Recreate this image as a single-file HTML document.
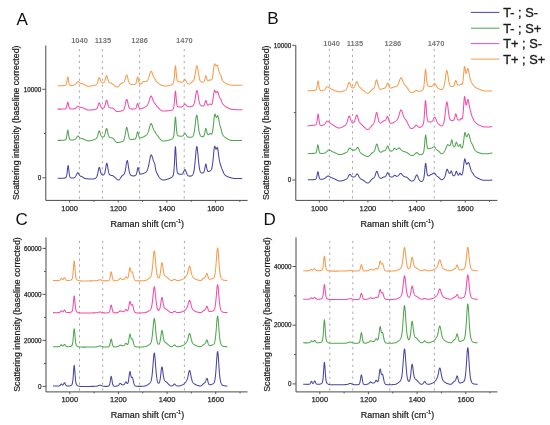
<!DOCTYPE html><html><head><meta charset="utf-8"><style>html,body{margin:0;padding:0;background:#fff;width:550px;height:425px;overflow:hidden}svg{display:block;-webkit-font-smoothing:antialiased;will-change:transform}</style></head><body>
<svg width="550" height="425" viewBox="0 0 550 425" font-family='"Liberation Sans", sans-serif'>
<rect width="550" height="425" fill="#fff"/>
<text x="16.6" y="24.8" font-size="17" fill="#111">A</text>
<text x="267.3" y="23.5" font-size="17" fill="#111">B</text>
<text x="15.4" y="225.0" font-size="17" fill="#111">C</text>
<text x="263.6" y="225.0" font-size="17" fill="#111">D</text>
<line x1="79.4" y1="49.0" x2="79.4" y2="200.4" stroke="#9c9c9c" stroke-width="0.85" stroke-dasharray="2.3 3.6"/>
<line x1="102.4" y1="49.0" x2="102.4" y2="200.4" stroke="#9c9c9c" stroke-width="0.85" stroke-dasharray="2.3 3.6"/>
<line x1="139.6" y1="49.0" x2="139.6" y2="200.4" stroke="#9c9c9c" stroke-width="0.85" stroke-dasharray="2.3 3.6"/>
<line x1="184.2" y1="49.0" x2="184.2" y2="200.4" stroke="#9c9c9c" stroke-width="0.85" stroke-dasharray="2.3 3.6"/>
<path d="M45.8,45.5 V200.4 H247.6" fill="none" stroke="#4a4a4a" stroke-width="1"/>
<line x1="69.60" y1="200.4" x2="69.60" y2="202.6" stroke="#4a4a4a" stroke-width="0.9"/>
<text x="69.60" y="210.50" font-size="7.5" fill="#2a2a2a" stroke="#2a2a2a" stroke-width="0.25" text-anchor="middle">1000</text>
<line x1="93.92" y1="200.4" x2="93.92" y2="201.9" stroke="#4a4a4a" stroke-width="0.9"/>
<line x1="118.24" y1="200.4" x2="118.24" y2="202.6" stroke="#4a4a4a" stroke-width="0.9"/>
<text x="118.24" y="210.50" font-size="7.5" fill="#2a2a2a" stroke="#2a2a2a" stroke-width="0.25" text-anchor="middle">1200</text>
<line x1="142.56" y1="200.4" x2="142.56" y2="201.9" stroke="#4a4a4a" stroke-width="0.9"/>
<line x1="166.88" y1="200.4" x2="166.88" y2="202.6" stroke="#4a4a4a" stroke-width="0.9"/>
<text x="166.88" y="210.50" font-size="7.5" fill="#2a2a2a" stroke="#2a2a2a" stroke-width="0.25" text-anchor="middle">1400</text>
<line x1="191.20" y1="200.4" x2="191.20" y2="201.9" stroke="#4a4a4a" stroke-width="0.9"/>
<line x1="215.52" y1="200.4" x2="215.52" y2="202.6" stroke="#4a4a4a" stroke-width="0.9"/>
<text x="215.52" y="210.50" font-size="7.5" fill="#2a2a2a" stroke="#2a2a2a" stroke-width="0.25" text-anchor="middle">1600</text>
<line x1="239.84" y1="200.4" x2="239.84" y2="201.9" stroke="#4a4a4a" stroke-width="0.9"/>
<line x1="42.3" y1="177.8" x2="45.8" y2="177.8" stroke="#4a4a4a" stroke-width="0.9"/>
<text x="41.20" y="180.00" font-size="6.3" fill="#2a2a2a" stroke="#2a2a2a" stroke-width="0.25" text-anchor="end">0</text>
<line x1="43.8" y1="133.5" x2="45.8" y2="133.5" stroke="#4a4a4a" stroke-width="0.9"/>
<line x1="42.3" y1="89.3" x2="45.8" y2="89.3" stroke="#4a4a4a" stroke-width="0.9"/>
<text x="41.20" y="91.50" font-size="6.3" fill="#2a2a2a" stroke="#2a2a2a" stroke-width="0.25" text-anchor="end">10000</text>
<text x="110.50" y="226.50" font-size="9" fill="#1a1a1a" stroke="#1a1a1a" stroke-width="0.2">Raman shift (cm<tspan font-size="5.6" dy="-3.6">-1</tspan><tspan dy="3.6">)</tspan></text>
<text transform="translate(19.30,122.8) rotate(-90)" x="0" y="0" font-size="8.8" fill="#1a1a1a" stroke="#1a1a1a" stroke-width="0.2" text-anchor="middle">Scattering intensity (baseline corrected)</text>
<line x1="329.4" y1="48.8" x2="329.4" y2="200.4" stroke="#9c9c9c" stroke-width="0.85" stroke-dasharray="2.3 3.6"/>
<line x1="352.5" y1="48.8" x2="352.5" y2="200.4" stroke="#9c9c9c" stroke-width="0.85" stroke-dasharray="2.3 3.6"/>
<line x1="389.6" y1="48.8" x2="389.6" y2="200.4" stroke="#9c9c9c" stroke-width="0.85" stroke-dasharray="2.3 3.6"/>
<line x1="434.2" y1="48.8" x2="434.2" y2="200.4" stroke="#9c9c9c" stroke-width="0.85" stroke-dasharray="2.3 3.6"/>
<path d="M295.8,45.3 V200.4 H497.4" fill="none" stroke="#4a4a4a" stroke-width="1"/>
<line x1="319.30" y1="200.4" x2="319.30" y2="202.6" stroke="#4a4a4a" stroke-width="0.9"/>
<text x="319.30" y="210.50" font-size="7.5" fill="#2a2a2a" stroke="#2a2a2a" stroke-width="0.25" text-anchor="middle">1000</text>
<line x1="343.62" y1="200.4" x2="343.62" y2="201.9" stroke="#4a4a4a" stroke-width="0.9"/>
<line x1="367.94" y1="200.4" x2="367.94" y2="202.6" stroke="#4a4a4a" stroke-width="0.9"/>
<text x="367.94" y="210.50" font-size="7.5" fill="#2a2a2a" stroke="#2a2a2a" stroke-width="0.25" text-anchor="middle">1200</text>
<line x1="392.26" y1="200.4" x2="392.26" y2="201.9" stroke="#4a4a4a" stroke-width="0.9"/>
<line x1="416.58" y1="200.4" x2="416.58" y2="202.6" stroke="#4a4a4a" stroke-width="0.9"/>
<text x="416.58" y="210.50" font-size="7.5" fill="#2a2a2a" stroke="#2a2a2a" stroke-width="0.25" text-anchor="middle">1400</text>
<line x1="440.90" y1="200.4" x2="440.90" y2="201.9" stroke="#4a4a4a" stroke-width="0.9"/>
<line x1="465.22" y1="200.4" x2="465.22" y2="202.6" stroke="#4a4a4a" stroke-width="0.9"/>
<text x="465.22" y="210.50" font-size="7.5" fill="#2a2a2a" stroke="#2a2a2a" stroke-width="0.25" text-anchor="middle">1600</text>
<line x1="489.54" y1="200.4" x2="489.54" y2="201.9" stroke="#4a4a4a" stroke-width="0.9"/>
<line x1="292.3" y1="180.0" x2="295.8" y2="180.0" stroke="#4a4a4a" stroke-width="0.9"/>
<text x="291.20" y="182.20" font-size="6.3" fill="#2a2a2a" stroke="#2a2a2a" stroke-width="0.25" text-anchor="end">0</text>
<line x1="293.8" y1="112.6" x2="295.8" y2="112.6" stroke="#4a4a4a" stroke-width="0.9"/>
<line x1="292.3" y1="45.3" x2="295.8" y2="45.3" stroke="#4a4a4a" stroke-width="0.9"/>
<text x="291.20" y="47.50" font-size="6.3" fill="#2a2a2a" stroke="#2a2a2a" stroke-width="0.25" text-anchor="end">10000</text>
<text x="360.50" y="226.50" font-size="9" fill="#1a1a1a" stroke="#1a1a1a" stroke-width="0.2">Raman shift (cm<tspan font-size="5.6" dy="-3.6">-1</tspan><tspan dy="3.6">)</tspan></text>
<text transform="translate(269.30,122.8) rotate(-90)" x="0" y="0" font-size="8.8" fill="#1a1a1a" stroke="#1a1a1a" stroke-width="0.2" text-anchor="middle">Scattering intensity (baseline corrected)</text>
<line x1="79.5" y1="240.8" x2="79.5" y2="391.9" stroke="#9c9c9c" stroke-width="0.85" stroke-dasharray="2.3 3.6"/>
<line x1="102.7" y1="240.8" x2="102.7" y2="391.9" stroke="#9c9c9c" stroke-width="0.85" stroke-dasharray="2.3 3.6"/>
<line x1="139.6" y1="240.8" x2="139.6" y2="391.9" stroke="#9c9c9c" stroke-width="0.85" stroke-dasharray="2.3 3.6"/>
<line x1="184.4" y1="240.8" x2="184.4" y2="391.9" stroke="#9c9c9c" stroke-width="0.85" stroke-dasharray="2.3 3.6"/>
<path d="M46.0,237.3 V391.9 H247.5" fill="none" stroke="#4a4a4a" stroke-width="1"/>
<line x1="69.80" y1="391.9" x2="69.80" y2="394.09999999999997" stroke="#4a4a4a" stroke-width="0.9"/>
<text x="69.80" y="402.00" font-size="7.5" fill="#2a2a2a" stroke="#2a2a2a" stroke-width="0.25" text-anchor="middle">1000</text>
<line x1="94.12" y1="391.9" x2="94.12" y2="393.4" stroke="#4a4a4a" stroke-width="0.9"/>
<line x1="118.44" y1="391.9" x2="118.44" y2="394.09999999999997" stroke="#4a4a4a" stroke-width="0.9"/>
<text x="118.44" y="402.00" font-size="7.5" fill="#2a2a2a" stroke="#2a2a2a" stroke-width="0.25" text-anchor="middle">1200</text>
<line x1="142.76" y1="391.9" x2="142.76" y2="393.4" stroke="#4a4a4a" stroke-width="0.9"/>
<line x1="167.08" y1="391.9" x2="167.08" y2="394.09999999999997" stroke="#4a4a4a" stroke-width="0.9"/>
<text x="167.08" y="402.00" font-size="7.5" fill="#2a2a2a" stroke="#2a2a2a" stroke-width="0.25" text-anchor="middle">1400</text>
<line x1="191.40" y1="391.9" x2="191.40" y2="393.4" stroke="#4a4a4a" stroke-width="0.9"/>
<line x1="215.72" y1="391.9" x2="215.72" y2="394.09999999999997" stroke="#4a4a4a" stroke-width="0.9"/>
<text x="215.72" y="402.00" font-size="7.5" fill="#2a2a2a" stroke="#2a2a2a" stroke-width="0.25" text-anchor="middle">1600</text>
<line x1="240.04" y1="391.9" x2="240.04" y2="393.4" stroke="#4a4a4a" stroke-width="0.9"/>
<line x1="42.5" y1="386.4" x2="46.0" y2="386.4" stroke="#4a4a4a" stroke-width="0.9"/>
<text x="41.40" y="388.60" font-size="6.3" fill="#2a2a2a" stroke="#2a2a2a" stroke-width="0.25" text-anchor="end">0</text>
<line x1="44.0" y1="363.4" x2="46.0" y2="363.4" stroke="#4a4a4a" stroke-width="0.9"/>
<line x1="42.5" y1="340.4" x2="46.0" y2="340.4" stroke="#4a4a4a" stroke-width="0.9"/>
<text x="41.40" y="342.60" font-size="6.3" fill="#2a2a2a" stroke="#2a2a2a" stroke-width="0.25" text-anchor="end">20000</text>
<line x1="44.0" y1="317.4" x2="46.0" y2="317.4" stroke="#4a4a4a" stroke-width="0.9"/>
<line x1="42.5" y1="294.4" x2="46.0" y2="294.4" stroke="#4a4a4a" stroke-width="0.9"/>
<text x="41.40" y="296.60" font-size="6.3" fill="#2a2a2a" stroke="#2a2a2a" stroke-width="0.25" text-anchor="end">40000</text>
<line x1="44.0" y1="271.4" x2="46.0" y2="271.4" stroke="#4a4a4a" stroke-width="0.9"/>
<line x1="42.5" y1="248.4" x2="46.0" y2="248.4" stroke="#4a4a4a" stroke-width="0.9"/>
<text x="41.40" y="250.60" font-size="6.3" fill="#2a2a2a" stroke="#2a2a2a" stroke-width="0.25" text-anchor="end">60000</text>
<text x="110.70" y="418.00" font-size="9" fill="#1a1a1a" stroke="#1a1a1a" stroke-width="0.2">Raman shift (cm<tspan font-size="5.6" dy="-3.6">-1</tspan><tspan dy="3.6">)</tspan></text>
<text transform="translate(19.50,314.5) rotate(-90)" x="0" y="0" font-size="8.8" fill="#1a1a1a" stroke="#1a1a1a" stroke-width="0.2" text-anchor="middle">Scattering intensity (baseline corrected)</text>
<line x1="329.8" y1="240.8" x2="329.8" y2="391.9" stroke="#9c9c9c" stroke-width="0.85" stroke-dasharray="2.3 3.6"/>
<line x1="352.8" y1="240.8" x2="352.8" y2="391.9" stroke="#9c9c9c" stroke-width="0.85" stroke-dasharray="2.3 3.6"/>
<line x1="389.8" y1="240.8" x2="389.8" y2="391.9" stroke="#9c9c9c" stroke-width="0.85" stroke-dasharray="2.3 3.6"/>
<line x1="434.4" y1="240.8" x2="434.4" y2="391.9" stroke="#9c9c9c" stroke-width="0.85" stroke-dasharray="2.3 3.6"/>
<path d="M296.0,237.3 V391.9 H497.5" fill="none" stroke="#4a4a4a" stroke-width="1"/>
<line x1="319.80" y1="391.9" x2="319.80" y2="394.09999999999997" stroke="#4a4a4a" stroke-width="0.9"/>
<text x="319.80" y="402.00" font-size="7.5" fill="#2a2a2a" stroke="#2a2a2a" stroke-width="0.25" text-anchor="middle">1000</text>
<line x1="344.12" y1="391.9" x2="344.12" y2="393.4" stroke="#4a4a4a" stroke-width="0.9"/>
<line x1="368.44" y1="391.9" x2="368.44" y2="394.09999999999997" stroke="#4a4a4a" stroke-width="0.9"/>
<text x="368.44" y="402.00" font-size="7.5" fill="#2a2a2a" stroke="#2a2a2a" stroke-width="0.25" text-anchor="middle">1200</text>
<line x1="392.76" y1="391.9" x2="392.76" y2="393.4" stroke="#4a4a4a" stroke-width="0.9"/>
<line x1="417.08" y1="391.9" x2="417.08" y2="394.09999999999997" stroke="#4a4a4a" stroke-width="0.9"/>
<text x="417.08" y="402.00" font-size="7.5" fill="#2a2a2a" stroke="#2a2a2a" stroke-width="0.25" text-anchor="middle">1400</text>
<line x1="441.40" y1="391.9" x2="441.40" y2="393.4" stroke="#4a4a4a" stroke-width="0.9"/>
<line x1="465.72" y1="391.9" x2="465.72" y2="394.09999999999997" stroke="#4a4a4a" stroke-width="0.9"/>
<text x="465.72" y="402.00" font-size="7.5" fill="#2a2a2a" stroke="#2a2a2a" stroke-width="0.25" text-anchor="middle">1600</text>
<line x1="490.04" y1="391.9" x2="490.04" y2="393.4" stroke="#4a4a4a" stroke-width="0.9"/>
<line x1="292.5" y1="383.9" x2="296.0" y2="383.9" stroke="#4a4a4a" stroke-width="0.9"/>
<text x="291.40" y="386.10" font-size="6.3" fill="#2a2a2a" stroke="#2a2a2a" stroke-width="0.25" text-anchor="end">0</text>
<line x1="294.0" y1="354.55" x2="296.0" y2="354.55" stroke="#4a4a4a" stroke-width="0.9"/>
<line x1="292.5" y1="325.2" x2="296.0" y2="325.2" stroke="#4a4a4a" stroke-width="0.9"/>
<text x="291.40" y="327.40" font-size="6.3" fill="#2a2a2a" stroke="#2a2a2a" stroke-width="0.25" text-anchor="end">20000</text>
<line x1="294.0" y1="295.85" x2="296.0" y2="295.85" stroke="#4a4a4a" stroke-width="0.9"/>
<line x1="292.5" y1="266.5" x2="296.0" y2="266.5" stroke="#4a4a4a" stroke-width="0.9"/>
<text x="291.40" y="268.70" font-size="6.3" fill="#2a2a2a" stroke="#2a2a2a" stroke-width="0.25" text-anchor="end">40000</text>
<text x="360.70" y="418.00" font-size="9" fill="#1a1a1a" stroke="#1a1a1a" stroke-width="0.2">Raman shift (cm<tspan font-size="5.6" dy="-3.6">-1</tspan><tspan dy="3.6">)</tspan></text>
<text transform="translate(269.50,314.5) rotate(-90)" x="0" y="0" font-size="8.8" fill="#1a1a1a" stroke="#1a1a1a" stroke-width="0.2" text-anchor="middle">Scattering intensity (baseline corrected)</text>
<text x="79.5" y="43.3" font-size="7.5" fill="#767676" font-weight="bold" text-anchor="middle">1040</text>
<text x="103.0" y="43.3" font-size="7.5" fill="#767676" font-weight="bold" text-anchor="middle">1135</text>
<text x="139.6" y="43.3" font-size="7.5" fill="#767676" font-weight="bold" text-anchor="middle">1286</text>
<text x="184.4" y="43.3" font-size="7.5" fill="#767676" font-weight="bold" text-anchor="middle">1470</text>
<text x="331.6" y="45.5" font-size="7.5" fill="#767676" font-weight="bold" text-anchor="middle">1040</text>
<text x="355.0" y="45.5" font-size="7.5" fill="#767676" font-weight="bold" text-anchor="middle">1135</text>
<text x="392.9" y="45.5" font-size="7.5" fill="#767676" font-weight="bold" text-anchor="middle">1286</text>
<text x="436.0" y="45.5" font-size="7.5" fill="#767676" font-weight="bold" text-anchor="middle">1470</text>
<polyline fill="none" stroke="#4646a6" stroke-width="1.05" stroke-linejoin="round" points="57.70,178.30 57.95,178.30 58.20,178.30 58.45,178.30 58.70,178.30 58.95,178.30 59.20,178.30 59.45,178.30 59.70,178.30 59.95,178.29 60.20,178.29 60.45,178.29 60.70,178.29 60.95,178.28 61.20,178.28 61.45,178.27 61.70,178.26 61.95,178.26 62.20,178.25 62.45,178.24 62.70,178.23 62.95,178.21 63.20,178.20 63.45,178.18 63.70,178.16 63.95,178.14 64.20,178.11 64.45,178.07 64.70,178.03 64.95,177.98 65.20,177.91 65.45,177.81 65.70,177.67 65.95,177.45 66.20,177.07 66.45,176.43 66.70,175.42 66.95,173.92 67.20,171.93 67.45,169.61 67.70,167.34 67.95,165.79 68.20,165.63 68.45,166.94 68.70,169.12 68.95,171.47 69.20,173.54 69.45,175.13 69.70,176.23 69.95,176.93 70.20,177.34 70.45,177.58 70.70,177.73 70.95,177.82 71.20,177.89 71.45,177.94 71.70,177.97 71.95,178.00 72.20,178.01 72.45,178.02 72.70,178.01 72.95,177.99 73.20,177.95 73.45,177.91 73.70,177.85 73.95,177.76 74.20,177.66 74.45,177.53 74.70,177.35 74.95,177.14 75.20,176.87 75.45,176.55 75.70,176.17 75.95,175.73 76.20,175.24 76.45,174.72 76.70,174.19 76.95,173.68 77.20,173.25 77.45,172.95 77.70,172.80 77.95,172.83 78.20,173.03 78.45,173.35 78.70,173.75 78.95,174.17 79.20,174.60 79.45,174.99 79.70,175.33 79.95,175.63 80.20,175.87 80.45,176.07 80.70,176.22 80.95,176.33 81.20,176.42 81.45,176.49 81.70,176.56 81.95,176.65 82.20,176.78 82.45,176.93 82.70,177.10 82.95,177.28 83.20,177.47 83.45,177.66 83.70,177.85 83.95,178.02 84.20,178.18 84.45,178.32 84.70,178.42 84.95,178.49 85.20,178.53 85.45,178.57 85.70,178.61 85.95,178.64 86.20,178.67 86.45,178.70 86.70,178.74 86.95,178.76 87.20,178.79 87.45,178.82 87.70,178.84 87.95,178.87 88.20,178.89 88.45,178.91 88.70,178.93 88.95,178.95 89.20,178.96 89.45,178.98 89.70,178.99 89.95,179.00 90.20,179.01 90.45,179.02 90.70,179.03 90.95,179.03 91.20,179.04 91.45,179.04 91.70,179.04 91.95,179.03 92.20,179.03 92.45,179.02 92.70,179.01 92.95,179.00 93.20,178.98 93.45,178.95 93.70,178.91 93.95,178.85 94.20,178.78 94.45,178.69 94.70,178.59 94.95,178.48 95.20,178.35 95.45,178.21 95.70,178.03 95.95,177.83 96.20,177.57 96.45,177.25 96.70,176.84 96.95,176.30 97.20,175.62 97.45,174.76 97.70,173.72 97.95,172.51 98.20,171.21 98.45,169.88 98.70,168.69 98.95,167.80 99.20,167.40 99.45,167.55 99.70,168.19 99.95,169.14 100.20,170.22 100.45,171.29 100.70,172.26 100.95,173.08 101.20,173.72 101.45,174.19 101.70,174.53 101.95,174.75 102.20,174.89 102.45,174.97 102.70,175.01 102.95,175.01 103.20,174.98 103.45,174.90 103.70,174.76 103.95,174.55 104.20,174.22 104.45,173.75 104.70,173.10 104.95,172.22 105.20,171.11 105.45,169.76 105.70,168.24 105.95,166.63 106.20,165.11 106.45,163.91 106.70,163.26 106.95,163.34 107.20,164.12 107.45,165.41 107.70,166.97 107.95,168.58 108.20,170.09 108.45,171.40 108.70,172.48 108.95,173.32 109.20,173.95 109.45,174.40 109.70,174.72 109.95,174.94 110.20,175.09 110.45,175.20 110.70,175.28 110.95,175.34 111.20,175.39 111.45,175.43 111.70,175.47 111.95,175.49 112.20,175.53 112.45,175.60 112.70,175.70 112.95,175.82 113.20,175.97 113.45,176.14 113.70,176.34 113.95,176.54 114.20,176.77 114.45,177.00 114.70,177.24 114.95,177.49 115.20,177.74 115.45,177.99 115.70,178.24 115.95,178.48 116.20,178.72 116.45,178.94 116.70,179.15 116.95,179.35 117.20,179.52 117.45,179.67 117.70,179.80 117.95,179.90 118.20,179.97 118.45,180.00 118.70,179.99 118.95,179.91 119.20,179.75 119.45,179.53 119.70,179.26 119.95,178.94 120.20,178.58 120.45,178.20 120.70,177.80 120.95,177.40 121.20,177.00 121.45,176.61 121.70,176.25 121.95,175.91 122.20,175.61 122.45,175.36 122.70,175.16 122.95,175.02 123.20,174.91 123.45,174.77 123.70,174.58 123.95,174.31 124.20,173.95 124.45,173.45 124.70,172.80 124.95,171.95 125.20,170.88 125.45,169.60 125.70,168.11 125.95,166.48 126.20,164.78 126.45,163.15 126.70,161.76 126.95,160.82 127.20,160.50 127.45,160.87 127.70,161.85 127.95,163.28 128.20,164.95 128.45,166.69 128.70,168.37 128.95,169.89 129.20,171.21 129.45,172.31 129.70,173.19 129.95,173.88 130.20,174.40 130.45,174.79 130.70,175.08 130.95,175.29 131.20,175.44 131.45,175.56 131.70,175.65 131.95,175.72 132.20,175.78 132.45,175.82 132.70,175.86 132.95,175.88 133.20,175.90 133.45,175.91 133.70,175.90 133.95,175.89 134.20,175.86 134.45,175.82 134.70,175.76 134.95,175.69 135.20,175.59 135.45,175.45 135.70,175.26 135.95,174.97 136.20,174.53 136.45,173.90 136.70,173.02 136.95,171.89 137.20,170.56 137.45,169.19 137.70,168.04 137.95,167.43 138.20,167.59 138.45,168.41 138.70,169.58 138.95,170.80 139.20,171.87 139.45,172.71 139.70,173.30 139.95,173.67 140.20,173.88 140.45,173.99 140.70,174.03 140.95,174.02 141.20,174.00 141.45,173.96 141.70,173.91 141.95,173.86 142.20,173.79 142.45,173.73 142.70,173.65 142.95,173.58 143.20,173.49 143.45,173.40 143.70,173.31 143.95,173.21 144.20,173.10 144.45,172.98 144.70,172.86 144.95,172.73 145.20,172.58 145.45,172.42 145.70,172.24 145.95,172.04 146.20,171.81 146.45,171.52 146.70,171.17 146.95,170.75 147.20,170.26 147.45,169.68 147.70,169.00 147.95,168.22 148.20,167.32 148.45,166.32 148.70,165.20 148.95,163.99 149.20,162.70 149.45,161.35 149.70,159.99 149.95,158.67 150.20,157.45 150.45,156.40 150.70,155.58 150.95,155.06 151.20,154.87 151.45,155.00 151.70,155.39 151.95,155.99 152.20,156.73 152.45,157.55 152.70,158.40 152.95,159.22 153.20,160.01 153.45,160.73 153.70,161.39 153.95,161.96 154.20,162.47 154.45,162.92 154.70,163.57 154.95,164.84 155.20,166.48 155.45,168.20 155.70,169.75 155.95,170.86 156.20,171.50 156.45,172.10 156.70,172.67 156.95,173.21 157.20,173.73 157.45,174.24 157.70,174.72 157.95,175.18 158.20,175.62 158.45,176.04 158.70,176.44 158.95,176.82 159.20,177.18 159.45,177.53 159.70,177.85 159.95,178.15 160.20,178.43 160.45,178.69 160.70,178.92 160.95,179.14 161.20,179.33 161.45,179.50 161.70,179.64 161.95,179.76 162.20,179.86 162.45,179.93 162.70,179.98 162.95,180.00 163.20,180.00 163.45,179.99 163.70,179.98 163.95,179.96 164.20,179.94 164.45,179.91 164.70,179.87 164.95,179.83 165.20,179.78 165.45,179.73 165.70,179.68 165.95,179.62 166.20,179.55 166.45,179.48 166.70,179.41 166.95,179.34 167.20,179.26 167.45,179.17 167.70,179.09 167.95,179.00 168.20,178.90 168.45,178.81 168.70,178.71 168.95,178.61 169.20,178.50 169.45,178.40 169.70,178.28 169.95,178.17 170.20,178.05 170.45,177.93 170.70,177.80 170.95,177.67 171.20,177.53 171.45,177.38 171.70,177.21 171.95,177.04 172.20,176.84 172.45,176.59 172.70,176.29 172.95,175.88 173.20,175.30 173.45,174.39 173.70,172.94 173.95,170.67 174.20,167.34 174.45,162.86 174.70,157.49 174.95,152.02 175.20,147.86 175.45,146.65 175.70,148.92 175.95,153.53 176.20,158.81 176.45,163.61 176.70,167.38 176.95,170.01 177.20,171.68 177.45,172.65 177.70,173.20 177.95,173.50 178.20,173.69 178.45,173.81 178.70,173.90 178.95,173.98 179.20,174.06 179.45,174.12 179.70,174.17 179.95,174.22 180.20,174.26 180.45,174.30 180.70,174.33 180.95,174.35 181.20,174.35 181.45,174.34 181.70,174.30 181.95,174.22 182.20,174.10 182.45,173.91 182.70,173.65 182.95,173.31 183.20,172.88 183.45,172.37 183.70,171.79 183.95,171.18 184.20,170.59 184.45,170.07 184.70,169.72 184.95,169.59 185.20,169.74 185.45,170.14 185.70,170.72 185.95,171.42 186.20,172.15 186.45,172.87 186.70,173.52 186.95,174.10 187.20,174.59 187.45,174.99 187.70,175.30 187.95,175.55 188.20,175.73 188.45,175.87 188.70,175.97 188.95,176.04 189.20,176.09 189.45,176.12 189.70,176.14 189.95,176.14 190.20,176.13 190.45,176.11 190.70,176.07 190.95,176.01 191.20,175.94 191.45,175.85 191.70,175.73 191.95,175.58 192.20,175.40 192.45,175.15 192.70,174.84 192.95,174.43 193.20,173.88 193.45,173.17 193.70,172.26 193.95,171.09 194.20,169.63 194.45,167.85 194.70,165.74 194.95,163.31 195.20,160.60 195.45,157.71 195.70,154.75 195.95,151.92 196.20,149.45 196.45,147.60 196.70,146.61 196.95,146.64 197.20,147.66 197.45,149.51 197.70,151.93 197.95,154.65 198.20,157.46 198.45,160.18 198.70,162.69 198.95,164.92 199.20,166.83 199.45,168.40 199.70,169.67 199.95,170.65 200.20,171.40 200.45,171.94 200.70,172.34 200.95,172.61 201.20,172.79 201.45,172.91 201.70,172.98 201.95,173.02 202.20,173.02 202.45,173.01 202.70,172.97 202.95,172.90 203.20,172.79 203.45,172.62 203.70,172.35 203.95,171.93 204.20,171.29 204.45,170.39 204.70,169.20 204.95,167.78 205.20,166.25 205.45,164.90 205.70,164.10 205.95,164.12 206.20,164.94 206.45,166.23 206.70,167.63 206.95,168.89 207.20,169.90 207.45,170.62 207.70,171.08 207.95,171.35 208.20,171.47 208.45,171.50 208.70,171.48 208.95,171.42 209.20,171.34 209.45,171.24 209.70,171.12 209.95,170.97 210.20,170.81 210.45,170.61 210.70,170.37 210.95,170.07 211.20,169.68 211.45,169.17 211.70,168.49 211.95,167.59 212.20,166.41 212.45,164.92 212.70,163.07 212.95,160.86 213.20,158.34 213.45,155.60 213.70,152.80 213.95,150.18 214.20,148.05 214.45,146.67 214.70,146.18 214.95,146.47 215.20,147.24 215.45,148.13 215.70,148.87 215.95,149.26 216.20,149.24 216.45,148.86 216.70,148.26 216.95,147.68 217.20,147.37 217.45,147.59 217.70,148.43 217.95,149.84 218.20,151.63 218.45,153.61 218.70,155.60 218.95,157.49 219.20,159.18 219.45,160.64 219.70,161.85 219.95,162.83 220.20,163.66 220.45,164.48 220.70,165.29 220.95,166.08 221.20,166.86 221.45,167.60 221.70,168.29 221.95,168.89 222.20,169.43 222.45,170.00 222.70,170.59 222.95,171.18 223.20,171.77 223.45,172.35 223.70,172.90 223.95,173.43 224.20,173.91 224.45,174.33 224.70,174.68 224.95,174.96 225.20,175.17 225.45,175.36 225.70,175.55 225.95,175.73 226.20,175.89 226.45,176.05 226.70,176.19 226.95,176.33 227.20,176.46 227.45,176.58 227.70,176.69 227.95,176.80 228.20,176.90 228.45,177.00 228.70,177.09 228.95,177.18 229.20,177.26 229.45,177.34 229.70,177.41 229.95,177.49 230.20,177.56 230.45,177.63 230.70,177.70 230.95,177.77 231.20,177.84 231.45,177.91 231.70,177.98 231.95,178.04 232.20,178.10 232.45,178.16 232.70,178.22 232.95,178.27 233.20,178.31 233.45,178.36 233.70,178.40 233.95,178.43 234.20,178.46 234.45,178.48 234.70,178.49 234.95,178.50 235.20,178.50 235.45,178.50 235.70,178.51 235.95,178.51 236.20,178.51 236.45,178.51 236.70,178.52 236.95,178.52 237.20,178.52 237.45,178.52 237.70,178.52 237.95,178.52 238.20,178.52 238.45,178.52 238.70,178.51 238.95,178.51 239.20,178.51 239.45,178.50 239.70,178.50 239.95,178.49 240.20,178.49 240.45,178.48 240.70,178.47 240.95,178.47 241.20,178.46 241.45,178.45 241.70,178.44 241.95,178.42 242.20,178.41"/>
<polyline fill="none" stroke="#4ea64e" stroke-width="1.05" stroke-linejoin="round" points="57.50,140.40 57.75,140.40 58.00,140.40 58.25,140.39 58.50,140.39 58.75,140.39 59.00,140.38 59.25,140.38 59.50,140.38 59.75,140.37 60.00,140.37 60.25,140.36 60.50,140.36 60.75,140.35 61.00,140.35 61.25,140.34 61.50,140.33 61.75,140.32 62.00,140.31 62.25,140.30 62.50,140.29 62.75,140.27 63.00,140.26 63.25,140.24 63.50,140.22 63.75,140.20 64.00,140.17 64.25,140.13 64.50,140.09 64.75,140.04 65.00,139.98 65.25,139.89 65.50,139.75 65.75,139.52 66.00,139.14 66.25,138.52 66.50,137.55 66.75,136.18 67.00,134.45 67.25,132.55 67.50,130.88 67.75,130.03 68.00,130.40 68.25,131.80 68.50,133.66 68.75,135.48 69.00,137.00 69.25,138.11 69.50,138.85 69.75,139.31 70.00,139.57 70.25,139.73 70.50,139.82 70.75,139.88 71.00,139.92 71.25,139.95 71.50,139.97 71.75,139.99 72.00,140.00 72.25,140.00 72.50,140.00 72.75,139.98 73.00,139.96 73.25,139.93 73.50,139.89 73.75,139.83 74.00,139.77 74.25,139.69 74.50,139.60 74.75,139.48 75.00,139.33 75.25,139.15 75.50,138.93 75.75,138.67 76.00,138.37 76.25,138.02 76.50,137.65 76.75,137.27 77.00,136.88 77.25,136.53 77.50,136.24 77.75,136.05 78.00,135.99 78.25,136.05 78.50,136.22 78.75,136.46 79.00,136.74 79.25,137.04 79.50,137.32 79.75,137.58 80.00,137.81 80.25,138.00 80.50,138.15 80.75,138.27 81.00,138.37 81.25,138.44 81.50,138.50 81.75,138.55 82.00,138.61 82.25,138.67 82.50,138.75 82.75,138.82 83.00,138.91 83.25,139.00 83.50,139.10 83.75,139.21 84.00,139.32 84.25,139.44 84.50,139.55 84.75,139.67 85.00,139.79 85.25,139.91 85.50,140.03 85.75,140.15 86.00,140.26 86.25,140.37 86.50,140.47 86.75,140.56 87.00,140.64 87.25,140.72 87.50,140.78 87.75,140.83 88.00,140.87 88.25,140.89 88.50,140.90 88.75,140.90 89.00,140.89 89.25,140.87 89.50,140.85 89.75,140.82 90.00,140.79 90.25,140.75 90.50,140.71 90.75,140.66 91.00,140.61 91.25,140.55 91.50,140.49 91.75,140.42 92.00,140.35 92.25,140.28 92.50,140.21 92.75,140.13 93.00,140.04 93.25,139.96 93.50,139.87 93.75,139.77 94.00,139.68 94.25,139.58 94.50,139.47 94.75,139.37 95.00,139.25 95.25,139.13 95.50,139.00 95.75,138.86 96.00,138.69 96.25,138.48 96.50,138.23 96.75,137.90 97.00,137.48 97.25,136.95 97.50,136.28 97.75,135.49 98.00,134.57 98.25,133.59 98.50,132.62 98.75,131.77 99.00,131.19 99.25,130.99 99.50,131.22 99.75,131.78 100.00,132.56 100.25,133.41 100.50,134.24 100.75,134.97 101.00,135.58 101.25,136.07 101.50,136.42 101.75,136.67 102.00,136.84 102.25,136.94 102.50,137.00 102.75,137.02 103.00,137.01 103.25,136.96 103.50,136.87 103.75,136.72 104.00,136.49 104.25,136.15 104.50,135.67 104.75,135.03 105.00,134.21 105.25,133.22 105.50,132.10 105.75,130.91 106.00,129.79 106.25,128.91 106.50,128.44 106.75,128.51 107.00,129.10 107.25,130.08 107.50,131.25 107.75,132.45 108.00,133.59 108.25,134.57 108.50,135.39 108.75,136.03 109.00,136.51 109.25,136.86 109.50,137.12 109.75,137.30 110.00,137.43 110.25,137.53 110.50,137.60 110.75,137.67 111.00,137.72 111.25,137.77 111.50,137.82 111.75,137.86 112.00,137.90 112.25,137.97 112.50,138.08 112.75,138.24 113.00,138.45 113.25,138.68 113.50,138.94 113.75,139.23 114.00,139.54 114.25,139.85 114.50,140.18 114.75,140.50 115.00,140.82 115.25,141.12 115.50,141.41 115.75,141.68 116.00,141.92 116.25,142.13 116.50,142.29 116.75,142.41 117.00,142.48 117.25,142.50 117.50,142.49 117.75,142.48 118.00,142.47 118.25,142.45 118.50,142.43 118.75,142.40 119.00,142.37 119.25,142.34 119.50,142.30 119.75,142.26 120.00,142.22 120.25,142.17 120.50,142.12 120.75,142.06 121.00,141.99 121.25,141.93 121.50,141.85 121.75,141.77 122.00,141.67 122.25,141.57 122.50,141.44 122.75,141.29 123.00,141.10 123.25,140.86 123.50,140.55 123.75,140.15 124.00,139.61 124.25,138.92 124.50,138.06 124.75,136.99 125.00,135.73 125.25,134.30 125.50,132.74 125.75,131.14 126.00,129.63 126.25,128.37 126.50,127.55 126.75,127.30 127.00,127.67 127.25,128.56 127.50,129.82 127.75,131.26 128.00,132.74 128.25,134.14 128.50,135.39 128.75,136.45 129.00,137.32 129.25,138.00 129.50,138.51 129.75,138.87 130.00,139.13 130.25,139.30 130.50,139.41 130.75,139.47 131.00,139.51 131.25,139.52 131.50,139.52 131.75,139.51 132.00,139.50 132.25,139.48 132.50,139.45 132.75,139.43 133.00,139.39 133.25,139.36 133.50,139.32 133.75,139.27 134.00,139.22 134.25,139.16 134.50,139.09 134.75,139.01 135.00,138.90 135.25,138.74 135.50,138.51 135.75,138.16 136.00,137.63 136.25,136.89 136.50,135.92 136.75,134.76 137.00,133.52 137.25,132.43 137.50,131.78 137.75,131.80 138.00,132.48 138.25,133.54 138.50,134.69 138.75,135.73 139.00,136.56 139.25,137.16 139.50,137.55 139.75,137.79 140.00,137.90 140.25,137.95 140.50,137.96 140.75,137.94 141.00,137.90 141.25,137.85 141.50,137.78 141.75,137.69 142.00,137.60 142.25,137.49 142.50,137.37 142.75,137.25 143.00,137.12 143.25,136.98 143.50,136.85 143.75,136.71 144.00,136.56 144.25,136.42 144.50,136.28 144.75,136.14 145.00,136.00 145.25,135.86 145.50,135.70 145.75,135.53 146.00,135.34 146.25,135.12 146.50,134.89 146.75,134.61 147.00,134.30 147.25,133.94 147.50,133.52 147.75,133.04 148.00,132.48 148.25,131.84 148.50,131.13 148.75,130.34 149.00,129.48 149.25,128.57 149.50,127.62 149.75,126.68 150.00,125.78 150.25,124.97 150.50,124.30 150.75,123.83 151.00,123.60 151.25,123.62 151.50,123.89 151.75,124.35 152.00,124.97 152.25,125.67 152.50,126.42 152.75,127.18 153.00,127.91 153.25,128.59 153.50,129.21 153.75,129.76 154.00,130.24 154.25,130.65 154.50,131.00 154.75,131.34 155.00,131.72 155.25,132.13 155.50,132.57 155.75,133.01 156.00,133.46 156.25,133.89 156.50,134.30 156.75,134.68 157.00,135.00 157.25,135.30 157.50,135.60 157.75,135.92 158.00,136.24 158.25,136.57 158.50,136.90 158.75,137.24 159.00,137.57 159.25,137.90 159.50,138.22 159.75,138.54 160.00,138.85 160.25,139.14 160.50,139.43 160.75,139.69 161.00,139.94 161.25,140.17 161.50,140.37 161.75,140.55 162.00,140.71 162.25,140.83 162.50,140.92 162.75,140.98 163.00,141.00 163.25,141.00 163.50,141.00 163.75,140.99 164.00,140.98 164.25,140.96 164.50,140.94 164.75,140.92 165.00,140.90 165.25,140.87 165.50,140.84 165.75,140.80 166.00,140.77 166.25,140.73 166.50,140.68 166.75,140.64 167.00,140.59 167.25,140.54 167.50,140.49 167.75,140.43 168.00,140.37 168.25,140.31 168.50,140.25 168.75,140.18 169.00,140.12 169.25,140.05 169.50,139.97 169.75,139.90 170.00,139.82 170.25,139.74 170.50,139.65 170.75,139.56 171.00,139.46 171.25,139.36 171.50,139.25 171.75,139.13 172.00,139.00 172.25,138.85 172.50,138.65 172.75,138.41 173.00,138.08 173.25,137.60 173.50,136.86 173.75,135.70 174.00,133.91 174.25,131.34 174.50,127.97 174.75,124.05 175.00,120.22 175.25,117.55 175.50,117.15 175.75,119.14 176.00,122.55 176.25,126.23 176.50,129.47 176.75,131.94 177.00,133.62 177.25,134.65 177.50,135.23 177.75,135.55 178.00,135.72 178.25,135.82 178.50,135.89 178.75,135.95 179.00,136.00 179.25,136.05 179.50,136.09 179.75,136.13 180.00,136.16 180.25,136.19 180.50,136.22 180.75,136.24 181.00,136.25 181.25,136.25 181.50,136.25 181.75,136.22 182.00,136.18 182.25,136.10 182.50,135.99 182.75,135.84 183.00,135.63 183.25,135.38 183.50,135.09 183.75,134.76 184.00,134.42 184.25,134.09 184.50,133.81 184.75,133.64 185.00,133.60 185.25,133.71 185.50,133.96 185.75,134.31 186.00,134.72 186.25,135.13 186.50,135.53 186.75,135.90 187.00,136.22 187.25,136.48 187.50,136.70 187.75,136.87 188.00,137.01 188.25,137.11 188.50,137.18 188.75,137.24 189.00,137.28 189.25,137.30 189.50,137.32 189.75,137.33 190.00,137.33 190.25,137.32 190.50,137.30 190.75,137.28 191.00,137.24 191.25,137.19 191.50,137.12 191.75,137.03 192.00,136.92 192.25,136.77 192.50,136.56 192.75,136.30 193.00,135.95 193.25,135.48 193.50,134.86 193.75,134.07 194.00,133.06 194.25,131.82 194.50,130.32 194.75,128.57 195.00,126.59 195.25,124.44 195.50,122.20 195.75,119.99 196.00,117.98 196.25,116.37 196.50,115.36 196.75,115.11 197.00,115.66 197.25,116.90 197.50,118.67 197.75,120.76 198.00,122.98 198.25,125.18 198.50,127.24 198.75,129.11 199.00,130.74 199.25,132.11 199.50,133.23 199.75,134.12 200.00,134.81 200.25,135.34 200.50,135.73 200.75,136.02 201.00,136.22 201.25,136.37 201.50,136.48 201.75,136.55 202.00,136.59 202.25,136.62 202.50,136.62 202.75,136.61 203.00,136.56 203.25,136.47 203.50,136.31 203.75,136.04 204.00,135.62 204.25,134.98 204.50,134.09 204.75,132.94 205.00,131.58 205.25,130.17 205.50,128.97 205.75,128.34 206.00,128.48 206.25,129.30 206.50,130.48 206.75,131.70 207.00,132.77 207.25,133.59 207.50,134.16 207.75,134.50 208.00,134.67 208.25,134.71 208.50,134.65 208.75,134.51 209.00,134.34 209.25,134.15 209.50,133.96 209.75,133.80 210.00,133.67 210.25,133.59 210.50,133.62 210.75,133.75 211.00,133.93 211.25,134.08 211.50,134.14 211.75,134.02 212.00,133.65 212.25,132.92 212.50,131.85 212.75,130.45 213.00,128.68 213.25,126.57 213.50,124.18 213.75,121.63 214.00,119.09 214.25,116.82 214.50,115.11 214.75,114.18 215.00,114.08 215.25,114.63 215.50,115.51 215.75,116.43 216.00,117.15 216.25,117.53 216.50,117.52 216.75,117.18 217.00,116.62 217.25,116.03 217.50,115.64 217.75,115.64 218.00,116.10 218.25,116.99 218.50,118.19 218.75,119.54 219.00,120.93 219.25,122.24 219.50,123.43 219.75,124.47 220.00,125.34 220.25,126.07 220.50,126.78 220.75,127.68 221.00,128.72 221.25,129.84 221.50,130.98 221.75,132.06 222.00,133.02 222.25,133.78 222.50,134.27 222.75,134.69 223.00,135.07 223.25,135.43 223.50,135.76 223.75,136.07 224.00,136.36 224.25,136.63 224.50,136.88 224.75,137.11 225.00,137.33 225.25,137.53 225.50,137.71 225.75,137.88 226.00,138.04 226.25,138.19 226.50,138.33 226.75,138.48 227.00,138.62 227.25,138.76 227.50,138.89 227.75,139.02 228.00,139.15 228.25,139.28 228.50,139.40 228.75,139.52 229.00,139.63 229.25,139.74 229.50,139.84 229.75,139.93 230.00,140.02 230.25,140.10 230.50,140.18 230.75,140.25 231.00,140.31 231.25,140.36 231.50,140.41 231.75,140.45 232.00,140.47 232.25,140.49 232.50,140.50 232.75,140.50 233.00,140.51 233.25,140.51 233.50,140.51 233.75,140.52 234.00,140.52 234.25,140.52 234.50,140.52 234.75,140.53 235.00,140.53 235.25,140.53 235.50,140.53 235.75,140.53 236.00,140.53 236.25,140.54 236.50,140.54 236.75,140.54 237.00,140.54 237.25,140.54 237.50,140.54 237.75,140.54 238.00,140.54 238.25,140.54 238.50,140.54 238.75,140.54 239.00,140.54 239.25,140.53 239.50,140.53 239.75,140.53 240.00,140.53 240.25,140.53 240.50,140.52 240.75,140.52 241.00,140.52 241.25,140.51 241.50,140.51 241.75,140.50 242.00,140.50"/>
<polyline fill="none" stroke="#f24cac" stroke-width="1.05" stroke-linejoin="round" points="57.50,109.10 57.75,109.10 58.00,109.10 58.25,109.10 58.50,109.11 58.75,109.11 59.00,109.11 59.25,109.11 59.50,109.11 59.75,109.11 60.00,109.11 60.25,109.11 60.50,109.10 60.75,109.10 61.00,109.10 61.25,109.10 61.50,109.10 61.75,109.09 62.00,109.09 62.25,109.08 62.50,109.08 62.75,109.07 63.00,109.06 63.25,109.05 63.50,109.04 63.75,109.03 64.00,109.01 64.25,108.99 64.50,108.97 64.75,108.94 65.00,108.89 65.25,108.84 65.50,108.75 65.75,108.60 66.00,108.34 66.25,107.92 66.50,107.28 66.75,106.36 67.00,105.19 67.25,103.91 67.50,102.79 67.75,102.22 68.00,102.47 68.25,103.42 68.50,104.68 68.75,105.91 69.00,106.93 69.25,107.69 69.50,108.19 69.75,108.50 70.00,108.68 70.25,108.79 70.50,108.85 70.75,108.90 71.00,108.93 71.25,108.96 71.50,108.97 71.75,108.99 72.00,109.00 72.25,109.01 72.50,109.00 72.75,108.99 73.00,108.97 73.25,108.95 73.50,108.91 73.75,108.87 74.00,108.82 74.25,108.76 74.50,108.68 74.75,108.60 75.00,108.49 75.25,108.36 75.50,108.22 75.75,108.04 76.00,107.85 76.25,107.63 76.50,107.39 76.75,107.14 77.00,106.90 77.25,106.67 77.50,106.48 77.75,106.35 78.00,106.28 78.25,106.29 78.50,106.37 78.75,106.48 79.00,106.62 79.25,106.77 79.50,106.91 79.75,107.04 80.00,107.15 80.25,107.25 80.50,107.32 80.75,107.38 81.00,107.43 81.25,107.47 81.50,107.50 81.75,107.53 82.00,107.58 82.25,107.64 82.50,107.70 82.75,107.78 83.00,107.87 83.25,107.96 83.50,108.07 83.75,108.18 84.00,108.30 84.25,108.42 84.50,108.55 84.75,108.68 85.00,108.81 85.25,108.94 85.50,109.06 85.75,109.19 86.00,109.31 86.25,109.42 86.50,109.53 86.75,109.63 87.00,109.72 87.25,109.80 87.50,109.87 87.75,109.93 88.00,109.97 88.25,109.99 88.50,110.00 88.75,110.00 89.00,109.99 89.25,109.99 89.50,109.98 89.75,109.97 90.00,109.96 90.25,109.95 90.50,109.94 90.75,109.93 91.00,109.91 91.25,109.90 91.50,109.88 91.75,109.86 92.00,109.84 92.25,109.82 92.50,109.79 92.75,109.77 93.00,109.74 93.25,109.71 93.50,109.68 93.75,109.65 94.00,109.62 94.25,109.58 94.50,109.54 94.75,109.50 95.00,109.45 95.25,109.39 95.50,109.33 95.75,109.25 96.00,109.15 96.25,109.03 96.50,108.85 96.75,108.61 97.00,108.29 97.25,107.86 97.50,107.32 97.75,106.66 98.00,105.89 98.25,105.06 98.50,104.24 98.75,103.53 99.00,103.04 99.25,102.90 99.50,103.13 99.75,103.65 100.00,104.36 100.25,105.13 100.50,105.88 100.75,106.54 101.00,107.09 101.25,107.52 101.50,107.83 101.75,108.05 102.00,108.19 102.25,108.27 102.50,108.30 102.75,108.30 103.00,108.27 103.25,108.20 103.50,108.09 103.75,107.93 104.00,107.70 104.25,107.37 104.50,106.91 104.75,106.30 105.00,105.53 105.25,104.61 105.50,103.57 105.75,102.47 106.00,101.43 106.25,100.60 106.50,100.15 106.75,100.18 107.00,100.68 107.25,101.52 107.50,102.54 107.75,103.59 108.00,104.57 108.25,105.43 108.50,106.13 108.75,106.67 109.00,107.07 109.25,107.36 109.50,107.55 109.75,107.68 110.00,107.77 110.25,107.83 110.50,107.87 110.75,107.91 111.00,107.93 111.25,107.95 111.50,107.97 111.75,107.98 112.00,108.00 112.25,108.04 112.50,108.12 112.75,108.23 113.00,108.38 113.25,108.55 113.50,108.75 113.75,108.97 114.00,109.20 114.25,109.44 114.50,109.69 114.75,109.94 115.00,110.19 115.25,110.43 115.50,110.65 115.75,110.86 116.00,111.05 116.25,111.21 116.50,111.34 116.75,111.43 117.00,111.49 117.25,111.50 117.50,111.49 117.75,111.48 118.00,111.47 118.25,111.45 118.50,111.43 118.75,111.41 119.00,111.38 119.25,111.35 119.50,111.32 119.75,111.28 120.00,111.24 120.25,111.20 120.50,111.15 120.75,111.09 121.00,111.04 121.25,110.97 121.50,110.91 121.75,110.83 122.00,110.75 122.25,110.66 122.50,110.55 122.75,110.43 123.00,110.27 123.25,110.08 123.50,109.82 123.75,109.49 124.00,109.07 124.25,108.52 124.50,107.83 124.75,106.98 125.00,105.98 125.25,104.84 125.50,103.61 125.75,102.34 126.00,101.14 126.25,100.15 126.50,99.50 126.75,99.30 127.00,99.59 127.25,100.29 127.50,101.29 127.75,102.43 128.00,103.59 128.25,104.70 128.50,105.69 128.75,106.53 129.00,107.22 129.25,107.76 129.50,108.17 129.75,108.47 130.00,108.68 130.25,108.83 130.50,108.92 130.75,108.99 131.00,109.03 131.25,109.06 131.50,109.08 131.75,109.09 132.00,109.10 132.25,109.11 132.50,109.11 132.75,109.11 133.00,109.10 133.25,109.09 133.50,109.09 133.75,109.07 134.00,109.05 134.25,109.03 134.50,109.00 134.75,108.96 135.00,108.89 135.25,108.79 135.50,108.63 135.75,108.37 136.00,107.98 136.25,107.41 136.50,106.66 136.75,105.76 137.00,104.79 137.25,103.94 137.50,103.45 137.75,103.50 138.00,104.07 138.25,104.95 138.50,105.90 138.75,106.76 139.00,107.46 139.25,107.97 139.50,108.32 139.75,108.54 140.00,108.67 140.25,108.74 140.50,108.78 140.75,108.79 141.00,108.80 141.25,108.79 141.50,108.75 141.75,108.68 142.00,108.60 142.25,108.50 142.50,108.38 142.75,108.26 143.00,108.12 143.25,107.98 143.50,107.84 143.75,107.69 144.00,107.54 144.25,107.40 144.50,107.26 144.75,107.12 145.00,107.00 145.25,106.88 145.50,106.74 145.75,106.59 146.00,106.43 146.25,106.25 146.50,106.05 146.75,105.81 147.00,105.54 147.25,105.23 147.50,104.86 147.75,104.43 148.00,103.94 148.25,103.37 148.50,102.74 148.75,102.03 149.00,101.26 149.25,100.44 149.50,99.59 149.75,98.74 150.00,97.93 150.25,97.20 150.50,96.60 150.75,96.19 151.00,96.00 151.25,96.04 151.50,96.31 151.75,96.75 152.00,97.34 152.25,98.00 152.50,98.71 152.75,99.42 153.00,100.11 153.25,100.75 153.50,101.33 153.75,101.84 154.00,102.29 154.25,102.68 154.50,103.00 154.75,103.31 155.00,103.66 155.25,104.03 155.50,104.41 155.75,104.80 156.00,105.19 156.25,105.57 156.50,105.92 156.75,106.23 157.00,106.50 157.25,106.74 157.50,106.98 157.75,107.23 158.00,107.48 158.25,107.73 158.50,107.98 158.75,108.24 159.00,108.49 159.25,108.73 159.50,108.97 159.75,109.21 160.00,109.43 160.25,109.65 160.50,109.86 160.75,110.05 161.00,110.23 161.25,110.40 161.50,110.55 161.75,110.68 162.00,110.79 162.25,110.88 162.50,110.94 162.75,110.98 163.00,111.00 163.25,111.00 163.50,111.00 163.75,111.00 164.00,111.00 164.25,110.99 164.50,110.99 164.75,110.98 165.00,110.97 165.25,110.96 165.50,110.95 165.75,110.94 166.00,110.93 166.25,110.91 166.50,110.89 166.75,110.88 167.00,110.86 167.25,110.84 167.50,110.81 167.75,110.79 168.00,110.77 168.25,110.74 168.50,110.71 168.75,110.68 169.00,110.65 169.25,110.62 169.50,110.58 169.75,110.54 170.00,110.50 170.25,110.46 170.50,110.41 170.75,110.36 171.00,110.30 171.25,110.24 171.50,110.17 171.75,110.09 172.00,110.00 172.25,109.89 172.50,109.74 172.75,109.54 173.00,109.26 173.25,108.85 173.50,108.21 173.75,107.21 174.00,105.66 174.25,103.44 174.50,100.52 174.75,97.12 175.00,93.81 175.25,91.49 175.50,91.12 175.75,92.81 176.00,95.72 176.25,98.86 176.50,101.62 176.75,103.72 177.00,105.14 177.25,106.00 177.50,106.48 177.75,106.72 178.00,106.84 178.25,106.91 178.50,106.94 178.75,106.97 179.00,107.00 179.25,107.03 179.50,107.04 179.75,107.05 180.00,107.06 180.25,107.06 180.50,107.05 180.75,107.04 181.00,107.02 181.25,106.99 181.50,106.95 181.75,106.89 182.00,106.81 182.25,106.71 182.50,106.57 182.75,106.39 183.00,106.17 183.25,105.90 183.50,105.59 183.75,105.26 184.00,104.91 184.25,104.57 184.50,104.28 184.75,104.08 185.00,104.00 185.25,104.06 185.50,104.24 185.75,104.51 186.00,104.83 186.25,105.16 186.50,105.48 186.75,105.76 187.00,106.01 187.25,106.21 187.50,106.37 187.75,106.48 188.00,106.57 188.25,106.63 188.50,106.66 188.75,106.68 189.00,106.69 189.25,106.69 189.50,106.68 189.75,106.66 190.00,106.65 190.25,106.62 190.50,106.60 190.75,106.56 191.00,106.52 191.25,106.48 191.50,106.43 191.75,106.36 192.00,106.29 192.25,106.19 192.50,106.07 192.75,105.91 193.00,105.70 193.25,105.43 193.50,105.06 193.75,104.59 194.00,103.99 194.25,103.22 194.50,102.28 194.75,101.16 195.00,99.86 195.25,98.40 195.50,96.82 195.75,95.20 196.00,93.62 196.25,92.21 196.50,91.13 196.75,90.51 197.00,90.44 197.25,90.95 197.50,91.94 197.75,93.28 198.00,94.83 198.25,96.44 198.50,98.02 198.75,99.50 199.00,100.82 199.25,101.96 199.50,102.92 199.75,103.70 200.00,104.32 200.25,104.80 200.50,105.17 200.75,105.44 201.00,105.64 201.25,105.78 201.50,105.88 201.75,105.96 202.00,106.01 202.25,106.04 202.50,106.06 202.75,106.06 203.00,106.04 203.25,105.99 203.50,105.89 203.75,105.73 204.00,105.45 204.25,105.03 204.50,104.43 204.75,103.64 205.00,102.71 205.25,101.75 205.50,100.94 205.75,100.52 206.00,100.65 206.25,101.25 206.50,102.11 206.75,102.99 207.00,103.77 207.25,104.37 207.50,104.78 207.75,105.04 208.00,105.14 208.25,105.12 208.50,105.01 208.75,104.86 209.00,104.69 209.25,104.51 209.50,104.34 209.75,104.19 210.00,104.07 210.25,103.99 210.50,104.04 210.75,104.19 211.00,104.38 211.25,104.54 211.50,104.59 211.75,104.43 212.00,103.98 212.25,103.18 212.50,102.11 212.75,100.76 213.00,99.16 213.25,97.37 213.50,95.47 213.75,93.61 214.00,91.99 214.25,90.82 214.50,90.25 214.75,90.27 215.00,90.74 215.25,91.41 215.50,92.08 215.75,92.57 216.00,92.80 216.25,92.75 216.50,92.47 216.75,92.04 217.00,91.61 217.25,91.33 217.50,91.34 217.75,91.67 218.00,92.29 218.25,93.09 218.50,93.98 218.75,94.88 219.00,95.72 219.25,96.47 219.50,97.11 219.75,97.64 220.00,98.07 220.25,98.42 220.50,98.73 220.75,99.18 221.00,99.78 221.25,100.46 221.50,101.19 221.75,101.90 222.00,102.53 222.25,103.02 222.50,103.39 222.75,103.73 223.00,104.05 223.25,104.36 223.50,104.66 223.75,104.94 224.00,105.20 224.25,105.45 224.50,105.69 224.75,105.91 225.00,106.13 225.25,106.32 225.50,106.51 225.75,106.68 226.00,106.84 226.25,106.99 226.50,107.13 226.75,107.28 227.00,107.42 227.25,107.56 227.50,107.70 227.75,107.83 228.00,107.96 228.25,108.09 228.50,108.21 228.75,108.33 229.00,108.44 229.25,108.55 229.50,108.66 229.75,108.76 230.00,108.85 230.25,108.94 230.50,109.02 230.75,109.09 231.00,109.16 231.25,109.22 231.50,109.28 231.75,109.32 232.00,109.36 232.25,109.39 232.50,109.41 232.75,109.43 233.00,109.44 233.25,109.46 233.50,109.48 233.75,109.50 234.00,109.51 234.25,109.53 234.50,109.54 234.75,109.56 235.00,109.57 235.25,109.59 235.50,109.60 235.75,109.61 236.00,109.63 236.25,109.64 236.50,109.65 236.75,109.66 237.00,109.67 237.25,109.68 237.50,109.69 237.75,109.70 238.00,109.71 238.25,109.72 238.50,109.73 238.75,109.74 239.00,109.74 239.25,109.75 239.50,109.76 239.75,109.76 240.00,109.77 240.25,109.77 240.50,109.78 240.75,109.78 241.00,109.79 241.25,109.79 241.50,109.79 241.75,109.80 242.00,109.80 242.25,109.80 242.50,109.80"/>
<polyline fill="none" stroke="#f69c4a" stroke-width="1.05" stroke-linejoin="round" points="57.50,85.70 57.75,85.70 58.00,85.71 58.25,85.71 58.50,85.71 58.75,85.71 59.00,85.72 59.25,85.72 59.50,85.72 59.75,85.72 60.00,85.72 60.25,85.72 60.50,85.72 60.75,85.72 61.00,85.71 61.25,85.71 61.50,85.71 61.75,85.70 62.00,85.70 62.25,85.69 62.50,85.69 62.75,85.68 63.00,85.67 63.25,85.66 63.50,85.64 63.75,85.62 64.00,85.60 64.25,85.58 64.50,85.55 64.75,85.51 65.00,85.45 65.25,85.38 65.50,85.26 65.75,85.07 66.00,84.75 66.25,84.21 66.50,83.39 66.75,82.21 67.00,80.72 67.25,79.09 67.50,77.65 67.75,76.92 68.00,77.25 68.25,78.46 68.50,80.06 68.75,81.64 69.00,82.95 69.25,83.91 69.50,84.55 69.75,84.94 70.00,85.18 70.25,85.31 70.50,85.40 70.75,85.45 71.00,85.48 71.25,85.50 71.50,85.50 71.75,85.50 72.00,85.48 72.25,85.45 72.50,85.42 72.75,85.38 73.00,85.33 73.25,85.28 73.50,85.22 73.75,85.15 74.00,85.07 74.25,84.97 74.50,84.87 74.75,84.74 75.00,84.59 75.25,84.42 75.50,84.21 75.75,83.98 76.00,83.70 76.25,83.40 76.50,83.07 76.75,82.73 77.00,82.39 77.25,82.08 77.50,81.83 77.75,81.66 78.00,81.58 78.25,81.62 78.50,81.74 78.75,81.92 79.00,82.14 79.25,82.36 79.50,82.58 79.75,82.78 80.00,82.96 80.25,83.11 80.50,83.23 80.75,83.32 81.00,83.39 81.25,83.45 81.50,83.50 81.75,83.55 82.00,83.60 82.25,83.67 82.50,83.74 82.75,83.83 83.00,83.92 83.25,84.03 83.50,84.14 83.75,84.26 84.00,84.39 84.25,84.52 84.50,84.65 84.75,84.79 85.00,84.93 85.25,85.07 85.50,85.20 85.75,85.33 86.00,85.46 86.25,85.58 86.50,85.70 86.75,85.81 87.00,85.90 87.25,85.99 87.50,86.06 87.75,86.12 88.00,86.16 88.25,86.19 88.50,86.20 88.75,86.20 89.00,86.19 89.25,86.18 89.50,86.16 89.75,86.15 90.00,86.12 90.25,86.10 90.50,86.07 90.75,86.04 91.00,86.01 91.25,85.97 91.50,85.93 91.75,85.89 92.00,85.85 92.25,85.81 92.50,85.76 92.75,85.72 93.00,85.67 93.25,85.62 93.50,85.57 93.75,85.52 94.00,85.47 94.25,85.41 94.50,85.35 94.75,85.29 95.00,85.21 95.25,85.12 95.50,85.02 95.75,84.90 96.00,84.76 96.25,84.58 96.50,84.36 96.75,84.06 97.00,83.68 97.25,83.19 97.50,82.58 97.75,81.85 98.00,81.01 98.25,80.11 98.50,79.22 98.75,78.43 99.00,77.89 99.25,77.69 99.50,77.87 99.75,78.37 100.00,79.05 100.25,79.80 100.50,80.53 100.75,81.17 101.00,81.71 101.25,82.13 101.50,82.43 101.75,82.64 102.00,82.78 102.25,82.86 102.50,82.90 102.75,82.91 103.00,82.89 103.25,82.84 103.50,82.76 103.75,82.62 104.00,82.41 104.25,82.12 104.50,81.70 104.75,81.15 105.00,80.45 105.25,79.61 105.50,78.66 105.75,77.65 106.00,76.70 106.25,75.95 106.50,75.54 106.75,75.58 107.00,76.07 107.25,76.87 107.50,77.83 107.75,78.83 108.00,79.76 108.25,80.58 108.50,81.25 108.75,81.77 109.00,82.16 109.25,82.44 109.50,82.63 109.75,82.77 110.00,82.87 110.25,82.93 110.50,82.98 110.75,83.03 111.00,83.09 111.25,83.18 111.50,83.29 111.75,83.42 112.00,83.57 112.25,83.74 112.50,83.92 112.75,84.11 113.00,84.32 113.25,84.53 113.50,84.74 113.75,84.96 114.00,85.18 114.25,85.40 114.50,85.61 114.75,85.82 115.00,86.02 115.25,86.21 115.50,86.38 115.75,86.54 116.00,86.68 116.25,86.79 116.50,86.89 116.75,86.95 117.00,86.99 117.25,87.00 117.50,86.95 117.75,86.86 118.00,86.71 118.25,86.52 118.50,86.30 118.75,86.05 119.00,85.78 119.25,85.49 119.50,85.19 119.75,84.88 120.00,84.58 120.25,84.29 120.50,84.01 120.75,83.76 121.00,83.53 121.25,83.33 121.50,83.17 121.75,83.06 122.00,83.00 122.25,82.96 122.50,82.92 122.75,82.87 123.00,82.79 123.25,82.69 123.50,82.55 123.75,82.35 124.00,82.07 124.25,81.70 124.50,81.21 124.75,80.60 125.00,79.86 125.25,79.02 125.50,78.09 125.75,77.14 126.00,76.25 126.25,75.53 126.50,75.09 126.75,75.02 127.00,75.35 127.25,76.03 127.50,76.94 127.75,77.98 128.00,79.03 128.25,80.03 128.50,80.93 128.75,81.71 129.00,82.36 129.25,82.89 129.50,83.30 129.75,83.61 130.00,83.85 130.25,84.03 130.50,84.17 130.75,84.27 131.00,84.35 131.25,84.40 131.50,84.45 131.75,84.48 132.00,84.50 132.25,84.51 132.50,84.52 132.75,84.52 133.00,84.52 133.25,84.52 133.50,84.51 133.75,84.49 134.00,84.47 134.25,84.44 134.50,84.40 134.75,84.34 135.00,84.26 135.25,84.12 135.50,83.91 135.75,83.56 136.00,83.04 136.25,82.30 136.50,81.31 136.75,80.12 137.00,78.84 137.25,77.72 137.50,77.07 137.75,77.13 138.00,77.87 138.25,79.01 138.50,80.25 138.75,81.37 139.00,82.28 139.25,82.95 139.50,83.40 139.75,83.68 140.00,83.84 140.25,83.93 140.50,83.98 140.75,84.00 141.00,84.00 141.25,83.93 141.50,83.74 141.75,83.46 142.00,83.12 142.25,82.75 142.50,82.39 142.75,82.05 143.00,81.77 143.25,81.58 143.50,81.50 143.75,81.49 144.00,81.49 144.25,81.49 144.50,81.49 144.75,81.48 145.00,81.48 145.25,81.47 145.50,81.45 145.75,81.42 146.00,81.37 146.25,81.30 146.50,81.21 146.75,81.07 147.00,80.90 147.25,80.67 147.50,80.37 147.75,80.00 148.00,79.54 148.25,79.00 148.50,78.37 148.75,77.66 149.00,76.88 149.25,76.03 149.50,75.15 149.75,74.26 150.00,73.40 150.25,72.62 150.50,71.98 150.75,71.53 151.00,71.30 151.25,71.32 151.50,71.56 151.75,72.00 152.00,72.58 152.25,73.25 152.50,73.96 152.75,74.67 153.00,75.36 153.25,76.01 153.50,76.59 153.75,77.11 154.00,77.57 154.25,77.96 154.50,78.30 154.75,78.63 155.00,79.01 155.25,79.42 155.50,79.84 155.75,80.28 156.00,80.71 156.25,81.12 156.50,81.50 156.75,81.83 157.00,82.10 157.25,82.32 157.50,82.54 157.75,82.75 158.00,82.96 158.25,83.16 158.50,83.36 158.75,83.55 159.00,83.73 159.25,83.91 159.50,84.08 159.75,84.24 160.00,84.40 160.25,84.55 160.50,84.68 160.75,84.81 161.00,84.93 161.25,85.04 161.50,85.14 161.75,85.23 162.00,85.30 162.25,85.37 162.50,85.44 162.75,85.50 163.00,85.57 163.25,85.63 163.50,85.68 163.75,85.74 164.00,85.79 164.25,85.84 164.50,85.88 164.75,85.92 165.00,85.95 165.25,85.97 165.50,85.99 165.75,86.00 166.00,86.00 166.25,85.99 166.50,85.98 166.75,85.96 167.00,85.94 167.25,85.90 167.50,85.86 167.75,85.82 168.00,85.77 168.25,85.72 168.50,85.66 168.75,85.60 169.00,85.53 169.25,85.47 169.50,85.39 169.75,85.32 170.00,85.24 170.25,85.16 170.50,85.08 170.75,84.99 171.00,84.90 171.25,84.80 171.50,84.68 171.75,84.54 172.00,84.38 172.25,84.20 172.50,84.00 172.75,83.75 173.00,83.43 173.25,82.99 173.50,82.34 173.75,81.33 174.00,79.81 174.25,77.64 174.50,74.81 174.75,71.51 175.00,68.30 175.25,66.06 175.50,65.73 175.75,67.39 176.00,70.25 176.25,73.34 176.50,76.06 176.75,78.15 177.00,79.58 177.25,80.47 177.50,81.00 177.75,81.31 178.00,81.50 178.25,81.63 178.50,81.73 178.75,81.81 179.00,81.87 179.25,81.93 179.50,81.98 179.75,82.02 180.00,82.07 180.25,82.10 180.50,82.13 180.75,82.16 181.00,82.18 181.25,82.18 181.50,82.18 181.75,82.15 182.00,82.10 182.25,82.02 182.50,81.90 182.75,81.75 183.00,81.55 183.25,81.30 183.50,81.00 183.75,80.67 184.00,80.33 184.25,80.01 184.50,79.75 184.75,79.60 185.00,79.60 185.25,79.77 185.50,80.09 185.75,80.52 186.00,81.00 186.25,81.50 186.50,81.98 186.75,82.41 187.00,82.79 187.25,83.11 187.50,83.37 187.75,83.58 188.00,83.73 188.25,83.85 188.50,83.93 188.75,83.98 189.00,84.00 189.25,83.99 189.50,83.92 189.75,83.82 190.00,83.68 190.25,83.51 190.50,83.31 190.75,83.10 191.00,82.88 191.25,82.65 191.50,82.42 191.75,82.18 192.00,81.95 192.25,81.72 192.50,81.49 192.75,81.25 193.00,81.00 193.25,80.73 193.50,80.36 193.75,79.89 194.00,79.28 194.25,78.51 194.50,77.57 194.75,76.44 195.00,75.12 195.25,73.65 195.50,72.05 195.75,70.41 196.00,68.81 196.25,67.40 196.50,66.31 196.75,65.70 197.00,65.66 197.25,66.20 197.50,67.24 197.75,68.64 198.00,70.24 198.25,71.92 198.50,73.57 198.75,75.10 199.00,76.48 199.25,77.68 199.50,78.69 199.75,79.51 200.00,80.17 200.25,80.69 200.50,81.08 200.75,81.38 201.00,81.61 201.25,81.77 201.50,81.90 201.75,81.99 202.00,82.06 202.25,82.11 202.50,82.14 202.75,82.15 203.00,82.13 203.25,82.09 203.50,81.99 203.75,81.80 204.00,81.48 204.25,81.00 204.50,80.31 204.75,79.42 205.00,78.36 205.25,77.26 205.50,76.32 205.75,75.83 206.00,75.94 206.25,76.58 206.50,77.50 206.75,78.45 207.00,79.29 207.25,79.93 207.50,80.37 207.75,80.64 208.00,80.75 208.25,80.75 208.50,80.67 208.75,80.55 209.00,80.41 209.25,80.26 209.50,80.11 209.75,79.98 210.00,79.87 210.25,79.79 210.50,79.81 210.75,79.92 211.00,80.05 211.25,80.14 211.50,80.10 211.75,79.86 212.00,79.32 212.25,78.42 212.50,77.23 212.75,75.74 213.00,73.96 213.25,71.97 213.50,69.85 213.75,67.78 214.00,65.95 214.25,64.60 214.50,63.90 214.75,63.83 215.00,64.23 215.25,64.83 215.50,65.42 215.75,65.81 216.00,65.95 216.25,65.83 216.50,65.52 216.75,65.18 217.00,64.96 217.25,65.04 217.50,65.49 217.75,66.26 218.00,67.27 218.25,68.40 218.50,69.53 218.75,70.59 219.00,71.54 219.25,72.36 219.50,73.03 219.75,73.56 220.00,73.99 220.25,74.33 220.50,74.64 220.75,75.18 221.00,75.95 221.25,76.86 221.50,77.83 221.75,78.76 222.00,79.55 222.25,80.12 222.50,80.48 222.75,80.80 223.00,81.09 223.25,81.37 223.50,81.62 223.75,81.86 224.00,82.08 224.25,82.28 224.50,82.47 224.75,82.65 225.00,82.81 225.25,82.96 225.50,83.10 225.75,83.23 226.00,83.35 226.25,83.47 226.50,83.59 226.75,83.70 227.00,83.81 227.25,83.92 227.50,84.03 227.75,84.14 228.00,84.24 228.25,84.34 228.50,84.44 228.75,84.53 229.00,84.62 229.25,84.71 229.50,84.79 229.75,84.86 230.00,84.93 230.25,85.00 230.50,85.06 230.75,85.11 231.00,85.16 231.25,85.20 231.50,85.24 231.75,85.27 232.00,85.29 232.25,85.30 232.50,85.30 232.75,85.30 233.00,85.31 233.25,85.31 233.50,85.31 233.75,85.31 234.00,85.32 234.25,85.32 234.50,85.32 234.75,85.32 235.00,85.32 235.25,85.32 235.50,85.33 235.75,85.33 236.00,85.33 236.25,85.33 236.50,85.33 236.75,85.33 237.00,85.33 237.25,85.33 237.50,85.33 237.75,85.33 238.00,85.33 238.25,85.33 238.50,85.33 238.75,85.33 239.00,85.33 239.25,85.33 239.50,85.33 239.75,85.33 240.00,85.33 240.25,85.32 240.50,85.32 240.75,85.32 241.00,85.32 241.25,85.32 241.50,85.31 241.75,85.31 242.00,85.31 242.25,85.30 242.50,85.30"/>
<polyline fill="none" stroke="#4646a6" stroke-width="1.05" stroke-linejoin="round" points="307.80,179.70 308.05,179.70 308.30,179.71 308.55,179.71 308.80,179.71 309.05,179.71 309.30,179.71 309.55,179.71 309.80,179.71 310.05,179.71 310.30,179.71 310.55,179.71 310.80,179.71 311.05,179.70 311.30,179.70 311.55,179.70 311.80,179.69 312.05,179.69 312.30,179.68 312.55,179.67 312.80,179.66 313.05,179.65 313.30,179.64 313.55,179.63 313.80,179.61 314.05,179.59 314.30,179.57 314.55,179.54 314.80,179.50 315.05,179.45 315.30,179.39 315.55,179.29 315.80,179.13 316.05,178.86 316.30,178.41 316.55,177.71 316.80,176.70 317.05,175.39 317.30,173.90 317.55,172.52 317.80,171.68 318.05,171.78 318.30,172.74 318.55,174.16 318.80,175.62 319.05,176.86 319.30,177.79 319.55,178.42 319.80,178.81 320.05,179.03 320.30,179.16 320.55,179.23 320.80,179.28 321.05,179.30 321.30,179.32 321.55,179.32 321.80,179.31 322.05,179.29 322.30,179.26 322.55,179.22 322.80,179.17 323.05,179.11 323.30,179.04 323.55,178.96 323.80,178.86 324.05,178.74 324.30,178.61 324.55,178.46 324.80,178.30 325.05,178.11 325.30,177.92 325.55,177.71 325.80,177.48 326.05,177.25 326.30,177.02 326.55,176.80 326.80,176.58 327.05,176.39 327.30,176.23 327.55,176.10 327.80,176.02 328.05,175.99 328.30,176.00 328.55,176.07 328.80,176.17 329.05,176.29 329.30,176.44 329.55,176.60 329.80,176.77 330.05,176.93 330.30,177.09 330.55,177.25 330.80,177.39 331.05,177.52 331.30,177.64 331.55,177.74 331.80,177.83 332.05,177.92 332.30,178.00 332.55,178.08 332.80,178.17 333.05,178.26 333.30,178.36 333.55,178.46 333.80,178.56 334.05,178.67 334.30,178.79 334.55,178.90 334.80,179.03 335.05,179.15 335.30,179.28 335.55,179.41 335.80,179.54 336.05,179.67 336.30,179.79 336.55,179.92 336.80,180.05 337.05,180.17 337.30,180.29 337.55,180.40 337.80,180.50 338.05,180.60 338.30,180.69 338.55,180.77 338.80,180.84 339.05,180.90 339.30,180.94 339.55,180.98 339.80,181.00 340.05,181.00 340.30,180.99 340.55,180.98 340.80,180.96 341.05,180.93 341.30,180.90 341.55,180.86 341.80,180.81 342.05,180.76 342.30,180.70 342.55,180.64 342.80,180.57 343.05,180.50 343.30,180.42 343.55,180.34 343.80,180.25 344.05,180.16 344.30,180.06 344.55,179.96 344.80,179.86 345.05,179.75 345.30,179.63 345.55,179.51 345.80,179.37 346.05,179.22 346.30,179.05 346.55,178.86 346.80,178.64 347.05,178.38 347.30,178.08 347.55,177.73 347.80,177.33 348.05,176.89 348.30,176.42 348.55,175.92 348.80,175.44 349.05,174.99 349.30,174.62 349.55,174.38 349.80,174.28 350.05,174.33 350.30,174.52 350.55,174.79 350.80,175.11 351.05,175.44 351.30,175.77 351.55,176.06 351.80,176.32 352.05,176.53 352.30,176.69 352.55,176.82 352.80,176.91 353.05,176.97 353.30,177.00 353.55,177.01 353.80,176.99 354.05,176.94 354.30,176.86 354.55,176.75 354.80,176.59 355.05,176.38 355.30,176.12 355.55,175.81 355.80,175.46 356.05,175.09 356.30,174.71 356.55,174.36 356.80,174.08 357.05,173.91 357.30,173.90 357.55,174.05 357.80,174.36 358.05,174.78 358.30,175.27 358.55,175.78 358.80,176.29 359.05,176.78 359.30,177.22 359.55,177.61 359.80,177.95 360.05,178.24 360.30,178.49 360.55,178.70 360.80,178.88 361.05,179.04 361.30,179.18 361.55,179.31 361.80,179.43 362.05,179.55 362.30,179.66 362.55,179.77 362.80,179.90 363.05,180.05 363.30,180.21 363.55,180.39 363.80,180.57 364.05,180.77 364.30,180.98 364.55,181.18 364.80,181.39 365.05,181.60 365.30,181.80 365.55,181.99 365.80,182.18 366.05,182.35 366.30,182.51 366.55,182.65 366.80,182.77 367.05,182.87 367.30,182.94 367.55,182.99 367.80,183.00 368.05,182.97 368.30,182.89 368.55,182.77 368.80,182.60 369.05,182.40 369.30,182.17 369.55,181.92 369.80,181.64 370.05,181.35 370.30,181.05 370.55,180.74 370.80,180.44 371.05,180.13 371.30,179.84 371.55,179.56 371.80,179.30 372.05,179.06 372.30,178.84 372.55,178.65 372.80,178.50 373.05,178.37 373.30,178.26 373.55,178.12 373.80,177.94 374.05,177.69 374.30,177.36 374.55,176.93 374.80,176.40 375.05,175.76 375.30,175.02 375.55,174.20 375.80,173.35 376.05,172.54 376.30,171.85 376.55,171.37 376.80,171.20 377.05,171.37 377.30,171.84 377.55,172.53 377.80,173.34 378.05,174.18 378.30,175.00 378.55,175.73 378.80,176.37 379.05,176.90 379.30,177.32 379.55,177.64 379.80,177.89 380.05,178.07 380.30,178.19 380.55,178.29 380.80,178.33 381.05,178.32 381.30,178.26 381.55,178.16 381.80,178.03 382.05,177.89 382.30,177.73 382.55,177.57 382.80,177.42 383.05,177.28 383.30,177.16 383.55,177.07 383.80,177.01 384.05,176.99 384.30,176.95 384.55,176.90 384.80,176.83 385.05,176.72 385.30,176.55 385.55,176.33 385.80,176.02 386.05,175.62 386.30,175.14 386.55,174.58 386.80,173.99 387.05,173.41 387.30,172.93 387.55,172.65 387.80,172.62 388.05,172.87 388.30,173.33 388.55,173.91 388.80,174.51 389.05,175.09 389.30,175.60 389.55,176.02 389.80,176.35 390.05,176.60 390.30,176.77 390.55,176.90 390.80,176.98 391.05,177.03 391.30,177.05 391.55,177.06 391.80,177.05 392.05,177.02 392.30,176.96 392.55,176.88 392.80,176.76 393.05,176.60 393.30,176.40 393.55,176.16 393.80,175.90 394.05,175.63 394.30,175.39 394.55,175.24 394.80,175.20 395.05,175.28 395.30,175.44 395.55,175.65 395.80,175.86 396.05,176.04 396.30,176.18 396.55,176.27 396.80,176.31 397.05,176.30 397.30,176.24 397.55,176.14 397.80,175.99 398.05,175.81 398.30,175.60 398.55,175.35 398.80,175.08 399.05,174.79 399.30,174.49 399.55,174.19 399.80,173.92 400.05,173.68 400.30,173.51 400.55,173.41 400.80,173.41 401.05,173.50 401.30,173.67 401.55,173.90 401.80,174.18 402.05,174.49 402.30,174.80 402.55,175.11 402.80,175.40 403.05,175.67 403.30,175.91 403.55,176.12 403.80,176.30 404.05,176.45 404.30,176.58 404.55,176.69 404.80,176.77 405.05,176.84 405.30,176.89 405.55,176.94 405.80,176.98 406.05,177.01 406.30,177.06 406.55,177.15 406.80,177.28 407.05,177.43 407.30,177.62 407.55,177.82 407.80,178.04 408.05,178.28 408.30,178.53 408.55,178.79 408.80,179.05 409.05,179.31 409.30,179.57 409.55,179.82 409.80,180.05 410.05,180.27 410.30,180.47 410.55,180.64 410.80,180.79 411.05,180.90 411.30,180.97 411.55,181.00 411.80,181.01 412.05,181.01 412.30,181.00 412.55,180.97 412.80,180.91 413.05,180.83 413.30,180.71 413.55,180.54 413.80,180.32 414.05,180.03 414.30,179.68 414.55,179.26 414.80,178.77 415.05,178.21 415.30,177.61 415.55,176.99 415.80,176.38 416.05,175.83 416.30,175.38 416.55,175.09 416.80,175.00 417.05,175.12 417.30,175.45 417.55,175.93 417.80,176.52 418.05,177.16 418.30,177.82 418.55,178.45 418.80,179.03 419.05,179.55 419.30,180.00 419.55,180.38 419.80,180.70 420.05,180.94 420.30,181.13 420.55,181.27 420.80,181.37 421.05,181.43 421.30,181.44 421.55,181.41 421.80,181.34 422.05,181.22 422.30,181.07 422.55,180.87 422.80,180.61 423.05,180.28 423.30,179.81 423.55,179.15 423.80,178.20 424.05,176.83 424.30,174.98 424.55,172.61 424.80,169.85 425.05,167.01 425.30,164.59 425.55,163.28 425.80,163.51 426.05,165.08 426.30,167.36 426.55,169.73 426.80,171.82 427.05,173.43 427.30,174.55 427.55,175.25 427.80,175.62 428.05,175.78 428.30,175.82 428.55,175.79 428.80,175.73 429.05,175.65 429.30,175.54 429.55,175.41 429.80,175.26 430.05,175.11 430.30,174.96 430.55,174.81 430.80,174.67 431.05,174.54 431.30,174.42 431.55,174.32 431.80,174.22 432.05,174.11 432.30,173.97 432.55,173.82 432.80,173.64 433.05,173.46 433.30,173.28 433.55,173.12 433.80,173.01 434.05,172.96 434.30,173.00 434.55,173.14 434.80,173.36 435.05,173.65 435.30,173.98 435.55,174.33 435.80,174.68 436.05,175.02 436.30,175.33 436.55,175.62 436.80,175.88 437.05,176.11 437.30,176.32 437.55,176.51 437.80,176.69 438.05,176.85 438.30,177.00 438.55,177.17 438.80,177.37 439.05,177.60 439.30,177.86 439.55,178.12 439.80,178.39 440.05,178.66 440.30,178.91 440.55,179.15 440.80,179.35 441.05,179.51 441.30,179.63 441.55,179.69 441.80,179.69 442.05,179.65 442.30,179.57 442.55,179.46 442.80,179.31 443.05,179.13 443.30,178.93 443.55,178.68 443.80,178.40 444.05,178.07 444.30,177.69 444.55,177.23 444.80,176.67 445.05,176.01 445.30,175.23 445.55,174.33 445.80,173.33 446.05,172.27 446.30,171.23 446.55,170.30 446.80,169.60 447.05,169.26 447.30,169.30 447.55,169.66 447.80,170.21 448.05,170.85 448.30,171.49 448.55,172.06 448.80,172.55 449.05,172.94 449.30,173.21 449.55,173.37 449.80,173.38 450.05,173.23 450.30,172.90 450.55,172.40 450.80,171.79 451.05,171.24 451.30,170.97 451.55,171.20 451.80,171.87 452.05,172.78 452.30,173.69 452.55,174.46 452.80,175.04 453.05,175.43 453.30,175.65 453.55,175.75 453.80,175.77 454.05,175.73 454.30,175.62 454.55,175.42 454.80,175.10 455.05,174.63 455.30,173.99 455.55,173.22 455.80,172.40 456.05,171.67 456.30,171.24 456.55,171.28 456.80,171.76 457.05,172.50 457.30,173.30 457.55,174.01 457.80,174.57 458.05,174.95 458.30,175.13 458.55,175.12 458.80,174.91 459.05,174.51 459.30,173.97 459.55,173.41 459.80,173.05 460.05,173.06 460.30,173.43 460.55,173.94 460.80,174.42 461.05,174.76 461.30,174.95 461.55,175.00 461.80,174.84 462.05,174.47 462.30,173.88 462.55,173.05 462.80,171.94 463.05,170.52 463.30,168.77 463.55,166.75 463.80,164.54 464.05,162.35 464.30,160.47 464.55,159.24 464.80,158.89 465.05,159.31 465.30,160.22 465.55,161.30 465.80,162.33 466.05,163.19 466.30,163.82 466.55,164.16 466.80,164.22 467.05,164.07 467.30,163.76 467.55,163.37 467.80,162.98 468.05,162.65 468.30,162.49 468.55,162.55 468.80,162.89 469.05,163.49 469.30,164.28 469.55,165.19 469.80,166.14 470.05,167.07 470.30,167.96 470.55,168.78 470.80,169.52 471.05,170.17 471.30,170.74 471.55,171.24 471.80,171.68 472.05,172.08 472.30,172.44 472.55,172.82 472.80,173.22 473.05,173.63 473.30,174.04 473.55,174.46 473.80,174.87 474.05,175.26 474.30,175.62 474.55,175.94 474.80,176.21 475.05,176.43 475.30,176.64 475.55,176.83 475.80,177.02 476.05,177.19 476.30,177.36 476.55,177.52 476.80,177.67 477.05,177.81 477.30,177.95 477.55,178.08 477.80,178.21 478.05,178.33 478.30,178.44 478.55,178.55 478.80,178.66 479.05,178.76 479.30,178.87 479.55,178.98 479.80,179.09 480.05,179.19 480.30,179.30 480.55,179.41 480.80,179.51 481.05,179.61 481.30,179.71 481.55,179.80 481.80,179.89 482.05,179.97 482.30,180.04 482.55,180.10 482.80,180.16 483.05,180.21 483.30,180.25 483.55,180.28 483.80,180.30 484.05,180.30 484.30,180.30 484.55,180.30 484.80,180.30 485.05,180.30 485.30,180.30 485.55,180.30 485.80,180.30 486.05,180.30 486.30,180.30 486.55,180.30 486.80,180.30 487.05,180.30 487.30,180.29 487.55,180.29 487.80,180.28 488.05,180.28 488.30,180.27 488.55,180.26 488.80,180.26 489.05,180.25 489.30,180.24 489.55,180.23 489.80,180.21 490.05,180.20 490.30,180.18 490.55,180.17 490.80,180.15 491.05,180.13 491.30,180.11 491.55,180.09 491.80,180.06 492.05,180.04 492.30,180.01"/>
<polyline fill="none" stroke="#4ea64e" stroke-width="1.05" stroke-linejoin="round" points="307.80,153.50 308.05,153.49 308.30,153.49 308.55,153.48 308.80,153.48 309.05,153.47 309.30,153.47 309.55,153.46 309.80,153.46 310.05,153.45 310.30,153.45 310.55,153.44 310.80,153.44 311.05,153.43 311.30,153.43 311.55,153.42 311.80,153.41 312.05,153.40 312.30,153.40 312.55,153.39 312.80,153.38 313.05,153.36 313.30,153.35 313.55,153.34 313.80,153.32 314.05,153.30 314.30,153.27 314.55,153.24 314.80,153.20 315.05,153.15 315.30,153.08 315.55,152.99 315.80,152.82 316.05,152.54 316.30,152.07 316.55,151.33 316.80,150.25 317.05,148.84 317.30,147.25 317.55,145.77 317.80,144.88 318.05,145.00 318.30,146.08 318.55,147.64 318.80,149.25 319.05,150.62 319.30,151.66 319.55,152.36 319.80,152.81 320.05,153.07 320.30,153.23 320.55,153.33 320.80,153.40 321.05,153.45 321.30,153.48 321.55,153.50 321.80,153.52 322.05,153.52 322.30,153.51 322.55,153.50 322.80,153.48 323.05,153.44 323.30,153.40 323.55,153.35 323.80,153.29 324.05,153.22 324.30,153.14 324.55,153.05 324.80,152.94 325.05,152.82 325.30,152.69 325.55,152.54 325.80,152.37 326.05,152.19 326.30,151.99 326.55,151.78 326.80,151.57 327.05,151.34 327.30,151.12 327.55,150.90 327.80,150.69 328.05,150.50 328.30,150.33 328.55,150.21 328.80,150.12 329.05,150.08 329.30,150.09 329.55,150.13 329.80,150.21 330.05,150.32 330.30,150.45 330.55,150.59 330.80,150.74 331.05,150.89 331.30,151.03 331.55,151.17 331.80,151.31 332.05,151.43 332.30,151.55 332.55,151.66 332.80,151.77 333.05,151.88 333.30,152.00 333.55,152.11 333.80,152.22 334.05,152.33 334.30,152.44 334.55,152.55 334.80,152.67 335.05,152.79 335.30,152.90 335.55,153.02 335.80,153.14 336.05,153.26 336.30,153.38 336.55,153.50 336.80,153.61 337.05,153.72 337.30,153.83 337.55,153.94 337.80,154.04 338.05,154.14 338.30,154.23 338.55,154.31 338.80,154.38 339.05,154.44 339.30,154.50 339.55,154.54 339.80,154.57 340.05,154.59 340.30,154.60 340.55,154.59 340.80,154.57 341.05,154.54 341.30,154.49 341.55,154.43 341.80,154.37 342.05,154.29 342.30,154.21 342.55,154.12 342.80,154.02 343.05,153.92 343.30,153.81 343.55,153.70 343.80,153.59 344.05,153.48 344.30,153.37 344.55,153.26 344.80,153.15 345.05,153.04 345.30,152.93 345.55,152.82 345.80,152.71 346.05,152.58 346.30,152.43 346.55,152.26 346.80,152.06 347.05,151.82 347.30,151.55 347.55,151.23 347.80,150.88 348.05,150.48 348.30,150.05 348.55,149.61 348.80,149.17 349.05,148.76 349.30,148.42 349.55,148.18 349.80,148.07 350.05,148.08 350.30,148.21 350.55,148.41 350.80,148.65 351.05,148.90 351.30,149.15 351.55,149.38 351.80,149.57 352.05,149.73 352.30,149.85 352.55,149.95 352.80,150.02 353.05,150.07 353.30,150.10 353.55,150.12 353.80,150.13 354.05,150.13 354.30,150.12 354.55,150.09 354.80,150.03 355.05,149.94 355.30,149.81 355.55,149.63 355.80,149.40 356.05,149.13 356.30,148.81 356.55,148.47 356.80,148.12 357.05,147.81 357.30,147.57 357.55,147.45 357.80,147.50 358.05,147.72 358.30,148.11 358.55,148.61 358.80,149.19 359.05,149.80 359.30,150.40 359.55,150.96 359.80,151.48 360.05,151.95 360.30,152.35 360.55,152.71 360.80,153.01 361.05,153.27 361.30,153.49 361.55,153.68 361.80,153.86 362.05,154.01 362.30,154.15 362.55,154.28 362.80,154.41 363.05,154.54 363.30,154.68 363.55,154.82 363.80,154.96 364.05,155.10 364.30,155.25 364.55,155.39 364.80,155.52 365.05,155.66 365.30,155.78 365.55,155.91 365.80,156.02 366.05,156.12 366.30,156.22 366.55,156.30 366.80,156.37 367.05,156.43 367.30,156.47 367.55,156.49 367.80,156.50 368.05,156.47 368.30,156.40 368.55,156.29 368.80,156.14 369.05,155.96 369.30,155.76 369.55,155.53 369.80,155.28 370.05,155.02 370.30,154.75 370.55,154.47 370.80,154.20 371.05,153.92 371.30,153.66 371.55,153.40 371.80,153.16 372.05,152.94 372.30,152.74 372.55,152.56 372.80,152.41 373.05,152.27 373.30,152.15 373.55,152.00 373.80,151.78 374.05,151.50 374.30,151.12 374.55,150.63 374.80,150.03 375.05,149.30 375.30,148.45 375.55,147.52 375.80,146.56 376.05,145.63 376.30,144.84 376.55,144.29 376.80,144.10 377.05,144.29 377.30,144.83 377.55,145.62 377.80,146.54 378.05,147.50 378.30,148.43 378.55,149.27 378.80,150.00 379.05,150.60 379.30,151.08 379.55,151.45 379.80,151.73 380.05,151.93 380.30,152.08 380.55,152.18 380.80,152.24 381.05,152.23 381.30,152.16 381.55,152.06 381.80,151.92 382.05,151.76 382.30,151.59 382.55,151.42 382.80,151.25 383.05,151.10 383.30,150.97 383.55,150.87 383.80,150.81 384.05,150.78 384.30,150.75 384.55,150.70 384.80,150.62 385.05,150.51 385.30,150.34 385.55,150.10 385.80,149.77 386.05,149.34 386.30,148.82 386.55,148.22 386.80,147.58 387.05,146.96 387.30,146.44 387.55,146.14 387.80,146.13 388.05,146.43 388.30,146.95 388.55,147.60 388.80,148.29 389.05,148.94 389.30,149.51 389.55,149.99 389.80,150.37 390.05,150.65 390.30,150.85 390.55,150.99 390.80,151.08 391.05,151.12 391.30,151.13 391.55,151.11 391.80,151.05 392.05,150.95 392.30,150.80 392.55,150.61 392.80,150.35 393.05,150.04 393.30,149.68 393.55,149.29 393.80,148.90 394.05,148.57 394.30,148.35 394.55,148.28 394.80,148.36 395.05,148.54 395.30,148.77 395.55,148.99 395.80,149.18 396.05,149.32 396.30,149.40 396.55,149.42 396.80,149.38 397.05,149.29 397.30,149.14 397.55,148.96 397.80,148.75 398.05,148.53 398.30,148.30 398.55,148.10 398.80,147.96 399.05,147.89 399.30,147.93 399.55,148.06 399.80,148.27 400.05,148.55 400.30,148.86 400.55,149.17 400.80,149.48 401.05,149.77 401.30,150.03 401.55,150.26 401.80,150.46 402.05,150.64 402.30,150.79 402.55,150.92 402.80,151.04 403.05,151.15 403.30,151.25 403.55,151.34 403.80,151.43 404.05,151.51 404.30,151.60 404.55,151.68 404.80,151.77 405.05,151.85 405.30,151.94 405.55,152.02 405.80,152.10 406.05,152.18 406.30,152.27 406.55,152.38 406.80,152.51 407.05,152.65 407.30,152.81 407.55,152.97 407.80,153.15 408.05,153.34 408.30,153.53 408.55,153.72 408.80,153.91 409.05,154.11 409.30,154.30 409.55,154.48 409.80,154.66 410.05,154.82 410.30,154.98 410.55,155.12 410.80,155.24 411.05,155.34 411.30,155.42 411.55,155.48 411.80,155.51 412.05,155.50 412.30,155.48 412.55,155.44 412.80,155.39 413.05,155.32 413.30,155.23 413.55,155.12 413.80,154.99 414.05,154.83 414.30,154.63 414.55,154.41 414.80,154.16 415.05,153.90 415.30,153.61 415.55,153.33 415.80,153.07 416.05,152.85 416.30,152.69 416.55,152.61 416.80,152.61 417.05,152.70 417.30,152.87 417.55,153.07 417.80,153.31 418.05,153.55 418.30,153.78 418.55,154.00 418.80,154.19 419.05,154.35 419.30,154.48 419.55,154.58 419.80,154.65 420.05,154.70 420.30,154.72 420.55,154.72 420.80,154.71 421.05,154.68 421.30,154.64 421.55,154.59 421.80,154.50 422.05,154.38 422.30,154.21 422.55,154.00 422.80,153.72 423.05,153.36 423.30,152.86 423.55,152.15 423.80,151.12 424.05,149.65 424.30,147.65 424.55,145.11 424.80,142.15 425.05,139.08 425.30,136.49 425.55,135.09 425.80,135.34 426.05,137.03 426.30,139.48 426.55,142.04 426.80,144.30 427.05,146.06 427.30,147.28 427.55,148.06 427.80,148.49 428.05,148.71 428.30,148.79 428.55,148.81 428.80,148.81 429.05,148.79 429.30,148.75 429.55,148.70 429.80,148.64 430.05,148.57 430.30,148.50 430.55,148.43 430.80,148.36 431.05,148.28 431.30,148.20 431.55,148.12 431.80,148.02 432.05,147.91 432.30,147.78 432.55,147.62 432.80,147.45 433.05,147.26 433.30,147.08 433.55,146.93 433.80,146.81 434.05,146.76 434.30,146.80 434.55,146.93 434.80,147.16 435.05,147.45 435.30,147.77 435.55,148.12 435.80,148.47 436.05,148.80 436.30,149.11 436.55,149.40 436.80,149.66 437.05,149.90 437.30,150.11 437.55,150.30 437.80,150.48 438.05,150.64 438.30,150.80 438.55,150.98 438.80,151.19 439.05,151.45 439.30,151.72 439.55,152.01 439.80,152.31 440.05,152.61 440.30,152.90 440.55,153.16 440.80,153.39 441.05,153.58 441.30,153.71 441.55,153.79 441.80,153.79 442.05,153.75 442.30,153.66 442.55,153.52 442.80,153.35 443.05,153.14 443.30,152.90 443.55,152.62 443.80,152.32 444.05,151.99 444.30,151.63 444.55,151.23 444.80,150.81 445.05,150.34 445.30,149.83 445.55,149.27 445.80,148.65 446.05,147.99 446.30,147.30 446.55,146.60 446.80,145.94 447.05,145.36 447.30,144.92 447.55,144.67 447.80,144.60 448.05,144.67 448.30,144.83 448.55,145.04 448.80,145.25 449.05,145.46 449.30,145.63 449.55,145.73 449.80,145.72 450.05,145.56 450.30,145.19 450.55,144.55 450.80,143.62 451.05,142.44 451.30,141.18 451.55,140.16 451.80,139.80 452.05,140.31 452.30,141.46 452.55,142.86 452.80,144.16 453.05,145.22 453.30,145.97 453.55,146.45 453.80,146.71 454.05,146.80 454.30,146.75 454.55,146.58 454.80,146.26 455.05,145.76 455.30,145.09 455.55,144.27 455.80,143.40 456.05,142.62 456.30,142.15 456.55,142.18 456.80,142.67 457.05,143.44 457.30,144.27 457.55,145.03 457.80,145.62 458.05,146.04 458.30,146.28 458.55,146.39 458.80,146.33 459.05,146.08 459.30,145.64 459.55,145.09 459.80,144.57 460.05,144.38 460.30,144.71 460.55,145.46 460.80,146.33 461.05,147.10 461.30,147.64 461.55,147.94 461.80,147.99 462.05,147.81 462.30,147.42 462.55,146.82 462.80,145.99 463.05,144.89 463.30,143.47 463.55,141.74 463.80,139.73 464.05,137.57 464.30,135.46 464.55,133.73 464.80,132.70 465.05,132.53 465.30,133.07 465.55,133.98 465.80,134.96 466.05,135.80 466.30,136.38 466.55,136.68 466.80,136.70 467.05,136.48 467.30,136.04 467.55,135.48 467.80,134.88 468.05,134.36 468.30,134.03 468.55,133.97 468.80,134.25 469.05,134.83 469.30,135.65 469.55,136.62 469.80,137.64 470.05,138.65 470.30,139.60 470.55,140.47 470.80,141.24 471.05,141.92 471.30,142.51 471.55,143.02 471.80,143.47 472.05,143.87 472.30,144.26 472.55,144.72 472.80,145.26 473.05,145.88 473.30,146.53 473.55,147.21 473.80,147.87 474.05,148.51 474.30,149.09 474.55,149.59 474.80,149.98 475.05,150.26 475.30,150.51 475.55,150.75 475.80,150.98 476.05,151.20 476.30,151.40 476.55,151.59 476.80,151.77 477.05,151.93 477.30,152.09 477.55,152.23 477.80,152.36 478.05,152.48 478.30,152.59 478.55,152.68 478.80,152.77 479.05,152.84 479.30,152.92 479.55,152.99 479.80,153.06 480.05,153.13 480.30,153.20 480.55,153.26 480.80,153.32 481.05,153.38 481.30,153.44 481.55,153.49 481.80,153.54 482.05,153.58 482.30,153.63 482.55,153.66 482.80,153.70 483.05,153.73 483.30,153.75 483.55,153.77 483.80,153.79 484.05,153.80 484.30,153.80 484.55,153.80 484.80,153.80 485.05,153.80 485.30,153.80 485.55,153.79 485.80,153.78 486.05,153.78 486.30,153.77 486.55,153.76 486.80,153.74 487.05,153.73 487.30,153.71 487.55,153.69 487.80,153.67 488.05,153.65 488.30,153.62 488.55,153.59 488.80,153.56 489.05,153.53 489.30,153.49 489.55,153.45 489.80,153.41 490.05,153.37 490.30,153.32 490.55,153.27 490.80,153.22 491.05,153.16 491.30,153.10 491.55,153.04 491.80,152.97 492.05,152.90 492.30,152.83"/>
<polyline fill="none" stroke="#f24cac" stroke-width="1.05" stroke-linejoin="round" points="307.50,126.00 307.75,125.95 308.00,125.90 308.25,125.86 308.50,125.81 308.75,125.77 309.00,125.73 309.25,125.70 309.50,125.66 309.75,125.63 310.00,125.59 310.25,125.56 310.50,125.53 310.75,125.51 311.00,125.48 311.25,125.45 311.50,125.43 311.75,125.41 312.00,125.38 312.25,125.36 312.50,125.34 312.75,125.32 313.00,125.29 313.25,125.27 313.50,125.25 313.75,125.22 314.00,125.19 314.25,125.16 314.50,125.12 314.75,125.08 315.00,125.02 315.25,124.96 315.50,124.87 315.75,124.75 316.00,124.54 316.25,124.18 316.50,123.57 316.75,122.59 317.00,121.17 317.25,119.32 317.50,117.21 317.75,115.26 318.00,114.10 318.25,114.28 318.50,115.74 318.75,117.84 319.00,119.99 319.25,121.83 319.50,123.22 319.75,124.16 320.00,124.75 320.25,125.10 320.50,125.30 320.75,125.41 321.00,125.46 321.25,125.49 321.50,125.48 321.75,125.45 322.00,125.41 322.25,125.35 322.50,125.28 322.75,125.19 323.00,125.09 323.25,124.97 323.50,124.83 323.75,124.67 324.00,124.50 324.25,124.30 324.50,124.08 324.75,123.83 325.00,123.55 325.25,123.24 325.50,122.93 325.75,122.59 326.00,122.26 326.25,121.94 326.50,121.64 326.75,121.38 327.00,121.18 327.25,121.04 327.50,120.99 327.75,121.01 328.00,121.10 328.25,121.25 328.50,121.45 328.75,121.69 329.00,121.93 329.25,122.19 329.50,122.44 329.75,122.68 330.00,122.91 330.25,123.13 330.50,123.34 330.75,123.53 331.00,123.72 331.25,123.90 331.50,124.07 331.75,124.24 332.00,124.40 332.25,124.56 332.50,124.72 332.75,124.88 333.00,125.04 333.25,125.20 333.50,125.36 333.75,125.52 334.00,125.68 334.25,125.84 334.50,126.00 334.75,126.17 335.00,126.33 335.25,126.48 335.50,126.64 335.75,126.79 336.00,126.94 336.25,127.08 336.50,127.21 336.75,127.34 337.00,127.46 337.25,127.57 337.50,127.67 337.75,127.75 338.00,127.83 338.25,127.89 338.50,127.94 338.75,127.98 339.00,128.00 339.25,128.00 339.50,127.98 339.75,127.95 340.00,127.91 340.25,127.85 340.50,127.78 340.75,127.70 341.00,127.61 341.25,127.51 341.50,127.40 341.75,127.28 342.00,127.15 342.25,127.03 342.50,126.89 342.75,126.76 343.00,126.62 343.25,126.47 343.50,126.33 343.75,126.19 344.00,126.04 344.25,125.90 344.50,125.75 344.75,125.60 345.00,125.44 345.25,125.26 345.50,125.06 345.75,124.81 346.00,124.51 346.25,124.13 346.50,123.67 346.75,123.11 347.00,122.44 347.25,121.67 347.50,120.80 347.75,119.87 348.00,118.89 348.25,117.94 348.50,117.10 348.75,116.44 349.00,116.06 349.25,116.01 349.50,116.28 349.75,116.82 350.00,117.53 350.25,118.33 350.50,119.14 350.75,119.92 351.00,120.62 351.25,121.22 351.50,121.73 351.75,122.13 352.00,122.44 352.25,122.66 352.50,122.80 352.75,122.88 353.00,122.89 353.25,122.83 353.50,122.71 353.75,122.52 354.00,122.23 354.25,121.85 354.50,121.36 354.75,120.76 355.00,120.04 355.25,119.23 355.50,118.34 355.75,117.42 356.00,116.54 356.25,115.78 356.50,115.24 356.75,115.01 357.00,115.12 357.25,115.56 357.50,116.25 357.75,117.11 358.00,118.03 358.25,118.96 358.50,119.82 358.75,120.60 359.00,121.27 359.25,121.83 359.50,122.28 359.75,122.64 360.00,122.91 360.25,123.13 360.50,123.34 360.75,123.57 361.00,123.81 361.25,124.07 361.50,124.33 361.75,124.61 362.00,124.89 362.25,125.16 362.50,125.43 362.75,125.69 363.00,125.92 363.25,126.13 363.50,126.35 363.75,126.59 364.00,126.83 364.25,127.09 364.50,127.35 364.75,127.61 365.00,127.87 365.25,128.12 365.50,128.36 365.75,128.58 366.00,128.79 366.25,128.98 366.50,129.15 366.75,129.29 367.00,129.39 367.25,129.46 367.50,129.50 367.75,129.49 368.00,129.43 368.25,129.33 368.50,129.18 368.75,129.00 369.00,128.79 369.25,128.55 369.50,128.29 369.75,128.01 370.00,127.72 370.25,127.41 370.50,127.10 370.75,126.79 371.00,126.48 371.25,126.18 371.50,125.88 371.75,125.60 372.00,125.33 372.25,125.08 372.50,124.85 372.75,124.63 373.00,124.41 373.25,124.15 373.50,123.83 373.75,123.42 374.00,122.90 374.25,122.24 374.50,121.41 374.75,120.42 375.00,119.26 375.25,117.97 375.50,116.60 375.75,115.24 376.00,114.01 376.25,113.06 376.50,112.56 376.75,112.58 377.00,113.12 377.25,114.07 377.50,115.28 377.75,116.58 378.00,117.87 378.25,119.06 378.50,120.10 378.75,120.97 379.00,121.66 379.25,122.19 379.50,122.57 379.75,122.83 380.00,123.00 380.25,123.08 380.50,123.07 380.75,123.00 381.00,122.88 381.25,122.72 381.50,122.53 381.75,122.33 382.00,122.12 382.25,121.90 382.50,121.69 382.75,121.48 383.00,121.29 383.25,121.12 383.50,120.97 383.75,120.84 384.00,120.75 384.25,120.69 384.50,120.64 384.75,120.57 385.00,120.47 385.25,120.33 385.50,120.11 385.75,119.80 386.00,119.38 386.25,118.86 386.50,118.26 386.75,117.63 387.00,117.05 387.25,116.62 387.50,116.46 387.75,116.66 388.00,117.20 388.25,117.99 388.50,118.89 388.75,119.81 389.00,120.66 389.25,121.40 389.50,122.01 389.75,122.47 390.00,122.81 390.25,123.04 390.50,123.18 390.75,123.25 391.00,123.28 391.25,123.27 391.50,123.24 391.75,123.18 392.00,123.11 392.25,123.02 392.50,122.92 392.75,122.82 393.00,122.70 393.25,122.58 393.50,122.45 393.75,122.31 394.00,122.17 394.25,122.03 394.50,121.88 394.75,121.73 395.00,121.57 395.25,121.41 395.50,121.24 395.75,121.06 396.00,120.87 396.25,120.66 396.50,120.42 396.75,120.16 397.00,119.85 397.25,119.49 397.50,119.07 397.75,118.58 398.00,118.02 398.25,117.38 398.50,116.67 398.75,115.90 399.00,115.07 399.25,114.21 399.50,113.33 399.75,112.48 400.00,111.67 400.25,110.97 400.50,110.41 400.75,110.05 401.00,109.90 401.25,109.99 401.50,110.29 401.75,110.79 402.00,111.44 402.25,112.18 402.50,112.98 402.75,113.80 403.00,114.61 403.25,115.38 403.50,116.10 403.75,116.75 404.00,117.34 404.25,117.85 404.50,118.29 404.75,118.67 405.00,118.99 405.25,119.25 405.50,119.52 405.75,119.83 406.00,120.17 406.25,120.55 406.50,120.96 406.75,121.40 407.00,121.87 407.25,122.36 407.50,122.87 407.75,123.39 408.00,123.92 408.25,124.45 408.50,124.98 408.75,125.50 409.00,125.99 409.25,126.47 409.50,126.91 409.75,127.31 410.00,127.66 410.25,127.97 410.50,128.21 410.75,128.38 411.00,128.48 411.25,128.50 411.50,128.48 411.75,128.46 412.00,128.42 412.25,128.38 412.50,128.32 412.75,128.23 413.00,128.13 413.25,128.00 413.50,127.83 413.75,127.64 414.00,127.41 414.25,127.15 414.50,126.86 414.75,126.55 415.00,126.23 415.25,125.92 415.50,125.64 415.75,125.41 416.00,125.26 416.25,125.20 416.50,125.24 416.75,125.36 417.00,125.56 417.25,125.79 417.50,126.05 417.75,126.31 418.00,126.55 418.25,126.77 418.50,126.96 418.75,127.12 419.00,127.24 419.25,127.33 419.50,127.38 419.75,127.41 420.00,127.40 420.25,127.35 420.50,127.27 420.75,127.16 421.00,127.02 421.25,126.85 421.50,126.66 421.75,126.44 422.00,126.20 422.25,125.92 422.50,125.60 422.75,125.21 423.00,124.71 423.25,124.02 423.50,123.03 423.75,121.58 424.00,119.51 424.25,116.71 424.50,113.19 424.75,109.16 425.00,105.13 425.25,101.95 425.50,100.60 425.75,101.57 426.00,104.37 426.25,108.02 426.50,111.69 426.75,114.85 427.00,117.30 427.25,119.03 427.50,120.16 427.75,120.85 428.00,121.25 428.25,121.49 428.50,121.64 428.75,121.75 429.00,121.83 429.25,121.90 429.50,121.96 429.75,121.99 430.00,122.02 430.25,122.03 430.50,122.02 430.75,122.00 431.00,121.95 431.25,121.86 431.50,121.74 431.75,121.57 432.00,121.35 432.25,121.07 432.50,120.73 432.75,120.33 433.00,119.88 433.25,119.38 433.50,118.86 433.75,118.35 434.00,117.88 434.25,117.50 434.50,117.26 434.75,117.19 435.00,117.32 435.25,117.63 435.50,118.10 435.75,118.67 436.00,119.31 436.25,119.96 436.50,120.60 436.75,121.21 437.00,121.76 437.25,122.26 437.50,122.69 437.75,123.07 438.00,123.39 438.25,123.66 438.50,123.88 438.75,124.08 439.00,124.24 439.25,124.40 439.50,124.59 439.75,124.82 440.00,125.06 440.25,125.31 440.50,125.54 440.75,125.75 441.00,125.91 441.25,126.01 441.50,126.02 441.75,125.95 442.00,125.83 442.25,125.67 442.50,125.45 442.75,125.16 443.00,124.78 443.25,124.29 443.50,123.66 443.75,122.85 444.00,121.83 444.25,120.59 444.50,119.08 444.75,117.32 445.00,115.31 445.25,113.10 445.50,110.75 445.75,108.38 446.00,106.13 446.25,104.20 446.50,102.78 446.75,102.05 447.00,102.11 447.25,102.91 447.50,104.31 447.75,106.10 448.00,108.10 448.25,110.13 448.50,112.07 448.75,113.85 449.00,115.40 449.25,116.71 449.50,117.77 449.75,118.60 450.00,119.23 450.25,119.69 450.50,120.01 450.75,120.22 451.00,120.36 451.25,120.44 451.50,120.49 451.75,120.51 452.00,120.51 452.25,120.51 452.50,120.50 452.75,120.48 453.00,120.43 453.25,120.35 453.50,120.22 453.75,120.01 454.00,119.67 454.25,119.16 454.50,118.44 454.75,117.50 455.00,116.40 455.25,115.25 455.50,114.30 455.75,113.82 456.00,114.00 456.25,114.76 456.50,115.82 456.75,116.92 457.00,117.90 457.25,118.67 457.50,119.23 457.75,119.59 458.00,119.81 458.25,119.94 458.50,120.00 458.75,120.03 459.00,120.06 459.25,120.07 459.50,120.03 459.75,119.92 460.00,119.72 460.25,119.40 460.50,119.02 460.75,118.67 461.00,118.50 461.25,118.60 461.50,118.85 461.75,119.04 462.00,119.00 462.25,118.60 462.50,117.72 462.75,116.28 463.00,114.19 463.25,111.46 463.50,108.14 463.75,104.48 464.00,100.89 464.25,98.01 464.50,96.50 464.75,96.66 465.00,98.15 465.25,100.26 465.50,102.33 465.75,103.93 466.00,104.84 466.25,105.00 466.50,104.50 466.75,103.53 467.00,102.30 467.25,101.07 467.50,100.09 467.75,99.54 468.00,99.55 468.25,100.11 468.50,101.10 468.75,102.37 469.00,103.79 469.25,105.22 469.50,106.60 469.75,107.87 470.00,109.00 470.25,110.05 470.50,111.07 470.75,112.05 471.00,112.99 471.25,113.89 471.50,114.74 471.75,115.54 472.00,116.28 472.25,116.94 472.50,117.50 472.75,118.01 473.00,118.53 473.25,119.04 473.50,119.55 473.75,120.04 474.00,120.51 474.25,120.95 474.50,121.35 474.75,121.70 475.00,122.00 475.25,122.26 475.50,122.51 475.75,122.75 476.00,122.98 476.25,123.20 476.50,123.41 476.75,123.61 477.00,123.80 477.25,123.98 477.50,124.15 477.75,124.32 478.00,124.48 478.25,124.63 478.50,124.77 478.75,124.91 479.00,125.04 479.25,125.16 479.50,125.28 479.75,125.39 480.00,125.50 480.25,125.61 480.50,125.71 480.75,125.82 481.00,125.92 481.25,126.03 481.50,126.13 481.75,126.23 482.00,126.33 482.25,126.42 482.50,126.51 482.75,126.59 483.00,126.67 483.25,126.74 483.50,126.80 483.75,126.86 484.00,126.90 484.25,126.94 484.50,126.97 484.75,126.99 485.00,127.00 485.25,127.00 485.50,127.00 485.75,127.01 486.00,127.01 486.25,127.01 486.50,127.01 486.75,127.01 487.00,127.01 487.25,127.00 487.50,127.00 487.75,126.99 488.00,126.99 488.25,126.98 488.50,126.97 488.75,126.96 489.00,126.94 489.25,126.93 489.50,126.91 489.75,126.89 490.00,126.87 490.25,126.84 490.50,126.81 490.75,126.78 491.00,126.75 491.25,126.71 491.50,126.67 491.75,126.63 492.00,126.58 492.25,126.53"/>
<polyline fill="none" stroke="#f69c4a" stroke-width="1.05" stroke-linejoin="round" points="307.50,90.90 307.75,90.87 308.00,90.85 308.25,90.82 308.50,90.80 308.75,90.78 309.00,90.76 309.25,90.74 309.50,90.72 309.75,90.71 310.00,90.69 310.25,90.68 310.50,90.66 310.75,90.65 311.00,90.63 311.25,90.62 311.50,90.61 311.75,90.60 312.00,90.58 312.25,90.57 312.50,90.56 312.75,90.55 313.00,90.53 313.25,90.52 313.50,90.50 313.75,90.48 314.00,90.46 314.25,90.43 314.50,90.40 314.75,90.37 315.00,90.32 315.25,90.26 315.50,90.19 315.75,90.07 316.00,89.89 316.25,89.57 316.50,89.04 316.75,88.20 317.00,86.97 317.25,85.38 317.50,83.57 317.75,81.89 318.00,80.89 318.25,81.04 318.50,82.26 318.75,84.05 319.00,85.88 319.25,87.44 319.50,88.63 319.75,89.43 320.00,89.95 320.25,90.26 320.50,90.44 320.75,90.57 321.00,90.65 321.25,90.72 321.50,90.77 321.75,90.81 322.00,90.84 322.25,90.85 322.50,90.85 322.75,90.83 323.00,90.79 323.25,90.72 323.50,90.63 323.75,90.52 324.00,90.37 324.25,90.19 324.50,89.96 324.75,89.69 325.00,89.39 325.25,89.05 325.50,88.70 325.75,88.33 326.00,87.97 326.25,87.62 326.50,87.31 326.75,87.05 327.00,86.86 327.25,86.74 327.50,86.69 327.75,86.72 328.00,86.80 328.25,86.93 328.50,87.09 328.75,87.27 329.00,87.46 329.25,87.65 329.50,87.85 329.75,88.04 330.00,88.23 330.25,88.41 330.50,88.58 330.75,88.73 331.00,88.88 331.25,89.01 331.50,89.14 331.75,89.26 332.00,89.37 332.25,89.48 332.50,89.59 332.75,89.70 333.00,89.81 333.25,89.92 333.50,90.03 333.75,90.14 334.00,90.24 334.25,90.35 334.50,90.46 334.75,90.57 335.00,90.68 335.25,90.79 335.50,90.89 335.75,90.99 336.00,91.09 336.25,91.19 336.50,91.28 336.75,91.36 337.00,91.44 337.25,91.51 337.50,91.58 337.75,91.64 338.00,91.69 338.25,91.73 338.50,91.76 338.75,91.79 339.00,91.80 339.25,91.80 339.50,91.79 339.75,91.78 340.00,91.76 340.25,91.73 340.50,91.70 340.75,91.66 341.00,91.62 341.25,91.57 341.50,91.52 341.75,91.46 342.00,91.40 342.25,91.34 342.50,91.27 342.75,91.20 343.00,91.13 343.25,91.05 343.50,90.97 343.75,90.89 344.00,90.81 344.25,90.72 344.50,90.62 344.75,90.52 345.00,90.40 345.25,90.27 345.50,90.11 345.75,89.91 346.00,89.66 346.25,89.34 346.50,88.95 346.75,88.47 347.00,87.90 347.25,87.24 347.50,86.49 347.75,85.67 348.00,84.83 348.25,84.00 348.50,83.26 348.75,82.69 349.00,82.36 349.25,82.30 349.50,82.53 349.75,82.99 350.00,83.59 350.25,84.27 350.50,84.96 350.75,85.61 351.00,86.20 351.25,86.71 351.50,87.12 351.75,87.44 352.00,87.69 352.25,87.86 352.50,87.96 352.75,88.00 353.00,87.99 353.25,87.93 353.50,87.81 353.75,87.64 354.00,87.40 354.25,87.08 354.50,86.68 354.75,86.19 355.00,85.62 355.25,84.97 355.50,84.27 355.75,83.54 356.00,82.84 356.25,82.24 356.50,81.81 356.75,81.61 357.00,81.68 357.25,82.00 357.50,82.51 357.75,83.15 358.00,83.85 358.25,84.54 358.50,85.20 358.75,85.79 359.00,86.29 359.25,86.71 359.50,87.06 359.75,87.32 360.00,87.53 360.25,87.70 360.50,87.88 360.75,88.07 361.00,88.29 361.25,88.52 361.50,88.77 361.75,89.02 362.00,89.28 362.25,89.54 362.50,89.78 362.75,90.02 363.00,90.22 363.25,90.41 363.50,90.61 363.75,90.82 364.00,91.03 364.25,91.25 364.50,91.48 364.75,91.70 365.00,91.92 365.25,92.13 365.50,92.34 365.75,92.53 366.00,92.71 366.25,92.87 366.50,93.00 366.75,93.12 367.00,93.21 367.25,93.27 367.50,93.30 367.75,93.29 368.00,93.23 368.25,93.14 368.50,93.00 368.75,92.83 369.00,92.64 369.25,92.41 369.50,92.17 369.75,91.92 370.00,91.65 370.25,91.38 370.50,91.10 370.75,90.83 371.00,90.56 371.25,90.31 371.50,90.07 371.75,89.84 372.00,89.64 372.25,89.46 372.50,89.31 372.75,89.17 373.00,89.05 373.25,88.90 373.50,88.69 373.75,88.40 374.00,88.01 374.25,87.51 374.50,86.87 374.75,86.09 375.00,85.17 375.25,84.14 375.50,83.04 375.75,81.95 376.00,80.96 376.25,80.22 376.50,79.83 376.75,79.89 377.00,80.37 377.25,81.20 377.50,82.23 377.75,83.35 378.00,84.46 378.25,85.49 378.50,86.39 378.75,87.16 379.00,87.78 379.25,88.26 379.50,88.63 379.75,88.90 380.00,89.10 380.25,89.23 380.50,89.30 380.75,89.32 381.00,89.30 381.25,89.26 381.50,89.20 381.75,89.12 382.00,89.03 382.25,88.94 382.50,88.84 382.75,88.75 383.00,88.65 383.25,88.56 383.50,88.48 383.75,88.41 384.00,88.35 384.25,88.29 384.50,88.22 384.75,88.11 385.00,87.97 385.25,87.75 385.50,87.46 385.75,87.07 386.00,86.58 386.25,85.99 386.50,85.32 386.75,84.61 387.00,83.94 387.25,83.41 387.50,83.13 387.75,83.16 388.00,83.50 388.25,84.06 388.50,84.74 388.75,85.44 389.00,86.09 389.25,86.66 389.50,87.12 389.75,87.48 390.00,87.74 390.25,87.93 390.50,88.04 390.75,88.09 391.00,88.09 391.25,88.05 391.50,87.98 391.75,87.90 392.00,87.80 392.25,87.69 392.50,87.58 392.75,87.47 393.00,87.35 393.25,87.24 393.50,87.14 393.75,87.04 394.00,86.96 394.25,86.89 394.50,86.83 394.75,86.79 395.00,86.77 395.25,86.74 395.50,86.71 395.75,86.67 396.00,86.62 396.25,86.53 396.50,86.41 396.75,86.24 397.00,86.02 397.25,85.75 397.50,85.42 397.75,85.03 398.00,84.58 398.25,84.06 398.50,83.48 398.75,82.85 399.00,82.16 399.25,81.44 399.50,80.71 399.75,79.99 400.00,79.32 400.25,78.72 400.50,78.25 400.75,77.93 401.00,77.80 401.25,77.86 401.50,78.11 401.75,78.51 402.00,79.03 402.25,79.64 402.50,80.30 402.75,80.97 403.00,81.63 403.25,82.26 403.50,82.85 403.75,83.39 404.00,83.87 404.25,84.29 404.50,84.65 404.75,84.96 405.00,85.22 405.25,85.44 405.50,85.66 405.75,85.91 406.00,86.18 406.25,86.47 406.50,86.79 406.75,87.12 407.00,87.48 407.25,87.85 407.50,88.24 407.75,88.63 408.00,89.03 408.25,89.43 408.50,89.83 408.75,90.22 409.00,90.60 409.25,90.95 409.50,91.28 409.75,91.59 410.00,91.86 410.25,92.09 410.50,92.27 410.75,92.40 411.00,92.48 411.25,92.50 411.50,92.49 411.75,92.48 412.00,92.46 412.25,92.43 412.50,92.39 412.75,92.34 413.00,92.27 413.25,92.19 413.50,92.09 413.75,91.98 414.00,91.84 414.25,91.69 414.50,91.52 414.75,91.33 415.00,91.15 415.25,90.96 415.50,90.79 415.75,90.65 416.00,90.55 416.25,90.49 416.50,90.49 416.75,90.53 417.00,90.61 417.25,90.71 417.50,90.82 417.75,90.93 418.00,91.03 418.25,91.12 418.50,91.19 418.75,91.25 419.00,91.28 419.25,91.30 419.50,91.30 419.75,91.29 420.00,91.26 420.25,91.22 420.50,91.16 420.75,91.09 421.00,91.01 421.25,90.92 421.50,90.81 421.75,90.69 422.00,90.55 422.25,90.39 422.50,90.20 422.75,89.94 423.00,89.60 423.25,89.09 423.50,88.30 423.75,87.11 424.00,85.39 424.25,83.03 424.50,80.06 424.75,76.64 425.00,73.22 425.25,70.50 425.50,69.30 425.75,70.03 426.00,72.30 426.25,75.27 426.50,78.26 426.75,80.82 427.00,82.79 427.25,84.16 427.50,85.04 427.75,85.55 428.00,85.83 428.25,85.99 428.50,86.08 428.75,86.16 429.00,86.23 429.25,86.29 429.50,86.34 429.75,86.38 430.00,86.41 430.25,86.44 430.50,86.45 430.75,86.45 431.00,86.43 431.25,86.39 431.50,86.32 431.75,86.22 432.00,86.09 432.25,85.91 432.50,85.69 432.75,85.43 433.00,85.13 433.25,84.80 433.50,84.45 433.75,84.11 434.00,83.81 434.25,83.56 434.50,83.41 434.75,83.39 435.00,83.50 435.25,83.75 435.50,84.11 435.75,84.55 436.00,85.03 436.25,85.52 436.50,86.00 436.75,86.46 437.00,86.87 437.25,87.25 437.50,87.58 437.75,87.86 438.00,88.11 438.25,88.31 438.50,88.48 438.75,88.63 439.00,88.76 439.25,88.87 439.50,88.99 439.75,89.11 440.00,89.24 440.25,89.36 440.50,89.46 440.75,89.55 441.00,89.61 441.25,89.64 441.50,89.62 441.75,89.56 442.00,89.46 442.25,89.34 442.50,89.18 442.75,88.96 443.00,88.67 443.25,88.29 443.50,87.80 443.75,87.17 444.00,86.37 444.25,85.38 444.50,84.18 444.75,82.76 445.00,81.14 445.25,79.36 445.50,77.47 445.75,75.55 446.00,73.74 446.25,72.19 446.50,71.07 446.75,70.53 447.00,70.64 447.25,71.36 447.50,72.59 447.75,74.14 448.00,75.85 448.25,77.60 448.50,79.26 448.75,80.79 449.00,82.13 449.25,83.25 449.50,84.18 449.75,84.90 450.00,85.45 450.25,85.86 450.50,86.15 450.75,86.34 451.00,86.47 451.25,86.54 451.50,86.57 451.75,86.58 452.00,86.57 452.25,86.54 452.50,86.50 452.75,86.44 453.00,86.37 453.25,86.26 453.50,86.10 453.75,85.88 454.00,85.56 454.25,85.10 454.50,84.47 454.75,83.67 455.00,82.74 455.25,81.78 455.50,80.96 455.75,80.53 456.00,80.61 456.25,81.16 456.50,81.94 456.75,82.76 457.00,83.49 457.25,84.05 457.50,84.46 457.75,84.72 458.00,84.87 458.25,84.96 458.50,85.00 458.75,85.03 459.00,85.06 459.25,85.09 459.50,85.08 459.75,85.03 460.00,84.88 460.25,84.66 460.50,84.37 460.75,84.11 461.00,84.00 461.25,84.11 461.50,84.34 461.75,84.52 462.00,84.50 462.25,84.18 462.50,83.48 462.75,82.33 463.00,80.66 463.25,78.46 463.50,75.80 463.75,72.87 464.00,69.99 464.25,67.69 464.50,66.50 464.75,66.67 465.00,67.91 465.25,69.64 465.50,71.32 465.75,72.59 466.00,73.28 466.25,73.33 466.50,72.83 466.75,71.94 467.00,70.84 467.25,69.77 467.50,68.93 467.75,68.52 468.00,68.63 468.25,69.25 468.50,70.27 468.75,71.55 469.00,72.95 469.25,74.37 469.50,75.71 469.75,76.93 470.00,78.00 470.25,78.95 470.50,79.79 470.75,80.54 471.00,81.21 471.25,81.81 471.50,82.34 471.75,82.83 472.00,83.26 472.25,83.66 472.50,84.00 472.75,84.32 473.00,84.65 473.25,84.99 473.50,85.32 473.75,85.65 474.00,85.97 474.25,86.27 474.50,86.55 474.75,86.79 475.00,87.00 475.25,87.18 475.50,87.36 475.75,87.52 476.00,87.68 476.25,87.83 476.50,87.97 476.75,88.11 477.00,88.24 477.25,88.36 477.50,88.48 477.75,88.60 478.00,88.71 478.25,88.82 478.50,88.92 478.75,89.02 479.00,89.12 479.25,89.22 479.50,89.31 479.75,89.41 480.00,89.50 480.25,89.59 480.50,89.69 480.75,89.79 481.00,89.89 481.25,89.99 481.50,90.10 481.75,90.19 482.00,90.29 482.25,90.39 482.50,90.48 482.75,90.56 483.00,90.64 483.25,90.72 483.50,90.79 483.75,90.85 484.00,90.90 484.25,90.94 484.50,90.97 484.75,90.99 485.00,91.00 485.25,91.00 485.50,91.00 485.75,91.01 486.00,91.01 486.25,91.01 486.50,91.01 486.75,91.01 487.00,91.01 487.25,91.02 487.50,91.02 487.75,91.02 488.00,91.02 488.25,91.02 488.50,91.02 488.75,91.02 489.00,91.02 489.25,91.02 489.50,91.02 489.75,91.02 490.00,91.02 490.25,91.02 490.50,91.02 490.75,91.02 491.00,91.01 491.25,91.01 491.50,91.01 491.75,91.01 492.00,91.00 492.25,91.00"/>
<polyline fill="none" stroke="#4646a6" stroke-width="1.05" stroke-linejoin="round" points="53.00,386.00 53.25,386.01 53.50,386.02 53.75,386.03 54.00,386.04 54.25,386.05 54.50,386.05 54.75,386.06 55.00,386.06 55.25,386.07 55.50,386.07 55.75,386.07 56.00,386.07 56.25,386.07 56.50,386.07 56.75,386.07 57.00,386.07 57.25,386.06 57.50,386.06 57.75,386.05 58.00,386.04 58.25,386.03 58.50,386.01 58.75,385.98 59.00,385.94 59.25,385.88 59.50,385.78 59.75,385.62 60.00,385.38 60.25,385.06 60.50,384.69 60.75,384.30 61.00,384.00 61.25,383.90 61.50,384.03 61.75,384.32 62.00,384.64 62.25,384.91 62.50,385.06 62.75,385.07 63.00,384.94 63.25,384.66 63.50,384.24 63.75,383.74 64.00,383.24 64.25,382.84 64.50,382.70 64.75,382.88 65.00,383.31 65.25,383.86 65.50,384.41 65.75,384.88 66.00,385.26 66.25,385.53 66.50,385.71 66.75,385.83 67.00,385.91 67.25,385.95 67.50,385.98 67.75,386.00 68.00,386.01 68.25,386.01 68.50,386.01 68.75,386.00 69.00,385.97 69.25,385.94 69.50,385.89 69.75,385.84 70.00,385.77 70.25,385.70 70.50,385.61 70.75,385.51 71.00,385.40 71.25,385.27 71.50,385.10 71.75,384.85 72.00,384.46 72.25,383.80 72.50,382.74 72.75,381.09 73.00,378.74 73.25,375.68 73.50,372.13 73.75,368.62 74.00,366.03 74.25,365.35 74.50,366.89 74.75,369.97 75.00,373.59 75.25,377.00 75.50,379.79 75.75,381.85 76.00,383.24 76.25,384.13 76.50,384.67 76.75,385.00 77.00,385.23 77.25,385.42 77.50,385.58 77.75,385.73 78.00,385.86 78.25,385.98 78.50,386.09 78.75,386.18 79.00,386.24 79.25,386.29 79.50,386.32 79.75,386.34 80.00,386.36 80.25,386.37 80.50,386.39 80.75,386.40 81.00,386.41 81.25,386.42 81.50,386.43 81.75,386.43 82.00,386.44 82.25,386.44 82.50,386.45 82.75,386.45 83.00,386.45 83.25,386.46 83.50,386.46 83.75,386.46 84.00,386.46 84.25,386.46 84.50,386.46 84.75,386.46 85.00,386.46 85.25,386.46 85.50,386.46 85.75,386.46 86.00,386.45 86.25,386.45 86.50,386.45 86.75,386.45 87.00,386.44 87.25,386.44 87.50,386.44 87.75,386.44 88.00,386.43 88.25,386.43 88.50,386.43 88.75,386.42 89.00,386.42 89.25,386.42 89.50,386.41 89.75,386.41 90.00,386.41 90.25,386.40 90.50,386.40 90.75,386.39 91.00,386.39 91.25,386.39 91.50,386.38 91.75,386.38 92.00,386.38 92.25,386.37 92.50,386.37 92.75,386.36 93.00,386.36 93.25,386.36 93.50,386.35 93.75,386.35 94.00,386.34 94.25,386.33 94.50,386.33 94.75,386.32 95.00,386.31 95.25,386.30 95.50,386.28 95.75,386.27 96.00,386.24 96.25,386.22 96.50,386.18 96.75,386.14 97.00,386.09 97.25,386.03 97.50,385.96 97.75,385.88 98.00,385.79 98.25,385.70 98.50,385.60 98.75,385.50 99.00,385.41 99.25,385.33 99.50,385.26 99.75,385.22 100.00,385.21 100.25,385.23 100.50,385.28 100.75,385.35 101.00,385.44 101.25,385.53 101.50,385.64 101.75,385.74 102.00,385.84 102.25,385.93 102.50,386.02 102.75,386.09 103.00,386.15 103.25,386.21 103.50,386.25 103.75,386.29 104.00,386.32 104.25,386.34 104.50,386.36 104.75,386.38 105.00,386.38 105.25,386.39 105.50,386.39 105.75,386.40 106.00,386.39 106.25,386.39 106.50,386.39 106.75,386.38 107.00,386.37 107.25,386.36 107.50,386.34 107.75,386.31 108.00,386.27 108.25,386.21 108.50,386.12 108.75,385.98 109.00,385.75 109.25,385.37 109.50,384.78 109.75,383.91 110.00,382.72 110.25,381.22 110.50,379.53 110.75,377.90 111.00,376.73 111.25,376.42 111.50,377.12 111.75,378.53 112.00,380.23 112.25,381.87 112.50,383.26 112.75,384.32 113.00,385.08 113.25,385.57 113.50,385.89 113.75,386.08 114.00,386.20 114.25,386.28 114.50,386.33 114.75,386.35 115.00,386.34 115.25,386.32 115.50,386.28 115.75,386.23 116.00,386.18 116.25,386.12 116.50,386.06 116.75,386.01 117.00,385.96 117.25,385.90 117.50,385.82 117.75,385.74 118.00,385.62 118.25,385.48 118.50,385.29 118.75,385.05 119.00,384.75 119.25,384.42 119.50,384.07 119.75,383.74 120.00,383.49 120.25,383.39 120.50,383.45 120.75,383.64 121.00,383.88 121.25,384.14 121.50,384.36 121.75,384.54 122.00,384.67 122.25,384.76 122.50,384.82 122.75,384.85 123.00,384.85 123.25,384.84 123.50,384.80 123.75,384.74 124.00,384.62 124.25,384.44 124.50,384.17 124.75,383.80 125.00,383.35 125.25,382.85 125.50,382.38 125.75,382.07 126.00,382.01 126.25,382.23 126.50,382.61 126.75,383.02 127.00,383.36 127.25,383.56 127.50,383.56 127.75,383.31 128.00,382.76 128.25,381.86 128.50,380.57 128.75,378.91 129.00,376.96 129.25,374.90 129.50,373.04 129.75,371.80 130.00,371.51 130.25,372.19 130.50,373.50 130.75,374.95 131.00,376.20 131.25,377.05 131.50,377.45 131.75,377.49 132.00,377.38 132.25,377.36 132.50,377.67 132.75,378.39 133.00,379.42 133.25,380.60 133.50,381.77 133.75,382.84 134.00,383.74 134.25,384.46 134.50,385.01 134.75,385.40 135.00,385.68 135.25,385.87 135.50,386.00 135.75,386.09 136.00,386.16 136.25,386.21 136.50,386.25 136.75,386.28 137.00,386.31 137.25,386.33 137.50,386.35 137.75,386.36 138.00,386.37 138.25,386.38 138.50,386.39 138.75,386.39 139.00,386.39 139.25,386.39 139.50,386.39 139.75,386.39 140.00,386.39 140.25,386.38 140.50,386.37 140.75,386.37 141.00,386.36 141.25,386.35 141.50,386.33 141.75,386.32 142.00,386.31 142.25,386.29 142.50,386.27 142.75,386.26 143.00,386.24 143.25,386.22 143.50,386.19 143.75,386.17 144.00,386.15 144.25,386.12 144.50,386.09 144.75,386.06 145.00,386.03 145.25,385.99 145.50,385.94 145.75,385.87 146.00,385.77 146.25,385.66 146.50,385.53 146.75,385.39 147.00,385.24 147.25,385.08 147.50,384.90 147.75,384.73 148.00,384.54 148.25,384.36 148.50,384.17 148.75,383.97 149.00,383.78 149.25,383.58 149.50,383.37 149.75,383.15 150.00,382.90 150.25,382.61 150.50,382.25 150.75,381.78 151.00,381.14 151.25,380.29 151.50,379.17 151.75,377.72 152.00,375.91 152.25,373.69 152.50,371.09 152.75,368.14 153.00,364.93 153.25,361.64 153.50,358.48 153.75,355.77 154.00,353.84 154.25,353.02 154.50,353.44 154.75,355.05 155.00,357.58 155.25,360.68 155.50,364.03 155.75,367.37 156.00,370.51 156.25,373.32 156.50,375.75 156.75,377.76 157.00,379.37 157.25,380.63 157.50,381.57 157.75,382.26 158.00,382.74 158.25,383.05 158.50,383.21 158.75,383.23 159.00,383.08 159.25,382.74 159.50,382.17 159.75,381.32 160.00,380.15 160.25,378.64 160.50,376.80 160.75,374.67 161.00,372.40 161.25,370.17 161.50,368.29 161.75,367.08 162.00,366.81 162.25,367.51 162.50,368.96 162.75,370.83 163.00,372.82 163.25,374.71 163.50,376.38 163.75,377.75 164.00,378.82 164.25,379.62 164.50,380.19 164.75,380.60 165.00,380.89 165.25,381.11 165.50,381.30 165.75,381.49 166.00,381.68 166.25,381.87 166.50,382.08 166.75,382.31 167.00,382.54 167.25,382.78 167.50,383.04 167.75,383.30 168.00,383.56 168.25,383.82 168.50,384.09 168.75,384.34 169.00,384.59 169.25,384.83 169.50,385.06 169.75,385.27 170.00,385.46 170.25,385.63 170.50,385.77 170.75,385.89 171.00,385.97 171.25,386.01 171.50,386.00 171.75,385.96 172.00,385.90 172.25,385.81 172.50,385.68 172.75,385.51 173.00,385.30 173.25,385.05 173.50,384.78 173.75,384.50 174.00,384.25 174.25,384.07 174.50,384.00 174.75,384.06 175.00,384.24 175.25,384.48 175.50,384.76 175.75,385.03 176.00,385.28 176.25,385.49 176.50,385.65 176.75,385.78 177.00,385.86 177.25,385.93 177.50,385.96 177.75,385.99 178.00,386.00 178.25,386.00 178.50,385.99 178.75,385.97 179.00,385.94 179.25,385.89 179.50,385.84 179.75,385.79 180.00,385.72 180.25,385.65 180.50,385.58 180.75,385.50 181.00,385.41 181.25,385.32 181.50,385.22 181.75,385.12 182.00,385.02 182.25,384.91 182.50,384.80 182.75,384.68 183.00,384.57 183.25,384.45 183.50,384.31 183.75,384.14 184.00,383.94 184.25,383.71 184.50,383.46 184.75,383.19 185.00,382.91 185.25,382.62 185.50,382.32 185.75,382.00 186.00,381.66 186.25,381.29 186.50,380.88 186.75,380.40 187.00,379.85 187.25,379.18 187.50,378.36 187.75,377.39 188.00,376.29 188.25,375.08 188.50,373.83 188.75,372.62 189.00,371.56 189.25,370.79 189.50,370.42 189.75,370.53 190.00,371.11 190.25,372.07 190.50,373.29 190.75,374.63 191.00,375.99 191.25,377.29 191.50,378.47 191.75,379.50 192.00,380.38 192.25,381.11 192.50,381.70 192.75,382.17 193.00,382.55 193.25,382.86 193.50,383.12 193.75,383.35 194.00,383.56 194.25,383.75 194.50,383.93 194.75,384.10 195.00,384.26 195.25,384.42 195.50,384.56 195.75,384.70 196.00,384.83 196.25,384.96 196.50,385.06 196.75,385.16 197.00,385.24 197.25,385.32 197.50,385.40 197.75,385.48 198.00,385.56 198.25,385.63 198.50,385.70 198.75,385.77 199.00,385.83 199.25,385.88 199.50,385.92 199.75,385.96 200.00,385.98 200.25,386.00 200.50,386.00 200.75,385.97 201.00,385.88 201.25,385.75 201.50,385.59 201.75,385.39 202.00,385.16 202.25,384.92 202.50,384.67 202.75,384.41 203.00,384.16 203.25,383.91 203.50,383.68 203.75,383.46 204.00,383.27 204.25,383.09 204.50,382.92 204.75,382.73 205.00,382.50 205.25,382.17 205.50,381.72 205.75,381.13 206.00,380.41 206.25,379.63 206.50,378.89 206.75,378.38 207.00,378.30 207.25,378.72 207.50,379.56 207.75,380.60 208.00,381.66 208.25,382.61 208.50,383.37 208.75,383.93 209.00,384.30 209.25,384.54 209.50,384.67 209.75,384.73 210.00,384.74 210.25,384.72 210.50,384.68 210.75,384.62 211.00,384.56 211.25,384.48 211.50,384.40 211.75,384.32 212.00,384.22 212.25,384.12 212.50,384.02 212.75,383.91 213.00,383.78 213.25,383.62 213.50,383.41 213.75,383.14 214.00,382.76 214.25,382.25 214.50,381.54 214.75,380.57 215.00,379.27 215.25,377.57 215.50,375.41 215.75,372.78 216.00,369.67 216.25,366.19 216.50,362.47 216.75,358.78 217.00,355.45 217.25,352.92 217.50,351.61 217.75,351.79 218.00,353.41 218.25,356.17 218.50,359.64 218.75,363.41 219.00,367.13 219.25,370.59 219.50,373.64 219.75,376.22 220.00,378.32 220.25,379.98 220.50,381.25 220.75,382.21 221.00,382.95 221.25,383.54 221.50,384.01 221.75,384.40 222.00,384.72 222.25,384.98 222.50,385.19 222.75,385.34 223.00,385.44 223.25,385.52 223.50,385.59 223.75,385.66 224.00,385.71 224.25,385.76 224.50,385.80 224.75,385.84 225.00,385.88 225.25,385.90 225.50,385.93 225.75,385.95 226.00,385.97 226.25,385.98 226.50,385.99 226.75,386.00 227.00,386.00 227.25,386.00 227.50,386.00"/>
<polyline fill="none" stroke="#4ea64e" stroke-width="1.05" stroke-linejoin="round" points="53.00,346.70 53.25,346.71 53.50,346.72 53.75,346.73 54.00,346.74 54.25,346.74 54.50,346.75 54.75,346.75 55.00,346.76 55.25,346.76 55.50,346.76 55.75,346.77 56.00,346.77 56.25,346.77 56.50,346.77 56.75,346.76 57.00,346.76 57.25,346.76 57.50,346.75 57.75,346.74 58.00,346.74 58.25,346.72 58.50,346.71 58.75,346.69 59.00,346.65 59.25,346.59 59.50,346.49 59.75,346.34 60.00,346.11 60.25,345.81 60.50,345.45 60.75,345.08 61.00,344.79 61.25,344.70 61.50,344.83 61.75,345.12 62.00,345.44 62.25,345.71 62.50,345.89 62.75,345.95 63.00,345.89 63.25,345.71 63.50,345.44 63.75,345.10 64.00,344.76 64.25,344.49 64.50,344.40 64.75,344.53 65.00,344.83 65.25,345.21 65.50,345.59 65.75,345.93 66.00,346.19 66.25,346.38 66.50,346.50 66.75,346.59 67.00,346.64 67.25,346.67 67.50,346.69 67.75,346.71 68.00,346.71 68.25,346.71 68.50,346.71 68.75,346.70 69.00,346.68 69.25,346.64 69.50,346.60 69.75,346.55 70.00,346.49 70.25,346.43 70.50,346.35 70.75,346.27 71.00,346.17 71.25,346.05 71.50,345.90 71.75,345.69 72.00,345.34 72.25,344.77 72.50,343.85 72.75,342.42 73.00,340.38 73.25,337.72 73.50,334.63 73.75,331.58 74.00,329.33 74.25,328.74 74.50,330.08 74.75,332.76 75.00,335.90 75.25,338.86 75.50,341.29 75.75,343.07 76.00,344.29 76.25,345.05 76.50,345.52 76.75,345.81 77.00,346.02 77.25,346.18 77.50,346.32 77.75,346.45 78.00,346.57 78.25,346.68 78.50,346.78 78.75,346.86 79.00,346.92 79.25,346.96 79.50,346.98 79.75,347.00 80.00,347.01 80.25,347.03 80.50,347.04 80.75,347.05 81.00,347.06 81.25,347.07 81.50,347.08 81.75,347.08 82.00,347.09 82.25,347.09 82.50,347.09 82.75,347.10 83.00,347.10 83.25,347.10 83.50,347.10 83.75,347.10 84.00,347.10 84.25,347.10 84.50,347.10 84.75,347.10 85.00,347.10 85.25,347.10 85.50,347.10 85.75,347.10 86.00,347.10 86.25,347.10 86.50,347.09 86.75,347.09 87.00,347.09 87.25,347.09 87.50,347.09 87.75,347.08 88.00,347.08 88.25,347.08 88.50,347.08 88.75,347.07 89.00,347.07 89.25,347.07 89.50,347.06 89.75,347.06 90.00,347.06 90.25,347.05 90.50,347.05 90.75,347.05 91.00,347.04 91.25,347.04 91.50,347.04 91.75,347.03 92.00,347.03 92.25,347.03 92.50,347.02 92.75,347.02 93.00,347.02 93.25,347.01 93.50,347.01 93.75,347.01 94.00,347.00 94.25,347.00 94.50,346.99 94.75,346.98 95.00,346.97 95.25,346.96 95.50,346.95 95.75,346.94 96.00,346.92 96.25,346.89 96.50,346.86 96.75,346.82 97.00,346.78 97.25,346.73 97.50,346.66 97.75,346.59 98.00,346.52 98.25,346.43 98.50,346.35 98.75,346.26 99.00,346.18 99.25,346.11 99.50,346.05 99.75,346.01 100.00,346.00 100.25,346.02 100.50,346.06 100.75,346.12 101.00,346.20 101.25,346.29 101.50,346.38 101.75,346.47 102.00,346.56 102.25,346.64 102.50,346.72 102.75,346.78 103.00,346.84 103.25,346.89 103.50,346.93 103.75,346.96 104.00,346.98 104.25,347.00 104.50,347.02 104.75,347.03 105.00,347.04 105.25,347.05 105.50,347.05 105.75,347.05 106.00,347.05 106.25,347.05 106.50,347.04 106.75,347.03 107.00,347.03 107.25,347.01 107.50,346.99 107.75,346.97 108.00,346.94 108.25,346.89 108.50,346.81 108.75,346.70 109.00,346.51 109.25,346.21 109.50,345.74 109.75,345.04 110.00,344.08 110.25,342.87 110.50,341.51 110.75,340.20 111.00,339.26 111.25,339.02 111.50,339.58 111.75,340.71 112.00,342.08 112.25,343.40 112.50,344.52 112.75,345.37 113.00,345.98 113.25,346.38 113.50,346.63 113.75,346.79 114.00,346.89 114.25,346.95 114.50,346.99 114.75,347.00 115.00,347.00 115.25,346.98 115.50,346.94 115.75,346.90 116.00,346.85 116.25,346.80 116.50,346.75 116.75,346.71 117.00,346.67 117.25,346.62 117.50,346.56 117.75,346.49 118.00,346.42 118.25,346.32 118.50,346.20 118.75,346.06 119.00,345.89 119.25,345.70 119.50,345.50 119.75,345.31 120.00,345.16 120.25,345.09 120.50,345.10 120.75,345.17 121.00,345.27 121.25,345.38 121.50,345.48 121.75,345.55 122.00,345.60 122.25,345.64 122.50,345.65 122.75,345.66 123.00,345.65 123.25,345.64 123.50,345.60 123.75,345.54 124.00,345.44 124.25,345.28 124.50,345.05 124.75,344.74 125.00,344.35 125.25,343.93 125.50,343.53 125.75,343.26 126.00,343.21 126.25,343.40 126.50,343.72 126.75,344.08 127.00,344.37 127.25,344.54 127.50,344.54 127.75,344.32 128.00,343.85 128.25,343.07 128.50,341.96 128.75,340.52 129.00,338.83 129.25,337.05 129.50,335.44 129.75,334.36 130.00,334.11 130.25,334.69 130.50,335.79 130.75,337.02 131.00,338.07 131.25,338.76 131.50,339.07 131.75,339.06 132.00,338.92 132.25,338.88 132.50,339.15 132.75,339.80 133.00,340.73 133.25,341.80 133.50,342.86 133.75,343.83 134.00,344.65 134.25,345.30 134.50,345.80 134.75,346.16 135.00,346.41 135.25,346.58 135.50,346.70 135.75,346.78 136.00,346.84 136.25,346.89 136.50,346.92 136.75,346.95 137.00,346.98 137.25,346.99 137.50,347.01 137.75,347.02 138.00,347.03 138.25,347.04 138.50,347.05 138.75,347.05 139.00,347.05 139.25,347.05 139.50,347.05 139.75,347.05 140.00,347.05 140.25,347.04 140.50,347.04 140.75,347.03 141.00,347.02 141.25,347.01 141.50,347.00 141.75,346.99 142.00,346.97 142.25,346.96 142.50,346.95 142.75,346.93 143.00,346.91 143.25,346.89 143.50,346.87 143.75,346.85 144.00,346.83 144.25,346.81 144.50,346.78 144.75,346.75 145.00,346.72 145.25,346.69 145.50,346.65 145.75,346.58 146.00,346.50 146.25,346.40 146.50,346.28 146.75,346.16 147.00,346.02 147.25,345.87 147.50,345.72 147.75,345.56 148.00,345.39 148.25,345.23 148.50,345.06 148.75,344.89 149.00,344.72 149.25,344.54 149.50,344.36 149.75,344.17 150.00,343.95 150.25,343.71 150.50,343.40 150.75,342.99 151.00,342.44 151.25,341.72 151.50,340.76 151.75,339.52 152.00,337.97 152.25,336.08 152.50,333.86 152.75,331.33 153.00,328.59 153.25,325.78 153.50,323.08 153.75,320.76 154.00,319.12 154.25,318.41 154.50,318.78 154.75,320.15 155.00,322.31 155.25,324.97 155.50,327.83 155.75,330.69 156.00,333.37 156.25,335.78 156.50,337.85 156.75,339.57 157.00,340.95 157.25,342.02 157.50,342.83 157.75,343.42 158.00,343.83 158.25,344.10 158.50,344.24 158.75,344.25 159.00,344.13 159.25,343.84 159.50,343.35 159.75,342.63 160.00,341.64 160.25,340.36 160.50,338.79 160.75,336.99 161.00,335.06 161.25,333.17 161.50,331.57 161.75,330.54 162.00,330.31 162.25,330.89 162.50,332.11 162.75,333.69 163.00,335.37 163.25,336.97 163.50,338.38 163.75,339.54 164.00,340.45 164.25,341.12 164.50,341.60 164.75,341.94 165.00,342.19 165.25,342.38 165.50,342.54 165.75,342.70 166.00,342.86 166.25,343.04 166.50,343.22 166.75,343.42 167.00,343.62 167.25,343.84 167.50,344.06 167.75,344.29 168.00,344.53 168.25,344.76 168.50,344.99 168.75,345.22 169.00,345.45 169.25,345.66 169.50,345.86 169.75,346.05 170.00,346.22 170.25,346.37 170.50,346.50 170.75,346.60 171.00,346.67 171.25,346.70 171.50,346.70 171.75,346.67 172.00,346.61 172.25,346.53 172.50,346.43 172.75,346.28 173.00,346.10 173.25,345.89 173.50,345.66 173.75,345.42 174.00,345.21 174.25,345.06 174.50,345.00 174.75,345.05 175.00,345.20 175.25,345.41 175.50,345.65 175.75,345.88 176.00,346.09 176.25,346.26 176.50,346.40 176.75,346.51 177.00,346.59 177.25,346.64 177.50,346.67 177.75,346.69 178.00,346.70 178.25,346.70 178.50,346.69 178.75,346.67 179.00,346.64 179.25,346.61 179.50,346.56 179.75,346.51 180.00,346.46 180.25,346.40 180.50,346.33 180.75,346.26 181.00,346.18 181.25,346.10 181.50,346.01 181.75,345.93 182.00,345.83 182.25,345.74 182.50,345.64 182.75,345.54 183.00,345.43 183.25,345.33 183.50,345.21 183.75,345.05 184.00,344.87 184.25,344.66 184.50,344.43 184.75,344.18 185.00,343.93 185.25,343.66 185.50,343.39 185.75,343.11 186.00,342.81 186.25,342.48 186.50,342.13 186.75,341.74 187.00,341.28 187.25,340.72 187.50,340.05 187.75,339.25 188.00,338.34 188.25,337.35 188.50,336.32 188.75,335.32 189.00,334.45 189.25,333.81 189.50,333.51 189.75,333.61 190.00,334.10 190.25,334.90 190.50,335.91 190.75,337.03 191.00,338.16 191.25,339.24 191.50,340.22 191.75,341.08 192.00,341.82 192.25,342.43 192.50,342.92 192.75,343.32 193.00,343.64 193.25,343.90 193.50,344.13 193.75,344.33 194.00,344.52 194.25,344.68 194.50,344.84 194.75,345.00 195.00,345.14 195.25,345.28 195.50,345.42 195.75,345.55 196.00,345.66 196.25,345.77 196.50,345.87 196.75,345.96 197.00,346.03 197.25,346.10 197.50,346.17 197.75,346.24 198.00,346.31 198.25,346.38 198.50,346.44 198.75,346.50 199.00,346.55 199.25,346.59 199.50,346.63 199.75,346.66 200.00,346.68 200.25,346.70 200.50,346.70 200.75,346.67 201.00,346.60 201.25,346.48 201.50,346.33 201.75,346.16 202.00,345.96 202.25,345.74 202.50,345.52 202.75,345.29 203.00,345.06 203.25,344.85 203.50,344.64 203.75,344.45 204.00,344.28 204.25,344.12 204.50,343.97 204.75,343.81 205.00,343.61 205.25,343.33 205.50,342.95 205.75,342.44 206.00,341.82 206.25,341.14 206.50,340.50 206.75,340.07 207.00,340.00 207.25,340.37 207.50,341.09 207.75,341.99 208.00,342.91 208.25,343.73 208.50,344.39 208.75,344.86 209.00,345.19 209.25,345.39 209.50,345.51 209.75,345.56 210.00,345.57 210.25,345.55 210.50,345.52 210.75,345.47 211.00,345.41 211.25,345.35 211.50,345.28 211.75,345.21 212.00,345.13 212.25,345.04 212.50,344.95 212.75,344.85 213.00,344.73 213.25,344.59 213.50,344.41 213.75,344.17 214.00,343.84 214.25,343.38 214.50,342.76 214.75,341.90 215.00,340.75 215.25,339.25 215.50,337.34 215.75,335.01 216.00,332.27 216.25,329.18 216.50,325.90 216.75,322.64 217.00,319.70 217.25,317.46 217.50,316.30 217.75,316.45 218.00,317.89 218.25,320.33 218.50,323.40 218.75,326.73 219.00,330.02 219.25,333.08 219.50,335.77 219.75,338.06 220.00,339.91 220.25,341.38 220.50,342.50 220.75,343.35 221.00,344.00 221.25,344.52 221.50,344.94 221.75,345.28 222.00,345.56 222.25,345.80 222.50,345.98 222.75,346.12 223.00,346.21 223.25,346.28 223.50,346.34 223.75,346.40 224.00,346.45 224.25,346.49 224.50,346.53 224.75,346.56 225.00,346.59 225.25,346.62 225.50,346.64 225.75,346.66 226.00,346.67 226.25,346.68 226.50,346.69 226.75,346.70 227.00,346.70 227.25,346.70 227.50,346.70"/>
<polyline fill="none" stroke="#f24cac" stroke-width="1.05" stroke-linejoin="round" points="53.00,312.60 53.25,312.61 53.50,312.62 53.75,312.62 54.00,312.63 54.25,312.64 54.50,312.64 54.75,312.65 55.00,312.65 55.25,312.65 55.50,312.66 55.75,312.66 56.00,312.66 56.25,312.66 56.50,312.66 56.75,312.66 57.00,312.66 57.25,312.65 57.50,312.65 57.75,312.64 58.00,312.63 58.25,312.62 58.50,312.61 58.75,312.59 59.00,312.55 59.25,312.50 59.50,312.41 59.75,312.27 60.00,312.07 60.25,311.80 60.50,311.47 60.75,311.14 61.00,310.88 61.25,310.80 61.50,310.92 61.75,311.18 62.00,311.46 62.25,311.70 62.50,311.85 62.75,311.88 63.00,311.79 63.25,311.58 63.50,311.27 63.75,310.89 64.00,310.51 64.25,310.21 64.50,310.10 64.75,310.24 65.00,310.56 65.25,310.98 65.50,311.40 65.75,311.76 66.00,312.04 66.25,312.25 66.50,312.39 66.75,312.48 67.00,312.53 67.25,312.57 67.50,312.59 67.75,312.60 68.00,312.61 68.25,312.61 68.50,312.61 68.75,312.60 69.00,312.58 69.25,312.55 69.50,312.51 69.75,312.47 70.00,312.41 70.25,312.35 70.50,312.28 70.75,312.20 71.00,312.12 71.25,312.01 71.50,311.87 71.75,311.67 72.00,311.35 72.25,310.82 72.50,309.96 72.75,308.64 73.00,306.74 73.25,304.27 73.50,301.41 73.75,298.57 74.00,296.49 74.25,295.94 74.50,297.18 74.75,299.67 75.00,302.59 75.25,305.33 75.50,307.58 75.75,309.25 76.00,310.37 76.25,311.08 76.50,311.52 76.75,311.79 77.00,311.98 77.25,312.13 77.50,312.26 77.75,312.38 78.00,312.48 78.25,312.58 78.50,312.67 78.75,312.74 79.00,312.80 79.25,312.84 79.50,312.86 79.75,312.87 80.00,312.89 80.25,312.90 80.50,312.91 80.75,312.92 81.00,312.93 81.25,312.94 81.50,312.95 81.75,312.95 82.00,312.96 82.25,312.96 82.50,312.96 82.75,312.97 83.00,312.97 83.25,312.97 83.50,312.97 83.75,312.97 84.00,312.97 84.25,312.97 84.50,312.97 84.75,312.97 85.00,312.97 85.25,312.97 85.50,312.97 85.75,312.97 86.00,312.97 86.25,312.97 86.50,312.96 86.75,312.96 87.00,312.96 87.25,312.96 87.50,312.96 87.75,312.95 88.00,312.95 88.25,312.95 88.50,312.95 88.75,312.94 89.00,312.94 89.25,312.94 89.50,312.93 89.75,312.93 90.00,312.93 90.25,312.93 90.50,312.92 90.75,312.92 91.00,312.92 91.25,312.91 91.50,312.91 91.75,312.91 92.00,312.90 92.25,312.90 92.50,312.90 92.75,312.89 93.00,312.89 93.25,312.89 93.50,312.88 93.75,312.88 94.00,312.88 94.25,312.87 94.50,312.87 94.75,312.86 95.00,312.85 95.25,312.84 95.50,312.83 95.75,312.82 96.00,312.80 96.25,312.78 96.50,312.75 96.75,312.71 97.00,312.67 97.25,312.62 97.50,312.57 97.75,312.50 98.00,312.43 98.25,312.36 98.50,312.28 98.75,312.20 99.00,312.12 99.25,312.06 99.50,312.00 99.75,311.97 100.00,311.96 100.25,311.97 100.50,312.01 100.75,312.07 101.00,312.14 101.25,312.22 101.50,312.31 101.75,312.39 102.00,312.47 102.25,312.55 102.50,312.61 102.75,312.67 103.00,312.73 103.25,312.77 103.50,312.81 103.75,312.84 104.00,312.86 104.25,312.88 104.50,312.89 104.75,312.90 105.00,312.91 105.25,312.92 105.50,312.92 105.75,312.92 106.00,312.92 106.25,312.92 106.50,312.91 106.75,312.91 107.00,312.90 107.25,312.89 107.50,312.88 107.75,312.85 108.00,312.82 108.25,312.77 108.50,312.70 108.75,312.59 109.00,312.40 109.25,312.11 109.50,311.64 109.75,310.95 110.00,310.00 110.25,308.82 110.50,307.48 110.75,306.19 111.00,305.26 111.25,305.02 111.50,305.57 111.75,306.69 112.00,308.03 112.25,309.33 112.50,310.43 112.75,311.28 113.00,311.87 113.25,312.27 113.50,312.52 113.75,312.67 114.00,312.77 114.25,312.83 114.50,312.87 114.75,312.88 115.00,312.88 115.25,312.86 115.50,312.83 115.75,312.79 116.00,312.74 116.25,312.70 116.50,312.65 116.75,312.61 117.00,312.57 117.25,312.52 117.50,312.46 117.75,312.40 118.00,312.31 118.25,312.21 118.50,312.08 118.75,311.91 119.00,311.72 119.25,311.49 119.50,311.26 119.75,311.03 120.00,310.87 120.25,310.79 120.50,310.82 120.75,310.93 121.00,311.08 121.25,311.23 121.50,311.37 121.75,311.48 122.00,311.56 122.25,311.61 122.50,311.64 122.75,311.65 123.00,311.65 123.25,311.64 123.50,311.61 123.75,311.56 124.00,311.47 124.25,311.33 124.50,311.13 124.75,310.85 125.00,310.51 125.25,310.14 125.50,309.79 125.75,309.55 126.00,309.51 126.25,309.66 126.50,309.93 126.75,310.23 127.00,310.48 127.25,310.62 127.50,310.61 127.75,310.41 128.00,309.99 128.25,309.31 128.50,308.33 128.75,307.07 129.00,305.59 129.25,304.03 129.50,302.61 129.75,301.64 130.00,301.39 130.25,301.85 130.50,302.75 130.75,303.72 131.00,304.52 131.25,304.97 131.50,305.07 131.75,304.89 132.00,304.63 132.25,304.51 132.50,304.74 132.75,305.39 133.00,306.35 133.25,307.47 133.50,308.58 133.75,309.60 134.00,310.46 134.25,311.14 134.50,311.66 134.75,312.04 135.00,312.30 135.25,312.48 135.50,312.60 135.75,312.68 136.00,312.74 136.25,312.79 136.50,312.83 136.75,312.86 137.00,312.88 137.25,312.90 137.50,312.92 137.75,312.93 138.00,312.94 138.25,312.95 138.50,312.95 138.75,312.95 139.00,312.96 139.25,312.96 139.50,312.96 139.75,312.95 140.00,312.95 140.25,312.94 140.50,312.94 140.75,312.93 141.00,312.92 141.25,312.91 141.50,312.90 141.75,312.89 142.00,312.87 142.25,312.86 142.50,312.84 142.75,312.83 143.00,312.81 143.25,312.79 143.50,312.77 143.75,312.75 144.00,312.73 144.25,312.70 144.50,312.68 144.75,312.65 145.00,312.62 145.25,312.59 145.50,312.55 145.75,312.49 146.00,312.41 146.25,312.32 146.50,312.21 146.75,312.09 147.00,311.97 147.25,311.83 147.50,311.69 147.75,311.54 148.00,311.39 148.25,311.24 148.50,311.09 148.75,310.93 149.00,310.77 149.25,310.61 149.50,310.45 149.75,310.27 150.00,310.08 150.25,309.85 150.50,309.57 150.75,309.20 151.00,308.70 151.25,308.03 151.50,307.15 151.75,306.03 152.00,304.61 152.25,302.88 152.50,300.84 152.75,298.53 153.00,296.03 153.25,293.45 153.50,290.98 153.75,288.86 154.00,287.36 154.25,286.71 154.50,287.05 154.75,288.30 155.00,290.28 155.25,292.71 155.50,295.33 155.75,297.95 156.00,300.40 156.25,302.60 156.50,304.50 156.75,306.07 157.00,307.34 157.25,308.32 157.50,309.06 157.75,309.60 158.00,309.97 158.25,310.21 158.50,310.34 158.75,310.35 159.00,310.24 159.25,309.96 159.50,309.51 159.75,308.84 160.00,307.92 160.25,306.73 160.50,305.28 160.75,303.61 161.00,301.81 161.25,300.06 161.50,298.57 161.75,297.62 162.00,297.41 162.25,297.95 162.50,299.09 162.75,300.56 163.00,302.12 163.25,303.61 163.50,304.91 163.75,305.99 164.00,306.83 164.25,307.46 164.50,307.91 164.75,308.23 165.00,308.46 165.25,308.63 165.50,308.78 165.75,308.93 166.00,309.08 166.25,309.24 166.50,309.41 166.75,309.59 167.00,309.78 167.25,309.98 167.50,310.18 167.75,310.39 168.00,310.60 168.25,310.82 168.50,311.03 168.75,311.24 169.00,311.44 169.25,311.64 169.50,311.82 169.75,312.00 170.00,312.15 170.25,312.29 170.50,312.41 170.75,312.50 171.00,312.57 171.25,312.60 171.50,312.60 171.75,312.57 172.00,312.53 172.25,312.47 172.50,312.38 172.75,312.26 173.00,312.11 173.25,311.94 173.50,311.74 173.75,311.55 174.00,311.37 174.25,311.25 174.50,311.20 174.75,311.24 175.00,311.37 175.25,311.54 175.50,311.73 175.75,311.92 176.00,312.10 176.25,312.24 176.50,312.36 176.75,312.45 177.00,312.51 177.25,312.55 177.50,312.58 177.75,312.59 178.00,312.60 178.25,312.60 178.50,312.59 178.75,312.57 179.00,312.54 179.25,312.51 179.50,312.47 179.75,312.43 180.00,312.37 180.25,312.32 180.50,312.26 180.75,312.19 181.00,312.12 181.25,312.05 181.50,311.97 181.75,311.89 182.00,311.80 182.25,311.71 182.50,311.62 182.75,311.53 183.00,311.44 183.25,311.34 183.50,311.23 183.75,311.09 184.00,310.92 184.25,310.73 184.50,310.52 184.75,310.30 185.00,310.07 185.25,309.83 185.50,309.58 185.75,309.32 186.00,309.04 186.25,308.75 186.50,308.42 186.75,308.05 187.00,307.62 187.25,307.10 187.50,306.46 187.75,305.71 188.00,304.85 188.25,303.92 188.50,302.95 188.75,302.02 189.00,301.20 189.25,300.60 189.50,300.31 189.75,300.40 190.00,300.86 190.25,301.61 190.50,302.56 190.75,303.61 191.00,304.66 191.25,305.67 191.50,306.59 191.75,307.40 192.00,308.09 192.25,308.66 192.50,309.13 192.75,309.50 193.00,309.79 193.25,310.04 193.50,310.25 193.75,310.44 194.00,310.60 194.25,310.76 194.50,310.90 194.75,311.04 195.00,311.18 195.25,311.31 195.50,311.43 195.75,311.54 196.00,311.65 196.25,311.75 196.50,311.84 196.75,311.92 197.00,311.99 197.25,312.05 197.50,312.12 197.75,312.18 198.00,312.24 198.25,312.30 198.50,312.36 198.75,312.41 199.00,312.46 199.25,312.50 199.50,312.54 199.75,312.57 200.00,312.59 200.25,312.60 200.50,312.60 200.75,312.57 201.00,312.51 201.25,312.40 201.50,312.26 201.75,312.10 202.00,311.92 202.25,311.72 202.50,311.52 202.75,311.31 203.00,311.10 203.25,310.91 203.50,310.72 203.75,310.54 204.00,310.38 204.25,310.24 204.50,310.10 204.75,309.95 205.00,309.76 205.25,309.49 205.50,309.12 205.75,308.63 206.00,308.04 206.25,307.39 206.50,306.79 206.75,306.37 207.00,306.30 207.25,306.65 207.50,307.33 207.75,308.19 208.00,309.06 208.25,309.84 208.50,310.46 208.75,310.92 209.00,311.23 209.25,311.42 209.50,311.53 209.75,311.58 210.00,311.59 210.25,311.57 210.50,311.53 210.75,311.49 211.00,311.43 211.25,311.37 211.50,311.31 211.75,311.23 212.00,311.16 212.25,311.08 212.50,310.99 212.75,310.90 213.00,310.80 213.25,310.67 213.50,310.50 213.75,310.28 214.00,309.97 214.25,309.56 214.50,308.98 214.75,308.19 215.00,307.14 215.25,305.76 215.50,304.01 215.75,301.87 216.00,299.35 216.25,296.52 216.50,293.51 216.75,290.51 217.00,287.81 217.25,285.76 217.50,284.69 217.75,284.83 218.00,286.15 218.25,288.39 218.50,291.21 218.75,294.26 219.00,297.29 219.25,300.09 219.50,302.57 219.75,304.67 220.00,306.37 220.25,307.71 220.50,308.74 220.75,309.52 221.00,310.13 221.25,310.60 221.50,310.98 221.75,311.30 222.00,311.56 222.25,311.77 222.50,311.94 222.75,312.07 223.00,312.15 223.25,312.21 223.50,312.27 223.75,312.32 224.00,312.37 224.25,312.41 224.50,312.44 224.75,312.47 225.00,312.50 225.25,312.52 225.50,312.54 225.75,312.56 226.00,312.57 226.25,312.59 226.50,312.59 226.75,312.60 227.00,312.60 227.25,312.60 227.50,312.60"/>
<polyline fill="none" stroke="#f69c4a" stroke-width="1.05" stroke-linejoin="round" points="53.00,280.50 53.25,280.51 53.50,280.52 53.75,280.53 54.00,280.53 54.25,280.54 54.50,280.55 54.75,280.55 55.00,280.56 55.25,280.56 55.50,280.56 55.75,280.57 56.00,280.57 56.25,280.57 56.50,280.57 56.75,280.57 57.00,280.57 57.25,280.56 57.50,280.56 57.75,280.55 58.00,280.54 58.25,280.53 58.50,280.51 58.75,280.48 59.00,280.44 59.25,280.38 59.50,280.27 59.75,280.11 60.00,279.86 60.25,279.52 60.50,279.12 60.75,278.71 61.00,278.40 61.25,278.30 61.50,278.46 61.75,278.78 62.00,279.14 62.25,279.44 62.50,279.63 62.75,279.68 63.00,279.59 63.25,279.36 63.50,279.02 63.75,278.59 64.00,278.16 64.25,277.82 64.50,277.70 64.75,277.85 65.00,278.22 65.25,278.69 65.50,279.16 65.75,279.57 66.00,279.89 66.25,280.12 66.50,280.27 66.75,280.37 67.00,280.43 67.25,280.47 67.50,280.49 67.75,280.51 68.00,280.51 68.25,280.51 68.50,280.51 68.75,280.50 69.00,280.48 69.25,280.44 69.50,280.40 69.75,280.35 70.00,280.28 70.25,280.21 70.50,280.13 70.75,280.04 71.00,279.94 71.25,279.81 71.50,279.65 71.75,279.42 72.00,279.04 72.25,278.43 72.50,277.42 72.75,275.88 73.00,273.66 73.25,270.78 73.50,267.43 73.75,264.12 74.00,261.69 74.25,261.04 74.50,262.50 74.75,265.40 75.00,268.81 75.25,272.02 75.50,274.65 75.75,276.59 76.00,277.90 76.25,278.73 76.50,279.24 76.75,279.55 77.00,279.78 77.25,279.95 77.50,280.10 77.75,280.24 78.00,280.37 78.25,280.48 78.50,280.58 78.75,280.67 79.00,280.73 79.25,280.77 79.50,280.80 79.75,280.82 80.00,280.84 80.25,280.85 80.50,280.87 80.75,280.88 81.00,280.89 81.25,280.90 81.50,280.90 81.75,280.91 82.00,280.91 82.25,280.92 82.50,280.92 82.75,280.93 83.00,280.93 83.25,280.93 83.50,280.93 83.75,280.93 84.00,280.93 84.25,280.93 84.50,280.93 84.75,280.93 85.00,280.93 85.25,280.93 85.50,280.93 85.75,280.93 86.00,280.93 86.25,280.93 86.50,280.92 86.75,280.92 87.00,280.92 87.25,280.92 87.50,280.91 87.75,280.91 88.00,280.91 88.25,280.91 88.50,280.90 88.75,280.90 89.00,280.90 89.25,280.89 89.50,280.89 89.75,280.89 90.00,280.88 90.25,280.88 90.50,280.88 90.75,280.87 91.00,280.87 91.25,280.87 91.50,280.86 91.75,280.86 92.00,280.85 92.25,280.85 92.50,280.85 92.75,280.84 93.00,280.84 93.25,280.84 93.50,280.83 93.75,280.83 94.00,280.82 94.25,280.82 94.50,280.81 94.75,280.80 95.00,280.79 95.25,280.78 95.50,280.77 95.75,280.75 96.00,280.73 96.25,280.70 96.50,280.67 96.75,280.63 97.00,280.58 97.25,280.53 97.50,280.46 97.75,280.39 98.00,280.30 98.25,280.22 98.50,280.12 98.75,280.03 99.00,279.94 99.25,279.87 99.50,279.80 99.75,279.77 100.00,279.75 100.25,279.77 100.50,279.82 100.75,279.88 101.00,279.97 101.25,280.06 101.50,280.16 101.75,280.26 102.00,280.35 102.25,280.44 102.50,280.52 102.75,280.59 103.00,280.65 103.25,280.70 103.50,280.74 103.75,280.78 104.00,280.80 104.25,280.82 104.50,280.84 104.75,280.85 105.00,280.86 105.25,280.87 105.50,280.87 105.75,280.87 106.00,280.87 106.25,280.87 106.50,280.87 106.75,280.86 107.00,280.85 107.25,280.84 107.50,280.82 107.75,280.79 108.00,280.75 108.25,280.70 108.50,280.62 108.75,280.49 109.00,280.28 109.25,279.95 109.50,279.42 109.75,278.64 110.00,277.57 110.25,276.22 110.50,274.70 110.75,273.24 111.00,272.19 111.25,271.92 111.50,272.54 111.75,273.81 112.00,275.33 112.25,276.80 112.50,278.05 112.75,279.01 113.00,279.69 113.25,280.13 113.50,280.41 113.75,280.59 114.00,280.70 114.25,280.77 114.50,280.81 114.75,280.83 115.00,280.82 115.25,280.80 115.50,280.76 115.75,280.72 116.00,280.66 116.25,280.61 116.50,280.56 116.75,280.51 117.00,280.46 117.25,280.41 117.50,280.34 117.75,280.26 118.00,280.16 118.25,280.03 118.50,279.87 118.75,279.67 119.00,279.43 119.25,279.15 119.50,278.86 119.75,278.59 120.00,278.38 120.25,278.29 120.50,278.33 120.75,278.47 121.00,278.66 121.25,278.86 121.50,279.03 121.75,279.17 122.00,279.27 122.25,279.34 122.50,279.38 122.75,279.40 123.00,279.40 123.25,279.39 123.50,279.35 123.75,279.29 124.00,279.18 124.25,279.02 124.50,278.77 124.75,278.44 125.00,278.03 125.25,277.57 125.50,277.15 125.75,276.86 126.00,276.81 126.25,277.00 126.50,277.34 126.75,277.71 127.00,278.02 127.25,278.19 127.50,278.20 127.75,277.99 128.00,277.51 128.25,276.73 128.50,275.62 128.75,274.18 129.00,272.48 129.25,270.69 129.50,269.07 129.75,267.97 130.00,267.70 130.25,268.25 130.50,269.31 130.75,270.48 131.00,271.45 131.25,272.05 131.50,272.24 131.75,272.12 132.00,271.88 132.25,271.79 132.50,272.06 132.75,272.77 133.00,273.80 133.25,275.00 133.50,276.19 133.75,277.28 134.00,278.20 134.25,278.94 134.50,279.49 134.75,279.89 135.00,280.18 135.25,280.37 135.50,280.50 135.75,280.59 136.00,280.66 136.25,280.71 136.50,280.75 136.75,280.78 137.00,280.80 137.25,280.82 137.50,280.84 137.75,280.86 138.00,280.87 138.25,280.88 138.50,280.88 138.75,280.89 139.00,280.89 139.25,280.89 139.50,280.89 139.75,280.88 140.00,280.88 140.25,280.87 140.50,280.87 140.75,280.86 141.00,280.85 141.25,280.84 141.50,280.83 141.75,280.81 142.00,280.80 142.25,280.78 142.50,280.77 142.75,280.75 143.00,280.73 143.25,280.71 143.50,280.69 143.75,280.67 144.00,280.64 144.25,280.61 144.50,280.59 144.75,280.56 145.00,280.53 145.25,280.49 145.50,280.44 145.75,280.37 146.00,280.28 146.25,280.17 146.50,280.05 146.75,279.91 147.00,279.76 147.25,279.60 147.50,279.44 147.75,279.27 148.00,279.09 148.25,278.91 148.50,278.73 148.75,278.55 149.00,278.36 149.25,278.18 149.50,277.98 149.75,277.78 150.00,277.56 150.25,277.30 150.50,276.98 150.75,276.55 151.00,275.98 151.25,275.22 151.50,274.22 151.75,272.94 152.00,271.32 152.25,269.35 152.50,267.02 152.75,264.39 153.00,261.53 153.25,258.59 153.50,255.78 153.75,253.36 154.00,251.65 154.25,250.91 154.50,251.30 154.75,252.73 155.00,254.99 155.25,257.76 155.50,260.76 155.75,263.74 156.00,266.54 156.25,269.05 156.50,271.22 156.75,273.01 157.00,274.45 157.25,275.58 157.50,276.42 157.75,277.03 158.00,277.46 158.25,277.73 158.50,277.87 158.75,277.88 159.00,277.74 159.25,277.41 159.50,276.88 159.75,276.09 160.00,275.00 160.25,273.60 160.50,271.88 160.75,269.91 161.00,267.80 161.25,265.73 161.50,263.98 161.75,262.86 162.00,262.61 162.25,263.26 162.50,264.60 162.75,266.33 163.00,268.18 163.25,269.94 163.50,271.49 163.75,272.76 164.00,273.76 164.25,274.50 164.50,275.03 164.75,275.40 165.00,275.67 165.25,275.88 165.50,276.06 165.75,276.23 166.00,276.41 166.25,276.59 166.50,276.79 166.75,276.99 167.00,277.21 167.25,277.44 167.50,277.68 167.75,277.93 168.00,278.17 168.25,278.42 168.50,278.67 168.75,278.91 169.00,279.15 169.25,279.37 169.50,279.59 169.75,279.79 170.00,279.97 170.25,280.13 170.50,280.26 170.75,280.37 171.00,280.45 171.25,280.50 171.50,280.50 171.75,280.48 172.00,280.44 172.25,280.38 172.50,280.30 172.75,280.19 173.00,280.05 173.25,279.89 173.50,279.71 173.75,279.52 174.00,279.36 174.25,279.24 174.50,279.20 174.75,279.24 175.00,279.36 175.25,279.52 175.50,279.70 175.75,279.88 176.00,280.04 176.25,280.17 176.50,280.28 176.75,280.36 177.00,280.42 177.25,280.46 177.50,280.48 177.75,280.49 178.00,280.50 178.25,280.50 178.50,280.48 178.75,280.46 179.00,280.43 179.25,280.39 179.50,280.34 179.75,280.29 180.00,280.23 180.25,280.17 180.50,280.09 180.75,280.02 181.00,279.94 181.25,279.85 181.50,279.76 181.75,279.67 182.00,279.57 182.25,279.47 182.50,279.36 182.75,279.25 183.00,279.14 183.25,279.03 183.50,278.91 183.75,278.74 184.00,278.55 184.25,278.33 184.50,278.09 184.75,277.84 185.00,277.57 185.25,277.29 185.50,277.00 185.75,276.70 186.00,276.38 186.25,276.03 186.50,275.64 186.75,275.20 187.00,274.70 187.25,274.08 187.50,273.32 187.75,272.43 188.00,271.41 188.25,270.31 188.50,269.16 188.75,268.04 189.00,267.07 189.25,266.35 189.50,266.01 189.75,266.12 190.00,266.66 190.25,267.55 190.50,268.67 190.75,269.91 191.00,271.17 191.25,272.36 191.50,273.45 191.75,274.41 192.00,275.23 192.25,275.90 192.50,276.45 192.75,276.88 193.00,277.23 193.25,277.53 193.50,277.77 193.75,277.99 194.00,278.18 194.25,278.36 194.50,278.53 194.75,278.69 195.00,278.85 195.25,279.00 195.50,279.14 195.75,279.27 196.00,279.40 196.25,279.51 196.50,279.62 196.75,279.71 197.00,279.79 197.25,279.86 197.50,279.94 197.75,280.01 198.00,280.08 198.25,280.15 198.50,280.22 198.75,280.28 199.00,280.34 199.25,280.38 199.50,280.43 199.75,280.46 200.00,280.48 200.25,280.50 200.50,280.50 200.75,280.47 201.00,280.39 201.25,280.27 201.50,280.11 201.75,279.92 202.00,279.70 202.25,279.47 202.50,279.23 202.75,278.99 203.00,278.74 203.25,278.51 203.50,278.29 203.75,278.09 204.00,277.90 204.25,277.74 204.50,277.58 204.75,277.42 205.00,277.21 205.25,276.92 205.50,276.53 205.75,276.00 206.00,275.36 206.25,274.67 206.50,274.02 206.75,273.57 207.00,273.50 207.25,273.88 207.50,274.63 207.75,275.57 208.00,276.51 208.25,277.36 208.50,278.04 208.75,278.53 209.00,278.87 209.25,279.08 209.50,279.20 209.75,279.25 210.00,279.27 210.25,279.25 210.50,279.21 210.75,279.17 211.00,279.11 211.25,279.05 211.50,278.97 211.75,278.90 212.00,278.81 212.25,278.72 212.50,278.63 212.75,278.52 213.00,278.40 213.25,278.25 213.50,278.05 213.75,277.79 214.00,277.44 214.25,276.96 214.50,276.29 214.75,275.37 215.00,274.14 215.25,272.53 215.50,270.50 215.75,268.00 216.00,265.07 216.25,261.78 216.50,258.27 216.75,254.78 217.00,251.64 217.25,249.25 217.50,248.01 217.75,248.17 218.00,249.70 218.25,252.32 218.50,255.60 218.75,259.15 219.00,262.67 219.25,265.94 219.50,268.82 219.75,271.26 220.00,273.25 220.25,274.81 220.50,276.01 220.75,276.92 221.00,277.62 221.25,278.17 221.50,278.62 221.75,278.98 222.00,279.29 222.25,279.53 222.50,279.73 222.75,279.88 223.00,279.97 223.25,280.05 223.50,280.12 223.75,280.18 224.00,280.23 224.25,280.27 224.50,280.31 224.75,280.35 225.00,280.38 225.25,280.41 225.50,280.43 225.75,280.45 226.00,280.47 226.25,280.48 226.50,280.49 226.75,280.50 227.00,280.50 227.25,280.50 227.50,280.50"/>
<polyline fill="none" stroke="#4646a6" stroke-width="1.05" stroke-linejoin="round" points="303.20,384.30 303.45,384.30 303.70,384.31 303.95,384.31 304.20,384.32 304.45,384.32 304.70,384.32 304.95,384.33 305.20,384.33 305.45,384.34 305.70,384.34 305.95,384.34 306.20,384.34 306.45,384.35 306.70,384.35 306.95,384.35 307.20,384.35 307.45,384.35 307.70,384.35 307.95,384.34 308.20,384.34 308.45,384.33 308.70,384.31 308.95,384.28 309.20,384.24 309.45,384.16 309.70,384.03 309.95,383.80 310.20,383.46 310.45,383.00 310.70,382.44 310.95,381.87 311.20,381.43 311.45,381.31 311.70,381.55 311.95,382.04 312.20,382.59 312.45,383.05 312.70,383.35 312.95,383.46 313.20,383.37 313.45,383.10 313.70,382.67 313.95,382.14 314.20,381.59 314.45,381.16 314.70,381.00 314.95,381.18 315.20,381.62 315.45,382.20 315.70,382.76 315.95,383.26 316.20,383.64 316.45,383.91 316.70,384.09 316.95,384.20 317.20,384.26 317.45,384.30 317.70,384.32 317.95,384.32 318.20,384.33 318.45,384.32 318.70,384.31 318.95,384.30 319.20,384.27 319.45,384.23 319.70,384.18 319.95,384.12 320.20,384.05 320.45,383.97 320.70,383.88 320.95,383.78 321.20,383.67 321.45,383.53 321.70,383.34 321.95,383.08 322.20,382.66 322.45,381.96 322.70,380.83 322.95,379.09 323.20,376.59 323.45,373.34 323.70,369.56 323.95,365.82 324.20,363.07 324.45,362.35 324.70,363.99 324.95,367.27 325.20,371.11 325.45,374.73 325.70,377.70 325.95,379.89 326.20,381.37 326.45,382.31 326.70,382.88 326.95,383.24 327.20,383.49 327.45,383.68 327.70,383.85 327.95,384.01 328.20,384.15 328.45,384.28 328.70,384.39 328.95,384.49 329.20,384.56 329.45,384.61 329.70,384.64 329.95,384.66 330.20,384.68 330.45,384.70 330.70,384.71 330.95,384.72 331.20,384.74 331.45,384.75 331.70,384.75 331.95,384.76 332.20,384.77 332.45,384.77 332.70,384.78 332.95,384.78 333.20,384.78 333.45,384.79 333.70,384.79 333.95,384.79 334.20,384.79 334.45,384.79 334.70,384.79 334.95,384.79 335.20,384.79 335.45,384.79 335.70,384.79 335.95,384.78 336.20,384.78 336.45,384.78 336.70,384.78 336.95,384.78 337.20,384.77 337.45,384.77 337.70,384.77 337.95,384.76 338.20,384.76 338.45,384.76 338.70,384.75 338.95,384.75 339.20,384.75 339.45,384.74 339.70,384.74 339.95,384.74 340.20,384.73 340.45,384.73 340.70,384.72 340.95,384.72 341.20,384.72 341.45,384.71 341.70,384.71 341.95,384.70 342.20,384.70 342.45,384.70 342.70,384.69 342.95,384.69 343.20,384.68 343.45,384.68 343.70,384.67 343.95,384.67 344.20,384.66 344.45,384.66 344.70,384.65 344.95,384.64 345.20,384.63 345.45,384.62 345.70,384.60 345.95,384.58 346.20,384.56 346.45,384.53 346.70,384.49 346.95,384.45 347.20,384.39 347.45,384.33 347.70,384.26 347.95,384.17 348.20,384.08 348.45,383.98 348.70,383.88 348.95,383.77 349.20,383.67 349.45,383.59 349.70,383.52 349.95,383.47 350.20,383.46 350.45,383.48 350.70,383.53 350.95,383.61 351.20,383.70 351.45,383.81 351.70,383.92 351.95,384.03 352.20,384.13 352.45,384.23 352.70,384.32 352.95,384.40 353.20,384.47 353.45,384.52 353.70,384.57 353.95,384.61 354.20,384.64 354.45,384.67 354.70,384.69 354.95,384.70 355.20,384.71 355.45,384.72 355.70,384.72 355.95,384.72 356.20,384.72 356.45,384.72 356.70,384.71 356.95,384.70 357.20,384.69 357.45,384.68 357.70,384.66 357.95,384.63 358.20,384.58 358.45,384.52 358.70,384.44 358.95,384.29 359.20,384.07 359.45,383.70 359.70,383.12 359.95,382.27 360.20,381.10 360.45,379.63 360.70,377.97 360.95,376.37 361.20,375.22 361.45,374.92 361.70,375.60 361.95,376.99 362.20,378.66 362.45,380.27 362.70,381.63 362.95,382.68 363.20,383.42 363.45,383.91 363.70,384.21 363.95,384.40 364.20,384.52 364.45,384.60 364.70,384.65 364.95,384.67 365.20,384.66 365.45,384.63 365.70,384.59 365.95,384.54 366.20,384.48 366.45,384.42 366.70,384.36 366.95,384.31 367.20,384.26 367.45,384.20 367.70,384.12 367.95,384.04 368.20,383.93 368.45,383.80 368.70,383.63 368.95,383.42 369.20,383.17 369.45,382.88 369.70,382.58 369.95,382.30 370.20,382.09 370.45,381.99 370.70,382.03 370.95,382.16 371.20,382.34 371.45,382.54 371.70,382.71 371.95,382.84 372.20,382.94 372.45,383.00 372.70,383.04 372.95,383.06 373.20,383.06 373.45,383.04 373.70,383.00 373.95,382.93 374.20,382.81 374.45,382.63 374.70,382.36 374.95,382.00 375.20,381.55 375.45,381.05 375.70,380.59 375.95,380.27 376.20,380.21 376.45,380.42 376.70,380.79 376.95,381.19 377.20,381.52 377.45,381.70 377.70,381.68 377.95,381.41 378.20,380.82 378.45,379.88 378.70,378.53 378.95,376.79 379.20,374.75 379.45,372.59 379.70,370.64 379.95,369.33 380.20,369.00 380.45,369.67 380.70,370.96 380.95,372.40 381.20,373.59 381.45,374.34 381.70,374.61 381.95,374.51 382.20,374.26 382.45,374.17 382.70,374.49 382.95,375.31 383.20,376.52 383.45,377.91 383.70,379.30 383.95,380.56 384.20,381.63 384.45,382.48 384.70,383.13 384.95,383.60 385.20,383.92 385.45,384.15 385.70,384.30 385.95,384.41 386.20,384.48 386.45,384.54 386.70,384.59 386.95,384.62 387.20,384.65 387.45,384.68 387.70,384.70 387.95,384.72 388.20,384.73 388.45,384.74 388.70,384.75 388.95,384.75 389.20,384.75 389.45,384.75 389.70,384.75 389.95,384.75 390.20,384.74 390.45,384.74 390.70,384.73 390.95,384.72 391.20,384.71 391.45,384.70 391.70,384.68 391.95,384.67 392.20,384.65 392.45,384.63 392.70,384.61 392.95,384.59 393.20,384.57 393.45,384.55 393.70,384.52 393.95,384.49 394.20,384.46 394.45,384.43 394.70,384.40 394.95,384.37 395.20,384.33 395.45,384.29 395.70,384.23 395.95,384.16 396.20,384.05 396.45,383.94 396.70,383.80 396.95,383.65 397.20,383.49 397.45,383.31 397.70,383.13 397.95,382.94 398.20,382.75 398.45,382.55 398.70,382.35 398.95,382.15 399.20,381.94 399.45,381.73 399.70,381.51 399.95,381.27 400.20,381.01 400.45,380.70 400.70,380.31 400.95,379.80 401.20,379.11 401.45,378.20 401.70,377.00 401.95,375.44 402.20,373.50 402.45,371.12 402.70,368.32 402.95,365.15 403.20,361.71 403.45,358.17 403.70,354.79 403.95,351.87 404.20,349.81 404.45,348.92 404.70,349.37 404.95,351.10 405.20,353.81 405.45,357.14 405.70,360.74 405.95,364.32 406.20,367.69 406.45,370.71 406.70,373.31 406.95,375.47 407.20,377.20 407.45,378.55 407.70,379.56 407.95,380.30 408.20,380.82 408.45,381.16 408.70,381.33 408.95,381.36 409.20,381.21 409.45,380.85 409.70,380.26 409.95,379.37 410.20,378.16 410.45,376.58 410.70,374.65 410.95,372.43 411.20,370.05 411.45,367.73 411.70,365.76 411.95,364.50 412.20,364.21 412.45,364.94 412.70,366.44 412.95,368.39 413.20,370.46 413.45,372.43 413.70,374.17 413.95,375.60 414.20,376.72 414.45,377.55 414.70,378.14 414.95,378.56 415.20,378.87 415.45,379.10 415.70,379.30 415.95,379.50 416.20,379.69 416.45,379.90 416.70,380.13 416.95,380.37 417.20,380.62 417.45,380.88 417.70,381.15 417.95,381.43 418.20,381.71 418.45,381.99 418.70,382.27 418.95,382.55 419.20,382.82 419.45,383.08 419.70,383.32 419.95,383.54 420.20,383.75 420.45,383.93 420.70,384.08 420.95,384.20 421.20,384.28 421.45,384.32 421.70,384.30 421.95,384.24 422.20,384.16 422.45,384.03 422.70,383.86 422.95,383.63 423.20,383.35 423.45,383.01 423.70,382.64 423.95,382.27 424.20,381.93 424.45,381.69 424.70,381.60 424.95,381.68 425.20,381.92 425.45,382.25 425.70,382.62 425.95,382.99 426.20,383.32 426.45,383.60 426.70,383.82 426.95,383.99 427.20,384.11 427.45,384.19 427.70,384.25 427.95,384.28 428.20,384.30 428.45,384.31 428.70,384.30 428.95,384.27 429.20,384.24 429.45,384.20 429.70,384.15 429.95,384.09 430.20,384.02 430.45,383.94 430.70,383.86 430.95,383.77 431.20,383.68 431.45,383.58 431.70,383.48 431.95,383.37 432.20,383.26 432.45,383.14 432.70,383.03 432.95,382.90 433.20,382.78 433.45,382.65 433.70,382.50 433.95,382.32 434.20,382.10 434.45,381.86 434.70,381.59 434.95,381.30 435.20,381.00 435.45,380.69 435.70,380.36 435.95,380.02 436.20,379.66 436.45,379.27 436.70,378.84 436.95,378.34 437.20,377.77 437.45,377.06 437.70,376.20 437.95,375.19 438.20,374.04 438.45,372.78 438.70,371.48 438.95,370.22 439.20,369.11 439.45,368.30 439.70,367.92 439.95,368.03 440.20,368.64 440.45,369.65 440.70,370.93 440.95,372.33 441.20,373.75 441.45,375.11 441.70,376.34 441.95,377.43 442.20,378.35 442.45,379.12 442.70,379.74 442.95,380.23 443.20,380.63 443.45,380.95 443.70,381.23 443.95,381.48 444.20,381.70 444.45,381.90 444.70,382.09 444.95,382.27 445.20,382.44 445.45,382.61 445.70,382.77 445.95,382.92 446.20,383.06 446.45,383.19 446.70,383.30 446.95,383.41 447.20,383.50 447.45,383.58 447.70,383.67 447.95,383.75 448.20,383.83 448.45,383.91 448.70,383.99 448.95,384.05 449.20,384.12 449.45,384.17 449.70,384.22 449.95,384.25 450.20,384.28 450.45,384.30 450.70,384.30 450.95,384.27 451.20,384.18 451.45,384.04 451.70,383.86 451.95,383.65 452.20,383.41 452.45,383.16 452.70,382.89 452.95,382.62 453.20,382.35 453.45,382.09 453.70,381.84 453.95,381.61 454.20,381.40 454.45,381.21 454.70,381.02 454.95,380.82 455.20,380.56 455.45,380.20 455.70,379.70 455.95,379.04 456.20,378.25 456.45,377.37 456.70,376.56 456.95,376.00 457.20,375.90 457.45,376.36 457.70,377.28 457.95,378.43 458.20,379.60 458.45,380.64 458.70,381.49 458.95,382.10 459.20,382.51 459.45,382.77 459.70,382.92 459.95,382.98 460.20,382.99 460.45,382.97 460.70,382.92 460.95,382.86 461.20,382.79 461.45,382.70 461.70,382.61 461.95,382.52 462.20,382.41 462.45,382.31 462.70,382.19 462.95,382.07 463.20,381.94 463.45,381.77 463.70,381.55 463.95,381.26 464.20,380.86 464.45,380.31 464.70,379.56 464.95,378.53 465.20,377.14 465.45,375.33 465.70,373.04 465.95,370.23 466.20,366.93 466.45,363.23 466.70,359.28 466.95,355.35 467.20,351.81 467.45,349.12 467.70,347.72 467.95,347.90 468.20,349.63 468.45,352.57 468.70,356.26 468.95,360.27 469.20,364.23 469.45,367.91 469.70,371.15 469.95,373.90 470.20,376.14 470.45,377.90 470.70,379.25 470.95,380.27 471.20,381.06 471.45,381.68 471.70,382.18 471.95,382.59 472.20,382.93 472.45,383.21 472.70,383.44 472.95,383.60 473.20,383.71 473.45,383.79 473.70,383.87 473.95,383.94 474.20,383.99 474.45,384.05 474.70,384.09 474.95,384.13 475.20,384.17 475.45,384.20 475.70,384.22 475.95,384.25 476.20,384.27 476.45,384.28 476.70,384.29 476.95,384.30 477.20,384.30 477.45,384.30 477.70,384.30"/>
<polyline fill="none" stroke="#4ea64e" stroke-width="1.05" stroke-linejoin="round" points="303.20,342.80 303.45,342.81 303.70,342.82 303.95,342.83 304.20,342.84 304.45,342.85 304.70,342.85 304.95,342.86 305.20,342.86 305.45,342.86 305.70,342.87 305.95,342.87 306.20,342.87 306.45,342.87 306.70,342.86 306.95,342.86 307.20,342.86 307.45,342.85 307.70,342.85 307.95,342.84 308.20,342.83 308.45,342.82 308.70,342.81 308.95,342.79 309.20,342.74 309.45,342.68 309.70,342.57 309.95,342.41 310.20,342.18 310.45,341.89 310.70,341.54 310.95,341.19 311.20,340.91 311.45,340.79 311.70,340.88 311.95,341.11 312.20,341.37 312.45,341.59 312.70,341.74 312.95,341.78 313.20,341.72 313.45,341.56 313.70,341.32 313.95,341.01 314.20,340.70 314.45,340.47 314.70,340.40 314.95,340.54 315.20,340.84 315.45,341.22 315.70,341.60 315.95,341.94 316.20,342.20 316.45,342.40 316.70,342.54 316.95,342.64 317.20,342.70 317.45,342.75 317.70,342.78 317.95,342.80 318.20,342.81 318.45,342.82 318.70,342.81 318.95,342.80 319.20,342.77 319.45,342.73 319.70,342.67 319.95,342.61 320.20,342.53 320.45,342.45 320.70,342.36 320.95,342.25 321.20,342.13 321.45,341.98 321.70,341.79 321.95,341.51 322.20,341.06 322.45,340.33 322.70,339.15 322.95,337.31 323.20,334.69 323.45,331.28 323.70,327.32 323.95,323.40 324.20,320.51 324.45,319.75 324.70,321.47 324.95,324.91 325.20,328.95 325.45,332.74 325.70,335.86 325.95,338.15 326.20,339.71 326.45,340.70 326.70,341.30 326.95,341.67 327.20,341.93 327.45,342.14 327.70,342.32 327.95,342.49 328.20,342.64 328.45,342.78 328.70,342.90 328.95,343.00 329.20,343.08 329.45,343.13 329.70,343.16 329.95,343.18 330.20,343.20 330.45,343.22 330.70,343.23 330.95,343.25 331.20,343.26 331.45,343.27 331.70,343.28 331.95,343.29 332.20,343.29 332.45,343.30 332.70,343.30 332.95,343.31 333.20,343.31 333.45,343.31 333.70,343.31 333.95,343.32 334.20,343.32 334.45,343.32 334.70,343.32 334.95,343.32 335.20,343.32 335.45,343.31 335.70,343.31 335.95,343.31 336.20,343.31 336.45,343.31 336.70,343.30 336.95,343.30 337.20,343.30 337.45,343.30 337.70,343.29 337.95,343.29 338.20,343.29 338.45,343.28 338.70,343.28 338.95,343.28 339.20,343.27 339.45,343.27 339.70,343.26 339.95,343.26 340.20,343.26 340.45,343.25 340.70,343.25 340.95,343.24 341.20,343.24 341.45,343.24 341.70,343.23 341.95,343.23 342.20,343.22 342.45,343.22 342.70,343.21 342.95,343.21 343.20,343.20 343.45,343.20 343.70,343.19 343.95,343.19 344.20,343.18 344.45,343.18 344.70,343.17 344.95,343.16 345.20,343.15 345.45,343.14 345.70,343.12 345.95,343.10 346.20,343.07 346.45,343.04 346.70,343.00 346.95,342.96 347.20,342.90 347.45,342.83 347.70,342.75 347.95,342.66 348.20,342.57 348.45,342.46 348.70,342.35 348.95,342.24 349.20,342.14 349.45,342.04 349.70,341.97 349.95,341.92 350.20,341.91 350.45,341.93 350.70,341.98 350.95,342.06 351.20,342.16 351.45,342.28 351.70,342.39 351.95,342.51 352.20,342.62 352.45,342.72 352.70,342.82 352.95,342.90 353.20,342.97 353.45,343.04 353.70,343.09 353.95,343.13 354.20,343.16 354.45,343.19 354.70,343.21 354.95,343.22 355.20,343.23 355.45,343.24 355.70,343.25 355.95,343.25 356.20,343.24 356.45,343.24 356.70,343.24 356.95,343.23 357.20,343.22 357.45,343.20 357.70,343.18 357.95,343.15 358.20,343.10 358.45,343.04 358.70,342.94 358.95,342.79 359.20,342.54 359.45,342.14 359.70,341.52 359.95,340.59 360.20,339.32 360.45,337.72 360.70,335.93 360.95,334.19 361.20,332.95 361.45,332.62 361.70,333.36 361.95,334.87 362.20,336.67 362.45,338.42 362.70,339.90 362.95,341.03 363.20,341.83 363.45,342.36 363.70,342.70 363.95,342.90 364.20,343.03 364.45,343.12 364.70,343.17 364.95,343.19 365.20,343.18 365.45,343.15 365.70,343.11 365.95,343.06 366.20,342.99 366.45,342.93 366.70,342.87 366.95,342.81 367.20,342.76 367.45,342.69 367.70,342.62 367.95,342.54 368.20,342.44 368.45,342.32 368.70,342.17 368.95,341.99 369.20,341.78 369.45,341.54 369.70,341.29 369.95,341.06 370.20,340.88 370.45,340.79 370.70,340.80 370.95,340.88 371.20,341.00 371.45,341.13 371.70,341.25 371.95,341.34 372.20,341.40 372.45,341.44 372.70,341.47 372.95,341.47 373.20,341.47 373.45,341.44 373.70,341.40 373.95,341.33 374.20,341.22 374.45,341.04 374.70,340.78 374.95,340.43 375.20,340.00 375.45,339.52 375.70,339.08 375.95,338.77 376.20,338.71 376.45,338.89 376.70,339.23 376.95,339.60 377.20,339.89 377.45,340.04 377.70,339.98 377.95,339.67 378.20,339.03 378.45,338.02 378.70,336.59 378.95,334.74 379.20,332.57 379.45,330.29 379.70,328.22 379.95,326.84 380.20,326.51 380.45,327.24 380.70,328.65 380.95,330.21 381.20,331.53 381.45,332.39 381.70,332.75 381.95,332.71 382.20,332.51 382.45,332.45 382.70,332.80 382.95,333.65 383.20,334.89 383.45,336.30 383.70,337.71 383.95,338.99 384.20,340.08 384.45,340.95 384.70,341.61 384.95,342.08 385.20,342.42 385.45,342.65 385.70,342.80 385.95,342.91 386.20,342.99 386.45,343.05 386.70,343.09 386.95,343.13 387.20,343.16 387.45,343.19 387.70,343.21 387.95,343.22 388.20,343.24 388.45,343.25 388.70,343.25 388.95,343.26 389.20,343.26 389.45,343.26 389.70,343.26 389.95,343.26 390.20,343.25 390.45,343.25 390.70,343.24 390.95,343.23 391.20,343.22 391.45,343.20 391.70,343.19 391.95,343.18 392.20,343.16 392.45,343.14 392.70,343.12 392.95,343.10 393.20,343.08 393.45,343.05 393.70,343.03 393.95,343.00 394.20,342.97 394.45,342.94 394.70,342.90 394.95,342.87 395.20,342.83 395.45,342.79 395.70,342.73 395.95,342.65 396.20,342.54 396.45,342.42 396.70,342.27 396.95,342.11 397.20,341.94 397.45,341.75 397.70,341.56 397.95,341.36 398.20,341.15 398.45,340.94 398.70,340.73 398.95,340.51 399.20,340.29 399.45,340.07 399.70,339.84 399.95,339.59 400.20,339.31 400.45,338.98 400.70,338.58 400.95,338.04 401.20,337.32 401.45,336.36 401.70,335.10 401.95,333.47 402.20,331.42 402.45,328.93 402.70,325.99 402.95,322.66 403.20,319.05 403.45,315.33 403.70,311.78 403.95,308.72 404.20,306.55 404.45,305.62 404.70,306.10 404.95,307.91 405.20,310.76 405.45,314.26 405.70,318.04 405.95,321.80 406.20,325.34 406.45,328.51 406.70,331.24 406.95,333.51 407.20,335.33 407.45,336.74 407.70,337.81 407.95,338.59 408.20,339.13 408.45,339.48 408.70,339.66 408.95,339.68 409.20,339.51 409.45,339.13 409.70,338.48 409.95,337.53 410.20,336.22 410.45,334.52 410.70,332.44 410.95,330.06 411.20,327.50 411.45,324.99 411.70,322.87 411.95,321.52 412.20,321.21 412.45,322.00 412.70,323.62 412.95,325.72 413.20,327.96 413.45,330.09 413.70,331.96 413.95,333.51 414.20,334.71 414.45,335.61 414.70,336.26 414.95,336.71 415.20,337.04 415.45,337.29 415.70,337.51 415.95,337.71 416.20,337.92 416.45,338.14 416.70,338.38 416.95,338.63 417.20,338.89 417.45,339.17 417.70,339.45 417.95,339.75 418.20,340.04 418.45,340.34 418.70,340.63 418.95,340.92 419.20,341.20 419.45,341.47 419.70,341.73 419.95,341.97 420.20,342.18 420.45,342.37 420.70,342.54 420.95,342.66 421.20,342.76 421.45,342.80 421.70,342.80 421.95,342.76 422.20,342.70 422.45,342.61 422.70,342.48 422.95,342.31 423.20,342.10 423.45,341.85 423.70,341.58 423.95,341.30 424.20,341.05 424.45,340.87 424.70,340.80 424.95,340.86 425.20,341.04 425.45,341.29 425.70,341.56 425.95,341.84 426.20,342.08 426.45,342.29 426.70,342.45 426.95,342.58 427.20,342.67 427.45,342.73 427.70,342.77 427.95,342.79 428.20,342.80 428.45,342.80 428.70,342.79 428.95,342.76 429.20,342.72 429.45,342.68 429.70,342.62 429.95,342.56 430.20,342.49 430.45,342.41 430.70,342.32 430.95,342.23 431.20,342.13 431.45,342.03 431.70,341.92 431.95,341.81 432.20,341.69 432.45,341.57 432.70,341.45 432.95,341.32 433.20,341.18 433.45,341.05 433.70,340.90 433.95,340.70 434.20,340.46 434.45,340.19 434.70,339.90 434.95,339.59 435.20,339.26 435.45,338.93 435.70,338.58 435.95,338.21 436.20,337.83 436.45,337.42 436.70,336.97 436.95,336.47 437.20,335.89 437.45,335.18 437.70,334.32 437.95,333.30 438.20,332.15 438.45,330.89 438.70,329.58 438.95,328.31 439.20,327.21 439.45,326.40 439.70,326.01 439.95,326.14 440.20,326.76 440.45,327.78 440.70,329.07 440.95,330.49 441.20,331.92 441.45,333.29 441.70,334.54 441.95,335.64 442.20,336.58 442.45,337.35 442.70,337.98 442.95,338.49 443.20,338.89 443.45,339.23 443.70,339.52 443.95,339.78 444.20,340.01 444.45,340.23 444.70,340.43 444.95,340.63 445.20,340.81 445.45,340.99 445.70,341.16 445.95,341.33 446.20,341.48 446.45,341.62 446.70,341.74 446.95,341.85 447.20,341.95 447.45,342.04 447.70,342.13 447.95,342.22 448.20,342.31 448.45,342.39 448.70,342.47 448.95,342.54 449.20,342.61 449.45,342.66 449.70,342.71 449.95,342.75 450.20,342.78 450.45,342.80 450.70,342.80 450.95,342.76 451.20,342.67 451.45,342.52 451.70,342.33 451.95,342.11 452.20,341.86 452.45,341.59 452.70,341.30 452.95,341.02 453.20,340.73 453.45,340.45 453.70,340.19 453.95,339.95 454.20,339.73 454.45,339.52 454.70,339.32 454.95,339.11 455.20,338.84 455.45,338.46 455.70,337.93 455.95,337.23 456.20,336.39 456.45,335.46 456.70,334.60 456.95,334.00 457.20,333.90 457.45,334.39 457.70,335.37 457.95,336.58 458.20,337.82 458.45,338.93 458.70,339.82 458.95,340.47 459.20,340.90 459.45,341.18 459.70,341.33 459.95,341.40 460.20,341.41 460.45,341.39 460.70,341.34 460.95,341.27 461.20,341.19 461.45,341.11 461.70,341.01 461.95,340.91 462.20,340.80 462.45,340.69 462.70,340.57 462.95,340.44 463.20,340.29 463.45,340.11 463.70,339.88 463.95,339.57 464.20,339.15 464.45,338.57 464.70,337.77 464.95,336.68 465.20,335.21 465.45,333.30 465.70,330.87 465.95,327.89 466.20,324.39 466.45,320.46 466.70,316.27 466.95,312.11 467.20,308.36 467.45,305.51 467.70,304.03 467.95,304.22 468.20,306.05 468.45,309.17 468.70,313.08 468.95,317.32 469.20,321.52 469.45,325.42 469.70,328.87 469.95,331.78 470.20,334.15 470.45,336.01 470.70,337.44 470.95,338.52 471.20,339.36 471.45,340.02 471.70,340.56 471.95,340.99 472.20,341.35 472.45,341.65 472.70,341.88 472.95,342.06 473.20,342.17 473.45,342.26 473.70,342.34 473.95,342.41 474.20,342.48 474.45,342.53 474.70,342.58 474.95,342.62 475.20,342.66 475.45,342.69 475.70,342.72 475.95,342.74 476.20,342.76 476.45,342.78 476.70,342.79 476.95,342.80 477.20,342.80 477.45,342.80 477.70,342.80"/>
<polyline fill="none" stroke="#f24cac" stroke-width="1.05" stroke-linejoin="round" points="303.20,299.20 303.45,299.21 303.70,299.22 303.95,299.23 304.20,299.23 304.45,299.24 304.70,299.24 304.95,299.25 305.20,299.25 305.45,299.25 305.70,299.25 305.95,299.25 306.20,299.25 306.45,299.25 306.70,299.25 306.95,299.25 307.20,299.25 307.45,299.24 307.70,299.24 307.95,299.23 308.20,299.23 308.45,299.22 308.70,299.21 308.95,299.19 309.20,299.16 309.45,299.11 309.70,299.04 309.95,298.92 310.20,298.75 310.45,298.53 310.70,298.26 310.95,297.98 311.20,297.77 311.45,297.70 311.70,297.79 311.95,297.99 312.20,298.22 312.45,298.42 312.70,298.54 312.95,298.58 313.20,298.53 313.45,298.40 313.70,298.19 313.95,297.93 314.20,297.67 314.45,297.47 314.70,297.40 314.95,297.50 315.20,297.74 315.45,298.03 315.70,298.33 315.95,298.58 316.20,298.79 316.45,298.94 316.70,299.04 316.95,299.10 317.20,299.15 317.45,299.18 317.70,299.19 317.95,299.20 318.20,299.21 318.45,299.21 318.70,299.21 318.95,299.20 319.20,299.18 319.45,299.16 319.70,299.12 319.95,299.08 320.20,299.04 320.45,298.98 320.70,298.92 320.95,298.86 321.20,298.78 321.45,298.68 321.70,298.56 321.95,298.39 322.20,298.11 322.45,297.65 322.70,296.90 322.95,295.74 323.20,294.08 323.45,291.92 323.70,289.42 323.95,286.94 324.20,285.11 324.45,284.63 324.70,285.72 324.95,287.90 325.20,290.45 325.45,292.85 325.70,294.82 325.95,296.27 326.20,297.25 326.45,297.88 326.70,298.26 326.95,298.49 327.20,298.66 327.45,298.79 327.70,298.90 327.95,299.01 328.20,299.10 328.45,299.19 328.70,299.26 328.95,299.32 329.20,299.37 329.45,299.41 329.70,299.42 329.95,299.44 330.20,299.45 330.45,299.46 330.70,299.47 330.95,299.48 331.20,299.49 331.45,299.50 331.70,299.50 331.95,299.51 332.20,299.51 332.45,299.51 332.70,299.52 332.95,299.52 333.20,299.52 333.45,299.52 333.70,299.52 333.95,299.52 334.20,299.52 334.45,299.53 334.70,299.53 334.95,299.52 335.20,299.52 335.45,299.52 335.70,299.52 335.95,299.52 336.20,299.52 336.45,299.52 336.70,299.52 336.95,299.52 337.20,299.51 337.45,299.51 337.70,299.51 337.95,299.51 338.20,299.51 338.45,299.50 338.70,299.50 338.95,299.50 339.20,299.50 339.45,299.49 339.70,299.49 339.95,299.49 340.20,299.49 340.45,299.48 340.70,299.48 340.95,299.48 341.20,299.48 341.45,299.47 341.70,299.47 341.95,299.47 342.20,299.47 342.45,299.46 342.70,299.46 342.95,299.46 343.20,299.45 343.45,299.45 343.70,299.45 343.95,299.44 344.20,299.44 344.45,299.44 344.70,299.43 344.95,299.43 345.20,299.42 345.45,299.41 345.70,299.40 345.95,299.39 346.20,299.37 346.45,299.35 346.70,299.33 346.95,299.30 347.20,299.26 347.45,299.22 347.70,299.17 347.95,299.12 348.20,299.05 348.45,298.99 348.70,298.92 348.95,298.85 349.20,298.78 349.45,298.73 349.70,298.68 349.95,298.65 350.20,298.64 350.45,298.66 350.70,298.69 350.95,298.74 351.20,298.80 351.45,298.87 351.70,298.95 351.95,299.02 352.20,299.09 352.45,299.15 352.70,299.21 352.95,299.27 353.20,299.31 353.45,299.35 353.70,299.38 353.95,299.41 354.20,299.43 354.45,299.44 354.70,299.46 354.95,299.47 355.20,299.47 355.45,299.48 355.70,299.48 355.95,299.48 356.20,299.48 356.45,299.48 356.70,299.47 356.95,299.47 357.20,299.46 357.45,299.45 357.70,299.43 357.95,299.41 358.20,299.39 358.45,299.35 358.70,299.29 358.95,299.20 359.20,299.06 359.45,298.82 359.70,298.45 359.95,297.91 360.20,297.16 360.45,296.22 360.70,295.16 360.95,294.14 361.20,293.40 361.45,293.21 361.70,293.65 361.95,294.54 362.20,295.60 362.45,296.63 362.70,297.50 362.95,298.17 363.20,298.64 363.45,298.96 363.70,299.15 363.95,299.27 364.20,299.35 364.45,299.40 364.70,299.43 364.95,299.44 365.20,299.44 365.45,299.42 365.70,299.39 365.95,299.36 366.20,299.32 366.45,299.28 366.70,299.24 366.95,299.21 367.20,299.17 367.45,299.13 367.70,299.08 367.95,299.03 368.20,298.96 368.45,298.87 368.70,298.76 368.95,298.63 369.20,298.46 369.45,298.28 369.70,298.08 369.95,297.90 370.20,297.76 370.45,297.69 370.70,297.72 370.95,297.81 371.20,297.93 371.45,298.05 371.70,298.16 371.95,298.25 372.20,298.31 372.45,298.34 372.70,298.36 372.95,298.37 373.20,298.36 373.45,298.34 373.70,298.32 373.95,298.28 374.20,298.22 374.45,298.15 374.70,298.04 374.95,297.90 375.20,297.73 375.45,297.54 375.70,297.37 375.95,297.24 376.20,297.19 376.45,297.23 376.70,297.31 376.95,297.40 377.20,297.46 377.45,297.45 377.70,297.34 377.95,297.11 378.20,296.72 378.45,296.12 378.70,295.29 378.95,294.22 379.20,292.98 379.45,291.67 379.70,290.49 379.95,289.70 380.20,289.50 380.45,289.91 380.70,290.69 380.95,291.55 381.20,292.26 381.45,292.70 381.70,292.83 381.95,292.74 382.20,292.57 382.45,292.51 382.70,292.73 382.95,293.27 383.20,294.07 383.45,294.98 383.70,295.89 383.95,296.73 384.20,297.43 384.45,298.00 384.70,298.42 384.95,298.73 385.20,298.95 385.45,299.10 385.70,299.20 385.95,299.27 386.20,299.32 386.45,299.35 386.70,299.38 386.95,299.41 387.20,299.43 387.45,299.44 387.70,299.45 387.95,299.46 388.20,299.47 388.45,299.48 388.70,299.48 388.95,299.49 389.20,299.49 389.45,299.49 389.70,299.49 389.95,299.49 390.20,299.48 390.45,299.48 390.70,299.47 390.95,299.47 391.20,299.46 391.45,299.45 391.70,299.44 391.95,299.43 392.20,299.42 392.45,299.41 392.70,299.40 392.95,299.39 393.20,299.37 393.45,299.36 393.70,299.34 393.95,299.32 394.20,299.31 394.45,299.29 394.70,299.27 394.95,299.24 395.20,299.22 395.45,299.19 395.70,299.16 395.95,299.11 396.20,299.04 396.45,298.96 396.70,298.87 396.95,298.77 397.20,298.66 397.45,298.55 397.70,298.42 397.95,298.30 398.20,298.17 398.45,298.04 398.70,297.90 398.95,297.77 399.20,297.63 399.45,297.49 399.70,297.34 399.95,297.19 400.20,297.01 400.45,296.81 400.70,296.55 400.95,296.21 401.20,295.76 401.45,295.15 401.70,294.36 401.95,293.33 402.20,292.05 402.45,290.48 402.70,288.63 402.95,286.54 403.20,284.26 403.45,281.93 403.70,279.69 403.95,277.76 404.20,276.40 404.45,275.81 404.70,276.11 404.95,277.25 405.20,279.04 405.45,281.24 405.70,283.62 405.95,285.98 406.20,288.21 406.45,290.20 406.70,291.92 406.95,293.35 407.20,294.49 407.45,295.38 407.70,296.05 407.95,296.54 408.20,296.89 408.45,297.11 408.70,297.23 408.95,297.25 409.20,297.15 409.45,296.92 409.70,296.54 409.95,295.96 410.20,295.17 410.45,294.15 410.70,292.89 410.95,291.45 411.20,289.91 411.45,288.40 411.70,287.11 411.95,286.29 412.20,286.11 412.45,286.57 412.70,287.55 412.95,288.81 413.20,290.15 413.45,291.43 413.70,292.55 413.95,293.48 414.20,294.20 414.45,294.74 414.70,295.12 414.95,295.39 415.20,295.59 415.45,295.74 415.70,295.87 415.95,296.00 416.20,296.13 416.45,296.27 416.70,296.41 416.95,296.57 417.20,296.73 417.45,296.90 417.70,297.08 417.95,297.26 418.20,297.45 418.45,297.63 418.70,297.82 418.95,298.00 419.20,298.18 419.45,298.35 419.70,298.51 419.95,298.66 420.20,298.79 420.45,298.91 420.70,299.02 420.95,299.10 421.20,299.16 421.45,299.19 421.70,299.20 421.95,299.19 422.20,299.16 422.45,299.13 422.70,299.08 422.95,299.01 423.20,298.93 423.45,298.83 423.70,298.71 423.95,298.60 424.20,298.50 424.45,298.43 424.70,298.40 424.95,298.43 425.20,298.50 425.45,298.60 425.70,298.71 425.95,298.82 426.20,298.92 426.45,299.00 426.70,299.07 426.95,299.12 427.20,299.15 427.45,299.17 427.70,299.19 427.95,299.20 428.20,299.20 428.45,299.20 428.70,299.19 428.95,299.17 429.20,299.15 429.45,299.12 429.70,299.08 429.95,299.04 430.20,299.00 430.45,298.95 430.70,298.90 430.95,298.84 431.20,298.78 431.45,298.71 431.70,298.65 431.95,298.58 432.20,298.50 432.45,298.43 432.70,298.35 432.95,298.27 433.20,298.19 433.45,298.10 433.70,298.01 433.95,297.88 434.20,297.73 434.45,297.56 434.70,297.37 434.95,297.17 435.20,296.96 435.45,296.74 435.70,296.52 435.95,296.29 436.20,296.05 436.45,295.80 436.70,295.52 436.95,295.22 437.20,294.87 437.45,294.45 437.70,293.94 437.95,293.33 438.20,292.65 438.45,291.90 438.70,291.12 438.95,290.37 439.20,289.71 439.45,289.23 439.70,289.01 439.95,289.08 440.20,289.46 440.45,290.07 440.70,290.84 440.95,291.69 441.20,292.55 441.45,293.37 441.70,294.12 441.95,294.78 442.20,295.35 442.45,295.81 442.70,296.19 442.95,296.50 443.20,296.74 443.45,296.95 443.70,297.13 443.95,297.29 444.20,297.44 444.45,297.57 444.70,297.70 444.95,297.82 445.20,297.94 445.45,298.06 445.70,298.17 445.95,298.27 446.20,298.37 446.45,298.46 446.70,298.54 446.95,298.61 447.20,298.67 447.45,298.72 447.70,298.78 447.95,298.84 448.20,298.89 448.45,298.94 448.70,298.99 448.95,299.04 449.20,299.08 449.45,299.11 449.70,299.14 449.95,299.17 450.20,299.19 450.45,299.20 450.70,299.20 450.95,299.18 451.20,299.12 451.45,299.02 451.70,298.90 451.95,298.75 452.20,298.59 452.45,298.41 452.70,298.23 452.95,298.04 453.20,297.86 453.45,297.68 453.70,297.51 453.95,297.36 454.20,297.23 454.45,297.11 454.70,297.01 454.95,296.91 455.20,296.78 455.45,296.61 455.70,296.38 455.95,296.07 456.20,295.69 456.45,295.28 456.70,294.89 456.95,294.63 457.20,294.60 457.45,294.85 457.70,295.31 457.95,295.89 458.20,296.48 458.45,297.00 458.70,297.42 458.95,297.72 459.20,297.92 459.45,298.05 459.70,298.12 459.95,298.16 460.20,298.17 460.45,298.17 460.70,298.15 460.95,298.13 461.20,298.10 461.45,298.06 461.70,298.02 461.95,297.97 462.20,297.92 462.45,297.86 462.70,297.80 462.95,297.72 463.20,297.63 463.45,297.51 463.70,297.37 463.95,297.17 464.20,296.91 464.45,296.54 464.70,296.04 464.95,295.36 465.20,294.44 465.45,293.23 465.70,291.71 465.95,289.84 466.20,287.65 466.45,285.19 466.70,282.56 466.95,279.95 467.20,277.60 467.45,275.81 467.70,274.88 467.95,275.00 468.20,276.15 468.45,278.10 468.70,280.56 468.95,283.22 469.20,285.85 469.45,288.30 469.70,290.46 469.95,292.28 470.20,293.77 470.45,294.94 470.70,295.84 470.95,296.52 471.20,297.04 471.45,297.46 471.70,297.79 471.95,298.07 472.20,298.29 472.45,298.48 472.70,298.63 472.95,298.74 473.20,298.81 473.45,298.86 473.70,298.91 473.95,298.96 474.20,299.00 474.45,299.03 474.70,299.06 474.95,299.09 475.20,299.11 475.45,299.13 475.70,299.15 475.95,299.16 476.20,299.18 476.45,299.19 476.70,299.19 476.95,299.20 477.20,299.20 477.45,299.20 477.70,299.20"/>
<polyline fill="none" stroke="#f69c4a" stroke-width="1.05" stroke-linejoin="round" points="303.20,270.80 303.45,270.81 303.70,270.81 303.95,270.82 304.20,270.82 304.45,270.83 304.70,270.83 304.95,270.84 305.20,270.84 305.45,270.84 305.70,270.85 305.95,270.85 306.20,270.85 306.45,270.85 306.70,270.85 306.95,270.85 307.20,270.85 307.45,270.85 307.70,270.84 307.95,270.84 308.20,270.83 308.45,270.82 308.70,270.81 308.95,270.79 309.20,270.76 309.45,270.71 309.70,270.64 309.95,270.51 310.20,270.33 310.45,270.09 310.70,269.80 310.95,269.50 311.20,269.27 311.45,269.20 311.70,269.32 311.95,269.55 312.20,269.81 312.45,270.03 312.70,270.17 312.95,270.20 313.20,270.12 313.45,269.93 313.70,269.65 313.95,269.31 314.20,268.97 314.45,268.70 314.70,268.60 314.95,268.72 315.20,269.01 315.45,269.38 315.70,269.75 315.95,270.07 316.20,270.32 316.45,270.50 316.70,270.62 316.95,270.70 317.20,270.75 317.45,270.78 317.70,270.79 317.95,270.80 318.20,270.81 318.45,270.81 318.70,270.81 318.95,270.80 319.20,270.78 319.45,270.76 319.70,270.73 319.95,270.69 320.20,270.65 320.45,270.60 320.70,270.54 320.95,270.47 321.20,270.40 321.45,270.31 321.70,270.19 321.95,270.01 322.20,269.73 322.45,269.27 322.70,268.53 322.95,267.38 323.20,265.73 323.45,263.58 323.70,261.09 323.95,258.63 324.20,256.81 324.45,256.33 324.70,257.41 324.95,259.58 325.20,262.12 325.45,264.50 325.70,266.46 325.95,267.91 326.20,268.89 326.45,269.51 326.70,269.88 326.95,270.12 327.20,270.28 327.45,270.41 327.70,270.52 327.95,270.62 328.20,270.71 328.45,270.79 328.70,270.86 328.95,270.92 329.20,270.97 329.45,271.00 329.70,271.02 329.95,271.03 330.20,271.04 330.45,271.06 330.70,271.07 330.95,271.07 331.20,271.08 331.45,271.09 331.70,271.09 331.95,271.10 332.20,271.10 332.45,271.11 332.70,271.11 332.95,271.11 333.20,271.11 333.45,271.12 333.70,271.12 333.95,271.12 334.20,271.12 334.45,271.12 334.70,271.12 334.95,271.12 335.20,271.12 335.45,271.12 335.70,271.11 335.95,271.11 336.20,271.11 336.45,271.11 336.70,271.11 336.95,271.11 337.20,271.11 337.45,271.10 337.70,271.10 337.95,271.10 338.20,271.10 338.45,271.10 338.70,271.09 338.95,271.09 339.20,271.09 339.45,271.09 339.70,271.08 339.95,271.08 340.20,271.08 340.45,271.08 340.70,271.07 340.95,271.07 341.20,271.07 341.45,271.07 341.70,271.06 341.95,271.06 342.20,271.06 342.45,271.05 342.70,271.05 342.95,271.05 343.20,271.05 343.45,271.04 343.70,271.04 343.95,271.04 344.20,271.03 344.45,271.03 344.70,271.02 344.95,271.02 345.20,271.01 345.45,271.00 345.70,270.99 345.95,270.98 346.20,270.97 346.45,270.95 346.70,270.92 346.95,270.90 347.20,270.86 347.45,270.82 347.70,270.77 347.95,270.72 348.20,270.66 348.45,270.59 348.70,270.53 348.95,270.46 349.20,270.40 349.45,270.34 349.70,270.30 349.95,270.27 350.20,270.26 350.45,270.27 350.70,270.31 350.95,270.35 351.20,270.41 351.45,270.48 351.70,270.55 351.95,270.62 352.20,270.69 352.45,270.75 352.70,270.81 352.95,270.86 353.20,270.91 353.45,270.94 353.70,270.97 353.95,271.00 354.20,271.02 354.45,271.04 354.70,271.05 354.95,271.06 355.20,271.06 355.45,271.07 355.70,271.07 355.95,271.07 356.20,271.07 356.45,271.07 356.70,271.06 356.95,271.06 357.20,271.05 357.45,271.04 357.70,271.03 357.95,271.01 358.20,270.98 358.45,270.94 358.70,270.89 358.95,270.79 359.20,270.64 359.45,270.40 359.70,270.02 359.95,269.46 360.20,268.69 360.45,267.71 360.70,266.62 360.95,265.57 361.20,264.81 361.45,264.61 361.70,265.06 361.95,265.98 362.20,267.08 362.45,268.14 362.70,269.04 362.95,269.73 363.20,270.21 363.45,270.54 363.70,270.74 363.95,270.86 364.20,270.94 364.45,270.99 364.70,271.03 364.95,271.04 365.20,271.03 365.45,271.02 365.70,270.99 365.95,270.96 366.20,270.92 366.45,270.88 366.70,270.84 366.95,270.81 367.20,270.77 367.45,270.73 367.70,270.68 367.95,270.63 368.20,270.55 368.45,270.46 368.70,270.34 368.95,270.20 369.20,270.02 369.45,269.82 369.70,269.61 369.95,269.41 370.20,269.26 370.45,269.19 370.70,269.22 370.95,269.33 371.20,269.46 371.45,269.61 371.70,269.73 371.95,269.84 372.20,269.91 372.45,269.96 372.70,269.99 372.95,270.01 373.20,270.01 373.45,270.00 373.70,269.97 373.95,269.93 374.20,269.86 374.45,269.75 374.70,269.59 374.95,269.37 375.20,269.11 375.45,268.81 375.70,268.53 375.95,268.34 376.20,268.30 376.45,268.42 376.70,268.62 376.95,268.85 377.20,269.03 377.45,269.12 377.70,269.09 377.95,268.91 378.20,268.53 378.45,267.93 378.70,267.07 378.95,265.97 379.20,264.67 379.45,263.30 379.70,262.06 379.95,261.22 380.20,260.99 380.45,261.39 380.70,262.16 380.95,263.01 381.20,263.69 381.45,264.07 381.70,264.14 381.95,263.97 382.20,263.73 382.45,263.62 382.70,263.83 382.95,264.40 383.20,265.25 383.45,266.24 383.70,267.23 383.95,268.13 384.20,268.90 384.45,269.51 384.70,269.97 384.95,270.30 385.20,270.53 385.45,270.69 385.70,270.80 385.95,270.87 386.20,270.93 386.45,270.97 386.70,271.00 386.95,271.03 387.20,271.05 387.45,271.06 387.70,271.08 387.95,271.09 388.20,271.10 388.45,271.11 388.70,271.11 388.95,271.11 389.20,271.11 389.45,271.11 389.70,271.11 389.95,271.11 390.20,271.11 390.45,271.10 390.70,271.10 390.95,271.09 391.20,271.08 391.45,271.07 391.70,271.06 391.95,271.05 392.20,271.04 392.45,271.03 392.70,271.02 392.95,271.00 393.20,270.99 393.45,270.97 393.70,270.95 393.95,270.93 394.20,270.91 394.45,270.89 394.70,270.87 394.95,270.85 395.20,270.82 395.45,270.79 395.70,270.76 395.95,270.70 396.20,270.64 396.45,270.56 396.70,270.48 396.95,270.38 397.20,270.28 397.45,270.17 397.70,270.05 397.95,269.93 398.20,269.81 398.45,269.68 398.70,269.56 398.95,269.43 399.20,269.29 399.45,269.16 399.70,269.02 399.95,268.86 400.20,268.69 400.45,268.49 400.70,268.23 400.95,267.89 401.20,267.44 401.45,266.84 401.70,266.04 401.95,265.02 402.20,263.73 402.45,262.16 402.70,260.32 402.95,258.23 403.20,255.96 403.45,253.62 403.70,251.38 403.95,249.46 404.20,248.10 404.45,247.51 404.70,247.81 404.95,248.95 405.20,250.74 405.45,252.94 405.70,255.31 405.95,257.68 406.20,259.90 406.45,261.89 406.70,263.61 406.95,265.03 407.20,266.17 407.45,267.06 407.70,267.73 407.95,268.22 408.20,268.56 408.45,268.78 408.70,268.89 408.95,268.91 409.20,268.80 409.45,268.56 409.70,268.16 409.95,267.56 410.20,266.73 410.45,265.67 410.70,264.36 410.95,262.86 411.20,261.25 411.45,259.68 411.70,258.35 411.95,257.50 412.20,257.31 412.45,257.81 412.70,258.83 412.95,260.16 413.20,261.57 413.45,262.91 413.70,264.10 413.95,265.07 414.20,265.83 414.45,266.40 414.70,266.80 414.95,267.09 415.20,267.30 415.45,267.46 415.70,267.59 415.95,267.72 416.20,267.85 416.45,267.99 416.70,268.13 416.95,268.28 417.20,268.44 417.45,268.61 417.70,268.78 417.95,268.95 418.20,269.13 418.45,269.31 418.70,269.49 418.95,269.66 419.20,269.83 419.45,269.99 419.70,270.15 419.95,270.29 420.20,270.42 420.45,270.53 420.70,270.63 420.95,270.71 421.20,270.77 421.45,270.80 421.70,270.80 421.95,270.78 422.20,270.75 422.45,270.71 422.70,270.64 422.95,270.56 423.20,270.45 423.45,270.33 423.70,270.19 423.95,270.05 424.20,269.92 424.45,269.83 424.70,269.80 424.95,269.83 425.20,269.92 425.45,270.04 425.70,270.18 425.95,270.32 426.20,270.44 426.45,270.55 426.70,270.63 426.95,270.69 427.20,270.74 427.45,270.77 427.70,270.78 427.95,270.79 428.20,270.80 428.45,270.80 428.70,270.79 428.95,270.77 429.20,270.75 429.45,270.72 429.70,270.69 429.95,270.65 430.20,270.60 430.45,270.56 430.70,270.50 430.95,270.45 431.20,270.39 431.45,270.33 431.70,270.26 431.95,270.19 432.20,270.12 432.45,270.05 432.70,269.97 432.95,269.90 433.20,269.82 433.45,269.74 433.70,269.65 433.95,269.53 434.20,269.40 434.45,269.24 434.70,269.08 434.95,268.90 435.20,268.71 435.45,268.52 435.70,268.31 435.95,268.10 436.20,267.86 436.45,267.61 436.70,267.32 436.95,266.98 437.20,266.59 437.45,266.10 437.70,265.52 437.95,264.82 438.20,264.03 438.45,263.17 438.70,262.27 438.95,261.40 439.20,260.64 439.45,260.08 439.70,259.81 439.95,259.89 440.20,260.30 440.45,260.99 440.70,261.86 440.95,262.81 441.20,263.78 441.45,264.71 441.70,265.55 441.95,266.28 442.20,266.91 442.45,267.43 442.70,267.85 442.95,268.18 443.20,268.45 443.45,268.66 443.70,268.85 443.95,269.01 444.20,269.15 444.45,269.28 444.70,269.40 444.95,269.51 445.20,269.62 445.45,269.72 445.70,269.82 445.95,269.92 446.20,270.01 446.45,270.09 446.70,270.16 446.95,270.23 447.20,270.28 447.45,270.34 447.70,270.39 447.95,270.45 448.20,270.50 448.45,270.55 448.70,270.60 448.95,270.64 449.20,270.68 449.45,270.72 449.70,270.75 449.95,270.77 450.20,270.79 450.45,270.80 450.70,270.80 450.95,270.78 451.20,270.72 451.45,270.63 451.70,270.52 451.95,270.39 452.20,270.24 452.45,270.08 452.70,269.91 452.95,269.73 453.20,269.56 453.45,269.40 453.70,269.24 453.95,269.09 454.20,268.95 454.45,268.82 454.70,268.70 454.95,268.55 455.20,268.37 455.45,268.11 455.70,267.75 455.95,267.27 456.20,266.70 456.45,266.07 456.70,265.48 456.95,265.08 457.20,265.00 457.45,265.32 457.70,265.97 457.95,266.79 458.20,267.61 458.45,268.36 458.70,268.95 458.95,269.39 459.20,269.69 459.45,269.87 459.70,269.97 459.95,270.02 460.20,270.02 460.45,270.00 460.70,269.97 460.95,269.92 461.20,269.86 461.45,269.80 461.70,269.74 461.95,269.67 462.20,269.60 462.45,269.52 462.70,269.45 462.95,269.37 463.20,269.28 463.45,269.17 463.70,269.03 463.95,268.84 464.20,268.59 464.45,268.24 464.70,267.75 464.95,267.09 465.20,266.20 465.45,265.04 465.70,263.56 465.95,261.76 466.20,259.63 466.45,257.25 466.70,254.71 466.95,252.18 467.20,249.91 467.45,248.17 467.70,247.28 467.95,247.40 468.20,248.51 468.45,250.40 468.70,252.77 468.95,255.34 469.20,257.89 469.45,260.26 469.70,262.35 469.95,264.11 470.20,265.55 470.45,266.68 470.70,267.55 470.95,268.21 471.20,268.71 471.45,269.12 471.70,269.44 471.95,269.70 472.20,269.92 472.45,270.10 472.70,270.24 472.95,270.35 473.20,270.42 473.45,270.47 473.70,270.52 473.95,270.57 474.20,270.60 474.45,270.64 474.70,270.67 474.95,270.69 475.20,270.71 475.45,270.73 475.70,270.75 475.95,270.77 476.20,270.78 476.45,270.79 476.70,270.80 476.95,270.80 477.20,270.80 477.45,270.80 477.70,270.80"/>
<line x1="470.9" y1="12.4" x2="499.5" y2="12.4" stroke="#4646a6" stroke-width="1.0"/>
<text x="503.2" y="17.00" font-size="12.8" fill="#1a1a1a" stroke="#1a1a1a" stroke-width="0.35">T- ; S-</text>
<line x1="470.9" y1="28.2" x2="499.5" y2="28.2" stroke="#4ea64e" stroke-width="1.0"/>
<text x="503.2" y="32.80" font-size="12.8" fill="#1a1a1a" stroke="#1a1a1a" stroke-width="0.35">T- ; S+</text>
<line x1="470.9" y1="43.6" x2="499.5" y2="43.6" stroke="#f24cac" stroke-width="1.0"/>
<text x="503.2" y="48.20" font-size="12.8" fill="#1a1a1a" stroke="#1a1a1a" stroke-width="0.35">T+ ; S-</text>
<line x1="470.9" y1="59.1" x2="499.5" y2="59.1" stroke="#f69c4a" stroke-width="1.0"/>
<text x="503.2" y="63.70" font-size="12.8" fill="#1a1a1a" stroke="#1a1a1a" stroke-width="0.35">T+ ; S+</text>
</svg></body></html>
